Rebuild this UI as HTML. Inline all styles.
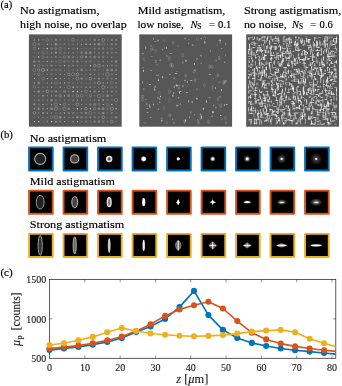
<!DOCTYPE html>
<html lang="en"><head><meta charset="utf-8"><title>Figure</title>
<style>html,body{margin:0;padding:0;background:#fff}svg{display:block}text{font-family:"Liberation Serif",serif;fill:#000}.b{stroke:#000;stroke-width:.16px}.t{fill:#1a1a1a;stroke:#1a1a1a;stroke-width:.12px}</style></head>
<body>
<svg width="342" height="386" viewBox="0 0 342 386">
<defs>
<radialGradient id="g6"><stop offset="0" stop-color="#fff" stop-opacity="1"/><stop offset="0.3" stop-color="#fff" stop-opacity="1"/><stop offset="0.6" stop-color="#fff" stop-opacity="0.5"/><stop offset="1" stop-color="#fff" stop-opacity="0"/></radialGradient>
<radialGradient id="g7"><stop offset="0" stop-color="#fff" stop-opacity="1"/><stop offset="0.25" stop-color="#fff" stop-opacity="0.95"/><stop offset="0.45" stop-color="#fff" stop-opacity="0.4"/><stop offset="0.7" stop-color="#fff" stop-opacity="0.15"/><stop offset="1" stop-color="#fff" stop-opacity="0"/></radialGradient>
<radialGradient id="g8"><stop offset="0" stop-color="#fff" stop-opacity="1"/><stop offset="0.14" stop-color="#fff" stop-opacity="0.9"/><stop offset="0.32" stop-color="#fff" stop-opacity="0.3"/><stop offset="0.6" stop-color="#fff" stop-opacity="0.15"/><stop offset="1" stop-color="#fff" stop-opacity="0"/></radialGradient>
<radialGradient id="g9"><stop offset="0" stop-color="#fff" stop-opacity="1"/><stop offset="0.1" stop-color="#fff" stop-opacity="0.9"/><stop offset="0.25" stop-color="#fff" stop-opacity="0.25"/><stop offset="0.6" stop-color="#fff" stop-opacity="0.12"/><stop offset="1" stop-color="#fff" stop-opacity="0"/></radialGradient>
<radialGradient id="gh"><stop offset="0" stop-color="#fff" stop-opacity="0.55"/><stop offset="0.5" stop-color="#fff" stop-opacity="0.3"/><stop offset="1" stop-color="#fff" stop-opacity="0"/></radialGradient>
<radialGradient id="gc"><stop offset="0" stop-color="#fff" stop-opacity="1"/><stop offset="0.6" stop-color="#fff" stop-opacity="1"/><stop offset="1" stop-color="#fff" stop-opacity="0"/></radialGradient>
<clipPath id="cp"><rect x="49.6" y="279.5" width="286.2" height="78.8"/></clipPath>
</defs>
<rect width="342" height="386" fill="#fff"/>
<text class="b" x="0.5" y="8.2" font-size="10.4" textLength="11.8" lengthAdjust="spacingAndGlyphs">(a)</text>
<text class="b" x="20" y="14.3" font-size="10.4" textLength="79.6" lengthAdjust="spacingAndGlyphs">No astigmatism,</text>
<text class="b" x="20" y="27.5" font-size="10.4" textLength="106.7" lengthAdjust="spacingAndGlyphs">high noise, no overlap</text>
<text class="b" x="137.7" y="14.3" font-size="10.4" textLength="87.7" lengthAdjust="spacingAndGlyphs">Mild astigmatism,</text>
<text class="b" x="137.4" y="27.5" font-size="10.4" textLength="46.5" lengthAdjust="spacingAndGlyphs">low noise,</text>
<text class="b" x="190.4" y="27.5" font-size="10.4" font-style="italic">N</text>
<text class="b" x="197.2" y="29.2" font-size="7.4">S</text>
<text class="b" x="209.0" y="27.5" font-size="10.4">=</text>
<text class="b" x="218.1" y="27.5" font-size="10.4" textLength="13.3" lengthAdjust="spacingAndGlyphs">0.1</text>
<text class="b" x="243.9" y="14.3" font-size="10.4" textLength="97.5" lengthAdjust="spacingAndGlyphs">Strong astigmatism,</text>
<text class="b" x="243.9" y="27.5" font-size="10.4" textLength="42.8" lengthAdjust="spacingAndGlyphs">no noise,</text>
<text class="b" x="291.9" y="27.5" font-size="10.4" font-style="italic">N</text>
<text class="b" x="298.9" y="29.2" font-size="7.4">S</text>
<text class="b" x="310.2" y="27.5" font-size="10.4">=</text>
<text class="b" x="319.6" y="27.5" font-size="10.4" textLength="13.3" lengthAdjust="spacingAndGlyphs">0.6</text>
<g><rect x="28.9" y="34.4" width="92.8" height="92.3" fill="#575757"/>
<circle cx="34.4" cy="39.9" r="0.98" fill="#fff" fill-opacity="0.23"/>
<circle cx="34.4" cy="44.2" r="1.47" fill="none" stroke="#fff" stroke-opacity="0.29" stroke-width="0.6"/>
<circle cx="34.4" cy="48.5" r="1.45" fill="none" stroke="#fff" stroke-opacity="0.21" stroke-width="0.6"/>
<circle cx="34.4" cy="52.8" r="0.93" fill="#fff" fill-opacity="0.12"/>
<circle cx="34.4" cy="57.1" r="1.31" fill="#fff" fill-opacity="0.12"/>
<circle cx="34.4" cy="61.4" r="1.21" fill="#fff" fill-opacity="0.29"/>
<circle cx="34.4" cy="65.7" r="1.10" fill="#fff" fill-opacity="0.30"/>
<circle cx="34.4" cy="70.0" r="1.63" fill="none" stroke="#fff" stroke-opacity="0.27" stroke-width="0.6"/>
<circle cx="34.4" cy="74.3" r="0.96" fill="#fff" fill-opacity="0.16"/>
<circle cx="34.4" cy="78.6" r="0.50" fill="#fff" fill-opacity="0.57"/>
<circle cx="34.4" cy="82.9" r="0.56" fill="#fff" fill-opacity="0.55"/>
<circle cx="34.4" cy="87.2" r="1.23" fill="none" stroke="#fff" stroke-opacity="0.25" stroke-width="0.6"/>
<circle cx="34.4" cy="91.5" r="0.58" fill="#fff" fill-opacity="0.42"/>
<circle cx="34.4" cy="95.8" r="1.13" fill="#fff" fill-opacity="0.16"/>
<circle cx="34.4" cy="100.1" r="0.66" fill="#fff" fill-opacity="0.38"/>
<circle cx="34.4" cy="104.4" r="1.16" fill="#fff" fill-opacity="0.28"/>
<circle cx="34.4" cy="108.7" r="0.54" fill="#fff" fill-opacity="0.79"/>
<circle cx="34.4" cy="113.0" r="1.41" fill="none" stroke="#fff" stroke-opacity="0.39" stroke-width="0.6"/>
<circle cx="34.4" cy="117.3" r="1.14" fill="#fff" fill-opacity="0.11"/>
<circle cx="34.4" cy="121.6" r="0.68" fill="#fff" fill-opacity="0.57"/>
<circle cx="38.7" cy="39.9" r="0.54" fill="#fff" fill-opacity="0.63"/>
<circle cx="38.7" cy="44.2" r="1.19" fill="#fff" fill-opacity="0.19"/>
<circle cx="38.7" cy="48.5" r="0.73" fill="#fff" fill-opacity="0.51"/>
<circle cx="38.7" cy="52.8" r="0.47" fill="#fff" fill-opacity="0.64"/>
<circle cx="38.7" cy="57.1" r="0.75" fill="#fff" fill-opacity="0.70"/>
<circle cx="38.7" cy="61.4" r="1.09" fill="#fff" fill-opacity="0.23"/>
<circle cx="38.7" cy="65.7" r="1.43" fill="none" stroke="#fff" stroke-opacity="0.24" stroke-width="0.6"/>
<circle cx="38.7" cy="70.0" r="1.23" fill="none" stroke="#fff" stroke-opacity="0.39" stroke-width="0.6"/>
<circle cx="38.7" cy="74.3" r="1.32" fill="none" stroke="#fff" stroke-opacity="0.30" stroke-width="0.6"/>
<circle cx="38.7" cy="78.6" r="0.47" fill="#fff" fill-opacity="0.50"/>
<circle cx="38.7" cy="82.9" r="1.34" fill="#fff" fill-opacity="0.26"/>
<circle cx="38.7" cy="87.2" r="0.53" fill="#fff" fill-opacity="0.48"/>
<circle cx="38.7" cy="91.5" r="1.34" fill="#fff" fill-opacity="0.29"/>
<circle cx="38.7" cy="95.8" r="0.99" fill="#fff" fill-opacity="0.15"/>
<circle cx="38.7" cy="100.1" r="1.14" fill="#fff" fill-opacity="0.22"/>
<circle cx="38.7" cy="104.4" r="0.90" fill="#fff" fill-opacity="0.18"/>
<circle cx="38.7" cy="108.7" r="1.18" fill="#fff" fill-opacity="0.29"/>
<circle cx="38.7" cy="113.0" r="0.60" fill="#fff" fill-opacity="0.59"/>
<circle cx="38.7" cy="117.3" r="0.47" fill="#fff" fill-opacity="0.74"/>
<circle cx="38.7" cy="121.6" r="0.71" fill="#fff" fill-opacity="0.69"/>
<circle cx="43.0" cy="39.9" r="1.10" fill="#fff" fill-opacity="0.12"/>
<circle cx="43.0" cy="44.2" r="0.47" fill="#fff" fill-opacity="0.29"/>
<circle cx="43.0" cy="48.5" r="0.98" fill="#fff" fill-opacity="0.17"/>
<circle cx="43.0" cy="52.8" r="1.20" fill="none" stroke="#fff" stroke-opacity="0.24" stroke-width="0.6"/>
<circle cx="43.0" cy="57.1" r="1.38" fill="none" stroke="#fff" stroke-opacity="0.21" stroke-width="0.6"/>
<circle cx="43.0" cy="61.4" r="0.63" fill="#fff" fill-opacity="0.33"/>
<circle cx="43.0" cy="65.7" r="1.07" fill="#fff" fill-opacity="0.17"/>
<circle cx="43.0" cy="70.0" r="1.62" fill="none" stroke="#fff" stroke-opacity="0.45" stroke-width="0.6"/>
<circle cx="43.0" cy="74.3" r="1.14" fill="#fff" fill-opacity="0.12"/>
<circle cx="43.0" cy="78.6" r="1.37" fill="none" stroke="#fff" stroke-opacity="0.27" stroke-width="0.6"/>
<circle cx="43.0" cy="82.9" r="0.50" fill="#fff" fill-opacity="0.26"/>
<circle cx="43.0" cy="87.2" r="0.61" fill="#fff" fill-opacity="0.33"/>
<circle cx="43.0" cy="91.5" r="0.91" fill="#fff" fill-opacity="0.21"/>
<circle cx="43.0" cy="95.8" r="0.71" fill="#fff" fill-opacity="0.63"/>
<circle cx="43.0" cy="100.1" r="1.08" fill="#fff" fill-opacity="0.13"/>
<circle cx="43.0" cy="104.4" r="0.61" fill="#fff" fill-opacity="0.68"/>
<circle cx="43.0" cy="108.7" r="1.01" fill="#fff" fill-opacity="0.26"/>
<circle cx="43.0" cy="113.0" r="0.71" fill="#fff" fill-opacity="0.69"/>
<circle cx="43.0" cy="117.3" r="0.67" fill="#fff" fill-opacity="0.37"/>
<circle cx="43.0" cy="121.6" r="1.08" fill="#fff" fill-opacity="0.11"/>
<circle cx="47.3" cy="39.9" r="1.34" fill="none" stroke="#fff" stroke-opacity="0.26" stroke-width="0.6"/>
<circle cx="47.3" cy="44.2" r="0.74" fill="#fff" fill-opacity="0.50"/>
<circle cx="47.3" cy="48.5" r="0.75" fill="#fff" fill-opacity="0.78"/>
<circle cx="47.3" cy="52.8" r="1.01" fill="#fff" fill-opacity="0.15"/>
<circle cx="47.3" cy="57.1" r="1.00" fill="#fff" fill-opacity="0.22"/>
<circle cx="47.3" cy="61.4" r="0.70" fill="#fff" fill-opacity="0.51"/>
<circle cx="47.3" cy="65.7" r="0.69" fill="#fff" fill-opacity="0.30"/>
<circle cx="47.3" cy="70.0" r="0.72" fill="#fff" fill-opacity="0.68"/>
<circle cx="47.3" cy="74.3" r="0.59" fill="#fff" fill-opacity="0.35"/>
<circle cx="47.3" cy="78.6" r="0.55" fill="#fff" fill-opacity="0.69"/>
<circle cx="47.3" cy="82.9" r="0.57" fill="#fff" fill-opacity="0.47"/>
<circle cx="47.3" cy="87.2" r="0.67" fill="#fff" fill-opacity="0.34"/>
<circle cx="47.3" cy="91.5" r="1.28" fill="none" stroke="#fff" stroke-opacity="0.43" stroke-width="0.6"/>
<circle cx="47.3" cy="95.8" r="0.49" fill="#fff" fill-opacity="0.70"/>
<circle cx="47.3" cy="100.1" r="0.65" fill="#fff" fill-opacity="0.44"/>
<circle cx="47.3" cy="104.4" r="0.97" fill="#fff" fill-opacity="0.10"/>
<circle cx="47.3" cy="108.7" r="0.64" fill="#fff" fill-opacity="0.54"/>
<circle cx="47.3" cy="113.0" r="0.58" fill="#fff" fill-opacity="0.73"/>
<circle cx="47.3" cy="117.3" r="0.51" fill="#fff" fill-opacity="0.39"/>
<circle cx="47.3" cy="121.6" r="1.02" fill="#fff" fill-opacity="0.22"/>
<circle cx="51.6" cy="39.9" r="1.11" fill="#fff" fill-opacity="0.13"/>
<circle cx="51.6" cy="44.2" r="0.56" fill="#fff" fill-opacity="0.50"/>
<circle cx="51.6" cy="48.5" r="1.35" fill="#fff" fill-opacity="0.18"/>
<circle cx="51.6" cy="52.8" r="0.60" fill="#fff" fill-opacity="0.54"/>
<circle cx="51.6" cy="57.1" r="0.91" fill="#fff" fill-opacity="0.19"/>
<circle cx="51.6" cy="61.4" r="0.90" fill="#fff" fill-opacity="0.26"/>
<circle cx="51.6" cy="65.7" r="1.14" fill="#fff" fill-opacity="0.25"/>
<circle cx="51.6" cy="70.0" r="1.06" fill="#fff" fill-opacity="0.20"/>
<circle cx="51.6" cy="74.3" r="1.29" fill="#fff" fill-opacity="0.12"/>
<circle cx="51.6" cy="78.6" r="1.02" fill="#fff" fill-opacity="0.16"/>
<circle cx="51.6" cy="82.9" r="0.60" fill="#fff" fill-opacity="0.56"/>
<circle cx="51.6" cy="87.2" r="0.72" fill="#fff" fill-opacity="0.49"/>
<circle cx="51.6" cy="91.5" r="1.15" fill="#fff" fill-opacity="0.20"/>
<circle cx="51.6" cy="95.8" r="0.59" fill="#fff" fill-opacity="0.54"/>
<circle cx="51.6" cy="100.1" r="1.37" fill="#fff" fill-opacity="0.24"/>
<circle cx="51.6" cy="104.4" r="0.73" fill="#fff" fill-opacity="0.39"/>
<circle cx="51.6" cy="108.7" r="1.37" fill="#fff" fill-opacity="0.27"/>
<circle cx="51.6" cy="113.0" r="0.96" fill="#fff" fill-opacity="0.19"/>
<circle cx="51.6" cy="117.3" r="1.32" fill="none" stroke="#fff" stroke-opacity="0.22" stroke-width="0.6"/>
<circle cx="51.6" cy="121.6" r="0.69" fill="#fff" fill-opacity="0.74"/>
<circle cx="55.9" cy="39.9" r="1.26" fill="#fff" fill-opacity="0.23"/>
<circle cx="55.9" cy="44.2" r="1.34" fill="#fff" fill-opacity="0.29"/>
<circle cx="55.9" cy="48.5" r="1.38" fill="#fff" fill-opacity="0.18"/>
<circle cx="55.9" cy="52.8" r="1.39" fill="#fff" fill-opacity="0.27"/>
<circle cx="55.9" cy="57.1" r="1.12" fill="#fff" fill-opacity="0.20"/>
<circle cx="55.9" cy="61.4" r="1.00" fill="#fff" fill-opacity="0.16"/>
<circle cx="55.9" cy="65.7" r="0.46" fill="#fff" fill-opacity="0.55"/>
<circle cx="55.9" cy="70.0" r="0.91" fill="#fff" fill-opacity="0.17"/>
<circle cx="55.9" cy="74.3" r="0.60" fill="#fff" fill-opacity="0.29"/>
<circle cx="55.9" cy="78.6" r="0.69" fill="#fff" fill-opacity="0.78"/>
<circle cx="55.9" cy="82.9" r="1.33" fill="none" stroke="#fff" stroke-opacity="0.21" stroke-width="0.6"/>
<circle cx="55.9" cy="87.2" r="0.53" fill="#fff" fill-opacity="0.32"/>
<circle cx="55.9" cy="91.5" r="1.36" fill="#fff" fill-opacity="0.26"/>
<circle cx="55.9" cy="95.8" r="0.97" fill="#fff" fill-opacity="0.28"/>
<circle cx="55.9" cy="100.1" r="1.25" fill="#fff" fill-opacity="0.12"/>
<circle cx="55.9" cy="104.4" r="1.54" fill="none" stroke="#fff" stroke-opacity="0.31" stroke-width="0.6"/>
<circle cx="55.9" cy="108.7" r="1.67" fill="none" stroke="#fff" stroke-opacity="0.36" stroke-width="0.6"/>
<circle cx="55.9" cy="113.0" r="0.48" fill="#fff" fill-opacity="0.72"/>
<circle cx="55.9" cy="117.3" r="1.63" fill="none" stroke="#fff" stroke-opacity="0.31" stroke-width="0.6"/>
<circle cx="55.9" cy="121.6" r="1.18" fill="#fff" fill-opacity="0.29"/>
<circle cx="60.2" cy="39.9" r="0.96" fill="#fff" fill-opacity="0.21"/>
<circle cx="60.2" cy="44.2" r="0.95" fill="#fff" fill-opacity="0.13"/>
<circle cx="60.2" cy="48.5" r="1.30" fill="none" stroke="#fff" stroke-opacity="0.28" stroke-width="0.6"/>
<circle cx="60.2" cy="52.8" r="1.28" fill="#fff" fill-opacity="0.16"/>
<circle cx="60.2" cy="57.1" r="0.99" fill="#fff" fill-opacity="0.17"/>
<circle cx="60.2" cy="61.4" r="1.33" fill="none" stroke="#fff" stroke-opacity="0.20" stroke-width="0.6"/>
<circle cx="60.2" cy="65.7" r="0.62" fill="#fff" fill-opacity="0.35"/>
<circle cx="60.2" cy="70.0" r="1.37" fill="#fff" fill-opacity="0.12"/>
<circle cx="60.2" cy="74.3" r="0.58" fill="#fff" fill-opacity="0.52"/>
<circle cx="60.2" cy="78.6" r="0.57" fill="#fff" fill-opacity="0.53"/>
<circle cx="60.2" cy="82.9" r="0.74" fill="#fff" fill-opacity="0.44"/>
<circle cx="60.2" cy="87.2" r="0.66" fill="#fff" fill-opacity="0.60"/>
<circle cx="60.2" cy="91.5" r="1.07" fill="#fff" fill-opacity="0.11"/>
<circle cx="60.2" cy="95.8" r="1.24" fill="none" stroke="#fff" stroke-opacity="0.39" stroke-width="0.6"/>
<circle cx="60.2" cy="100.1" r="0.98" fill="#fff" fill-opacity="0.12"/>
<circle cx="60.2" cy="104.4" r="0.71" fill="#fff" fill-opacity="0.62"/>
<circle cx="60.2" cy="108.7" r="1.02" fill="#fff" fill-opacity="0.16"/>
<circle cx="60.2" cy="113.0" r="0.98" fill="#fff" fill-opacity="0.19"/>
<circle cx="60.2" cy="117.3" r="1.38" fill="#fff" fill-opacity="0.29"/>
<circle cx="60.2" cy="121.6" r="1.02" fill="#fff" fill-opacity="0.29"/>
<circle cx="64.5" cy="39.9" r="1.08" fill="#fff" fill-opacity="0.10"/>
<circle cx="64.5" cy="44.2" r="1.14" fill="#fff" fill-opacity="0.20"/>
<circle cx="64.5" cy="48.5" r="1.15" fill="#fff" fill-opacity="0.10"/>
<circle cx="64.5" cy="52.8" r="0.94" fill="#fff" fill-opacity="0.18"/>
<circle cx="64.5" cy="57.1" r="1.21" fill="none" stroke="#fff" stroke-opacity="0.28" stroke-width="0.6"/>
<circle cx="64.5" cy="61.4" r="1.19" fill="#fff" fill-opacity="0.21"/>
<circle cx="64.5" cy="65.7" r="0.65" fill="#fff" fill-opacity="0.64"/>
<circle cx="64.5" cy="70.0" r="0.57" fill="#fff" fill-opacity="0.43"/>
<circle cx="64.5" cy="74.3" r="0.49" fill="#fff" fill-opacity="0.65"/>
<circle cx="64.5" cy="78.6" r="0.46" fill="#fff" fill-opacity="0.71"/>
<circle cx="64.5" cy="82.9" r="0.64" fill="#fff" fill-opacity="0.65"/>
<circle cx="64.5" cy="87.2" r="0.49" fill="#fff" fill-opacity="0.54"/>
<circle cx="64.5" cy="91.5" r="1.32" fill="#fff" fill-opacity="0.26"/>
<circle cx="64.5" cy="95.8" r="0.63" fill="#fff" fill-opacity="0.74"/>
<circle cx="64.5" cy="100.1" r="0.66" fill="#fff" fill-opacity="0.38"/>
<circle cx="64.5" cy="104.4" r="1.27" fill="none" stroke="#fff" stroke-opacity="0.29" stroke-width="0.6"/>
<circle cx="64.5" cy="108.7" r="1.62" fill="none" stroke="#fff" stroke-opacity="0.34" stroke-width="0.6"/>
<circle cx="64.5" cy="113.0" r="0.64" fill="#fff" fill-opacity="0.62"/>
<circle cx="64.5" cy="117.3" r="0.90" fill="#fff" fill-opacity="0.26"/>
<circle cx="64.5" cy="121.6" r="0.60" fill="#fff" fill-opacity="0.54"/>
<circle cx="68.8" cy="39.9" r="0.47" fill="#fff" fill-opacity="0.66"/>
<circle cx="68.8" cy="44.2" r="0.94" fill="#fff" fill-opacity="0.15"/>
<circle cx="68.8" cy="48.5" r="0.51" fill="#fff" fill-opacity="0.66"/>
<circle cx="68.8" cy="52.8" r="0.60" fill="#fff" fill-opacity="0.46"/>
<circle cx="68.8" cy="57.1" r="1.24" fill="#fff" fill-opacity="0.25"/>
<circle cx="68.8" cy="61.4" r="1.22" fill="#fff" fill-opacity="0.12"/>
<circle cx="68.8" cy="65.7" r="1.03" fill="#fff" fill-opacity="0.25"/>
<circle cx="68.8" cy="70.0" r="1.18" fill="#fff" fill-opacity="0.10"/>
<circle cx="68.8" cy="74.3" r="1.33" fill="none" stroke="#fff" stroke-opacity="0.37" stroke-width="0.6"/>
<circle cx="68.8" cy="78.6" r="0.65" fill="#fff" fill-opacity="0.41"/>
<circle cx="68.8" cy="82.9" r="1.13" fill="#fff" fill-opacity="0.19"/>
<circle cx="68.8" cy="87.2" r="1.65" fill="none" stroke="#fff" stroke-opacity="0.25" stroke-width="0.6"/>
<circle cx="68.8" cy="91.5" r="0.73" fill="#fff" fill-opacity="0.26"/>
<circle cx="68.8" cy="95.8" r="1.31" fill="#fff" fill-opacity="0.29"/>
<circle cx="68.8" cy="100.1" r="1.03" fill="#fff" fill-opacity="0.14"/>
<circle cx="68.8" cy="104.4" r="0.51" fill="#fff" fill-opacity="0.57"/>
<circle cx="68.8" cy="108.7" r="1.16" fill="#fff" fill-opacity="0.29"/>
<circle cx="68.8" cy="113.0" r="1.31" fill="#fff" fill-opacity="0.20"/>
<circle cx="68.8" cy="117.3" r="0.66" fill="#fff" fill-opacity="0.38"/>
<circle cx="68.8" cy="121.6" r="0.60" fill="#fff" fill-opacity="0.26"/>
<circle cx="73.1" cy="39.9" r="1.45" fill="none" stroke="#fff" stroke-opacity="0.31" stroke-width="0.6"/>
<circle cx="73.1" cy="44.2" r="0.97" fill="#fff" fill-opacity="0.17"/>
<circle cx="73.1" cy="48.5" r="1.32" fill="#fff" fill-opacity="0.10"/>
<circle cx="73.1" cy="52.8" r="0.70" fill="#fff" fill-opacity="0.32"/>
<circle cx="73.1" cy="57.1" r="0.66" fill="#fff" fill-opacity="0.75"/>
<circle cx="73.1" cy="61.4" r="1.09" fill="#fff" fill-opacity="0.18"/>
<circle cx="73.1" cy="65.7" r="0.63" fill="#fff" fill-opacity="0.45"/>
<circle cx="73.1" cy="70.0" r="1.04" fill="#fff" fill-opacity="0.11"/>
<circle cx="73.1" cy="74.3" r="1.62" fill="none" stroke="#fff" stroke-opacity="0.27" stroke-width="0.6"/>
<circle cx="73.1" cy="78.6" r="0.52" fill="#fff" fill-opacity="0.40"/>
<circle cx="73.1" cy="82.9" r="0.99" fill="#fff" fill-opacity="0.17"/>
<circle cx="73.1" cy="87.2" r="0.72" fill="#fff" fill-opacity="0.70"/>
<circle cx="73.1" cy="91.5" r="0.72" fill="#fff" fill-opacity="0.77"/>
<circle cx="73.1" cy="95.8" r="1.26" fill="#fff" fill-opacity="0.11"/>
<circle cx="73.1" cy="100.1" r="0.59" fill="#fff" fill-opacity="0.66"/>
<circle cx="73.1" cy="104.4" r="0.54" fill="#fff" fill-opacity="0.28"/>
<circle cx="73.1" cy="108.7" r="0.49" fill="#fff" fill-opacity="0.51"/>
<circle cx="73.1" cy="113.0" r="1.05" fill="#fff" fill-opacity="0.25"/>
<circle cx="73.1" cy="117.3" r="0.53" fill="#fff" fill-opacity="0.61"/>
<circle cx="73.1" cy="121.6" r="1.18" fill="#fff" fill-opacity="0.18"/>
<circle cx="77.4" cy="39.9" r="0.98" fill="#fff" fill-opacity="0.14"/>
<circle cx="77.4" cy="44.2" r="0.60" fill="#fff" fill-opacity="0.37"/>
<circle cx="77.4" cy="48.5" r="0.75" fill="#fff" fill-opacity="0.50"/>
<circle cx="77.4" cy="52.8" r="1.00" fill="#fff" fill-opacity="0.12"/>
<circle cx="77.4" cy="57.1" r="0.95" fill="#fff" fill-opacity="0.15"/>
<circle cx="77.4" cy="61.4" r="1.18" fill="#fff" fill-opacity="0.28"/>
<circle cx="77.4" cy="65.7" r="0.57" fill="#fff" fill-opacity="0.48"/>
<circle cx="77.4" cy="70.0" r="1.09" fill="#fff" fill-opacity="0.17"/>
<circle cx="77.4" cy="74.3" r="1.34" fill="none" stroke="#fff" stroke-opacity="0.44" stroke-width="0.6"/>
<circle cx="77.4" cy="78.6" r="1.45" fill="none" stroke="#fff" stroke-opacity="0.36" stroke-width="0.6"/>
<circle cx="77.4" cy="82.9" r="0.51" fill="#fff" fill-opacity="0.40"/>
<circle cx="77.4" cy="87.2" r="1.10" fill="#fff" fill-opacity="0.19"/>
<circle cx="77.4" cy="91.5" r="0.70" fill="#fff" fill-opacity="0.73"/>
<circle cx="77.4" cy="95.8" r="1.22" fill="none" stroke="#fff" stroke-opacity="0.38" stroke-width="0.6"/>
<circle cx="77.4" cy="100.1" r="0.59" fill="#fff" fill-opacity="0.57"/>
<circle cx="77.4" cy="104.4" r="1.40" fill="none" stroke="#fff" stroke-opacity="0.43" stroke-width="0.6"/>
<circle cx="77.4" cy="108.7" r="0.71" fill="#fff" fill-opacity="0.78"/>
<circle cx="77.4" cy="113.0" r="0.95" fill="#fff" fill-opacity="0.13"/>
<circle cx="77.4" cy="117.3" r="1.24" fill="#fff" fill-opacity="0.29"/>
<circle cx="77.4" cy="121.6" r="0.64" fill="#fff" fill-opacity="0.67"/>
<circle cx="81.7" cy="39.9" r="1.18" fill="#fff" fill-opacity="0.11"/>
<circle cx="81.7" cy="44.2" r="0.52" fill="#fff" fill-opacity="0.76"/>
<circle cx="81.7" cy="48.5" r="0.54" fill="#fff" fill-opacity="0.32"/>
<circle cx="81.7" cy="52.8" r="1.22" fill="#fff" fill-opacity="0.24"/>
<circle cx="81.7" cy="57.1" r="1.24" fill="none" stroke="#fff" stroke-opacity="0.33" stroke-width="0.6"/>
<circle cx="81.7" cy="61.4" r="1.09" fill="#fff" fill-opacity="0.14"/>
<circle cx="81.7" cy="65.7" r="0.91" fill="#fff" fill-opacity="0.16"/>
<circle cx="81.7" cy="70.0" r="1.38" fill="#fff" fill-opacity="0.23"/>
<circle cx="81.7" cy="74.3" r="0.59" fill="#fff" fill-opacity="0.38"/>
<circle cx="81.7" cy="78.6" r="1.38" fill="#fff" fill-opacity="0.24"/>
<circle cx="81.7" cy="82.9" r="0.91" fill="#fff" fill-opacity="0.20"/>
<circle cx="81.7" cy="87.2" r="0.58" fill="#fff" fill-opacity="0.39"/>
<circle cx="81.7" cy="91.5" r="0.73" fill="#fff" fill-opacity="0.37"/>
<circle cx="81.7" cy="95.8" r="1.37" fill="none" stroke="#fff" stroke-opacity="0.31" stroke-width="0.6"/>
<circle cx="81.7" cy="100.1" r="0.51" fill="#fff" fill-opacity="0.69"/>
<circle cx="81.7" cy="104.4" r="0.60" fill="#fff" fill-opacity="0.36"/>
<circle cx="81.7" cy="108.7" r="0.54" fill="#fff" fill-opacity="0.70"/>
<circle cx="81.7" cy="113.0" r="1.01" fill="#fff" fill-opacity="0.25"/>
<circle cx="81.7" cy="117.3" r="1.38" fill="#fff" fill-opacity="0.20"/>
<circle cx="81.7" cy="121.6" r="1.01" fill="#fff" fill-opacity="0.18"/>
<circle cx="86.0" cy="39.9" r="0.73" fill="#fff" fill-opacity="0.33"/>
<circle cx="86.0" cy="44.2" r="1.01" fill="#fff" fill-opacity="0.29"/>
<circle cx="86.0" cy="48.5" r="0.93" fill="#fff" fill-opacity="0.11"/>
<circle cx="86.0" cy="52.8" r="1.35" fill="#fff" fill-opacity="0.28"/>
<circle cx="86.0" cy="57.1" r="0.75" fill="#fff" fill-opacity="0.76"/>
<circle cx="86.0" cy="61.4" r="0.99" fill="#fff" fill-opacity="0.29"/>
<circle cx="86.0" cy="65.7" r="0.46" fill="#fff" fill-opacity="0.62"/>
<circle cx="86.0" cy="70.0" r="1.09" fill="#fff" fill-opacity="0.17"/>
<circle cx="86.0" cy="74.3" r="0.90" fill="#fff" fill-opacity="0.16"/>
<circle cx="86.0" cy="78.6" r="1.38" fill="#fff" fill-opacity="0.12"/>
<circle cx="86.0" cy="82.9" r="0.51" fill="#fff" fill-opacity="0.45"/>
<circle cx="86.0" cy="87.2" r="0.70" fill="#fff" fill-opacity="0.49"/>
<circle cx="86.0" cy="91.5" r="1.44" fill="none" stroke="#fff" stroke-opacity="0.29" stroke-width="0.6"/>
<circle cx="86.0" cy="95.8" r="0.51" fill="#fff" fill-opacity="0.45"/>
<circle cx="86.0" cy="100.1" r="0.46" fill="#fff" fill-opacity="0.48"/>
<circle cx="86.0" cy="104.4" r="0.68" fill="#fff" fill-opacity="0.27"/>
<circle cx="86.0" cy="108.7" r="1.23" fill="none" stroke="#fff" stroke-opacity="0.43" stroke-width="0.6"/>
<circle cx="86.0" cy="113.0" r="1.27" fill="#fff" fill-opacity="0.28"/>
<circle cx="86.0" cy="117.3" r="1.04" fill="#fff" fill-opacity="0.29"/>
<circle cx="86.0" cy="121.6" r="1.03" fill="#fff" fill-opacity="0.24"/>
<circle cx="90.3" cy="39.9" r="1.04" fill="#fff" fill-opacity="0.10"/>
<circle cx="90.3" cy="44.2" r="0.72" fill="#fff" fill-opacity="0.60"/>
<circle cx="90.3" cy="48.5" r="0.46" fill="#fff" fill-opacity="0.38"/>
<circle cx="90.3" cy="52.8" r="1.38" fill="#fff" fill-opacity="0.29"/>
<circle cx="90.3" cy="57.1" r="1.03" fill="#fff" fill-opacity="0.19"/>
<circle cx="90.3" cy="61.4" r="1.36" fill="#fff" fill-opacity="0.14"/>
<circle cx="90.3" cy="65.7" r="0.67" fill="#fff" fill-opacity="0.70"/>
<circle cx="90.3" cy="70.0" r="0.63" fill="#fff" fill-opacity="0.43"/>
<circle cx="90.3" cy="74.3" r="1.08" fill="#fff" fill-opacity="0.26"/>
<circle cx="90.3" cy="78.6" r="1.30" fill="none" stroke="#fff" stroke-opacity="0.39" stroke-width="0.6"/>
<circle cx="90.3" cy="82.9" r="0.93" fill="#fff" fill-opacity="0.11"/>
<circle cx="90.3" cy="87.2" r="1.06" fill="#fff" fill-opacity="0.30"/>
<circle cx="90.3" cy="91.5" r="0.75" fill="#fff" fill-opacity="0.40"/>
<circle cx="90.3" cy="95.8" r="1.25" fill="none" stroke="#fff" stroke-opacity="0.32" stroke-width="0.6"/>
<circle cx="90.3" cy="100.1" r="0.58" fill="#fff" fill-opacity="0.38"/>
<circle cx="90.3" cy="104.4" r="1.21" fill="#fff" fill-opacity="0.23"/>
<circle cx="90.3" cy="108.7" r="0.70" fill="#fff" fill-opacity="0.62"/>
<circle cx="90.3" cy="113.0" r="1.62" fill="none" stroke="#fff" stroke-opacity="0.27" stroke-width="0.6"/>
<circle cx="90.3" cy="117.3" r="1.09" fill="#fff" fill-opacity="0.25"/>
<circle cx="90.3" cy="121.6" r="1.02" fill="#fff" fill-opacity="0.15"/>
<circle cx="94.6" cy="39.9" r="1.34" fill="#fff" fill-opacity="0.22"/>
<circle cx="94.6" cy="44.2" r="1.10" fill="#fff" fill-opacity="0.30"/>
<circle cx="94.6" cy="48.5" r="1.02" fill="#fff" fill-opacity="0.26"/>
<circle cx="94.6" cy="52.8" r="0.75" fill="#fff" fill-opacity="0.31"/>
<circle cx="94.6" cy="57.1" r="1.31" fill="#fff" fill-opacity="0.27"/>
<circle cx="94.6" cy="61.4" r="0.46" fill="#fff" fill-opacity="0.41"/>
<circle cx="94.6" cy="65.7" r="1.29" fill="none" stroke="#fff" stroke-opacity="0.44" stroke-width="0.6"/>
<circle cx="94.6" cy="70.0" r="1.37" fill="#fff" fill-opacity="0.17"/>
<circle cx="94.6" cy="74.3" r="0.58" fill="#fff" fill-opacity="0.39"/>
<circle cx="94.6" cy="78.6" r="0.73" fill="#fff" fill-opacity="0.31"/>
<circle cx="94.6" cy="82.9" r="1.21" fill="#fff" fill-opacity="0.14"/>
<circle cx="94.6" cy="87.2" r="0.97" fill="#fff" fill-opacity="0.14"/>
<circle cx="94.6" cy="91.5" r="1.20" fill="#fff" fill-opacity="0.23"/>
<circle cx="94.6" cy="95.8" r="0.91" fill="#fff" fill-opacity="0.17"/>
<circle cx="94.6" cy="100.1" r="0.51" fill="#fff" fill-opacity="0.42"/>
<circle cx="94.6" cy="104.4" r="1.30" fill="#fff" fill-opacity="0.21"/>
<circle cx="94.6" cy="108.7" r="1.25" fill="none" stroke="#fff" stroke-opacity="0.30" stroke-width="0.6"/>
<circle cx="94.6" cy="113.0" r="1.22" fill="#fff" fill-opacity="0.12"/>
<circle cx="94.6" cy="117.3" r="1.25" fill="#fff" fill-opacity="0.18"/>
<circle cx="94.6" cy="121.6" r="1.05" fill="#fff" fill-opacity="0.29"/>
<circle cx="98.9" cy="39.9" r="1.18" fill="#fff" fill-opacity="0.17"/>
<circle cx="98.9" cy="44.2" r="1.33" fill="#fff" fill-opacity="0.30"/>
<circle cx="98.9" cy="48.5" r="1.00" fill="#fff" fill-opacity="0.25"/>
<circle cx="98.9" cy="52.8" r="0.90" fill="#fff" fill-opacity="0.28"/>
<circle cx="98.9" cy="57.1" r="1.31" fill="#fff" fill-opacity="0.18"/>
<circle cx="98.9" cy="61.4" r="0.59" fill="#fff" fill-opacity="0.34"/>
<circle cx="98.9" cy="65.7" r="1.48" fill="none" stroke="#fff" stroke-opacity="0.36" stroke-width="0.6"/>
<circle cx="98.9" cy="70.0" r="0.48" fill="#fff" fill-opacity="0.59"/>
<circle cx="98.9" cy="74.3" r="1.15" fill="#fff" fill-opacity="0.13"/>
<circle cx="98.9" cy="78.6" r="1.16" fill="#fff" fill-opacity="0.29"/>
<circle cx="98.9" cy="82.9" r="1.45" fill="none" stroke="#fff" stroke-opacity="0.40" stroke-width="0.6"/>
<circle cx="98.9" cy="87.2" r="0.51" fill="#fff" fill-opacity="0.32"/>
<circle cx="98.9" cy="91.5" r="0.74" fill="#fff" fill-opacity="0.52"/>
<circle cx="98.9" cy="95.8" r="1.66" fill="none" stroke="#fff" stroke-opacity="0.30" stroke-width="0.6"/>
<circle cx="98.9" cy="100.1" r="0.64" fill="#fff" fill-opacity="0.70"/>
<circle cx="98.9" cy="104.4" r="1.29" fill="#fff" fill-opacity="0.14"/>
<circle cx="98.9" cy="108.7" r="1.32" fill="#fff" fill-opacity="0.27"/>
<circle cx="98.9" cy="113.0" r="1.01" fill="#fff" fill-opacity="0.18"/>
<circle cx="98.9" cy="117.3" r="1.09" fill="#fff" fill-opacity="0.12"/>
<circle cx="98.9" cy="121.6" r="1.26" fill="#fff" fill-opacity="0.28"/>
<circle cx="103.2" cy="39.9" r="1.48" fill="none" stroke="#fff" stroke-opacity="0.39" stroke-width="0.6"/>
<circle cx="103.2" cy="44.2" r="1.62" fill="none" stroke="#fff" stroke-opacity="0.23" stroke-width="0.6"/>
<circle cx="103.2" cy="48.5" r="1.18" fill="#fff" fill-opacity="0.23"/>
<circle cx="103.2" cy="52.8" r="1.11" fill="#fff" fill-opacity="0.22"/>
<circle cx="103.2" cy="57.1" r="1.23" fill="#fff" fill-opacity="0.19"/>
<circle cx="103.2" cy="61.4" r="0.91" fill="#fff" fill-opacity="0.22"/>
<circle cx="103.2" cy="65.7" r="1.02" fill="#fff" fill-opacity="0.25"/>
<circle cx="103.2" cy="70.0" r="0.59" fill="#fff" fill-opacity="0.35"/>
<circle cx="103.2" cy="74.3" r="0.95" fill="#fff" fill-opacity="0.13"/>
<circle cx="103.2" cy="78.6" r="0.95" fill="#fff" fill-opacity="0.19"/>
<circle cx="103.2" cy="82.9" r="0.92" fill="#fff" fill-opacity="0.23"/>
<circle cx="103.2" cy="87.2" r="1.57" fill="none" stroke="#fff" stroke-opacity="0.39" stroke-width="0.6"/>
<circle cx="103.2" cy="91.5" r="0.93" fill="#fff" fill-opacity="0.20"/>
<circle cx="103.2" cy="95.8" r="1.38" fill="#fff" fill-opacity="0.13"/>
<circle cx="103.2" cy="100.1" r="0.75" fill="#fff" fill-opacity="0.65"/>
<circle cx="103.2" cy="104.4" r="0.51" fill="#fff" fill-opacity="0.79"/>
<circle cx="103.2" cy="108.7" r="1.38" fill="#fff" fill-opacity="0.28"/>
<circle cx="103.2" cy="113.0" r="1.29" fill="#fff" fill-opacity="0.29"/>
<circle cx="103.2" cy="117.3" r="1.38" fill="none" stroke="#fff" stroke-opacity="0.39" stroke-width="0.6"/>
<circle cx="103.2" cy="121.6" r="1.35" fill="#fff" fill-opacity="0.15"/>
<circle cx="107.5" cy="39.9" r="0.49" fill="#fff" fill-opacity="0.53"/>
<circle cx="107.5" cy="44.2" r="0.51" fill="#fff" fill-opacity="0.39"/>
<circle cx="107.5" cy="48.5" r="1.06" fill="#fff" fill-opacity="0.11"/>
<circle cx="107.5" cy="52.8" r="0.98" fill="#fff" fill-opacity="0.29"/>
<circle cx="107.5" cy="57.1" r="0.72" fill="#fff" fill-opacity="0.34"/>
<circle cx="107.5" cy="61.4" r="0.48" fill="#fff" fill-opacity="0.54"/>
<circle cx="107.5" cy="65.7" r="0.56" fill="#fff" fill-opacity="0.73"/>
<circle cx="107.5" cy="70.0" r="1.19" fill="#fff" fill-opacity="0.28"/>
<circle cx="107.5" cy="74.3" r="1.70" fill="none" stroke="#fff" stroke-opacity="0.36" stroke-width="0.6"/>
<circle cx="107.5" cy="78.6" r="1.30" fill="#fff" fill-opacity="0.15"/>
<circle cx="107.5" cy="82.9" r="0.62" fill="#fff" fill-opacity="0.45"/>
<circle cx="107.5" cy="87.2" r="0.58" fill="#fff" fill-opacity="0.35"/>
<circle cx="107.5" cy="91.5" r="0.46" fill="#fff" fill-opacity="0.70"/>
<circle cx="107.5" cy="95.8" r="1.22" fill="#fff" fill-opacity="0.30"/>
<circle cx="107.5" cy="100.1" r="1.23" fill="#fff" fill-opacity="0.16"/>
<circle cx="107.5" cy="104.4" r="1.22" fill="none" stroke="#fff" stroke-opacity="0.24" stroke-width="0.6"/>
<circle cx="107.5" cy="108.7" r="1.12" fill="#fff" fill-opacity="0.20"/>
<circle cx="107.5" cy="113.0" r="0.49" fill="#fff" fill-opacity="0.37"/>
<circle cx="107.5" cy="117.3" r="0.46" fill="#fff" fill-opacity="0.25"/>
<circle cx="107.5" cy="121.6" r="0.95" fill="#fff" fill-opacity="0.17"/>
<circle cx="111.8" cy="39.9" r="1.19" fill="#fff" fill-opacity="0.22"/>
<circle cx="111.8" cy="44.2" r="1.21" fill="#fff" fill-opacity="0.19"/>
<circle cx="111.8" cy="48.5" r="1.37" fill="#fff" fill-opacity="0.15"/>
<circle cx="111.8" cy="52.8" r="0.95" fill="#fff" fill-opacity="0.23"/>
<circle cx="111.8" cy="57.1" r="0.68" fill="#fff" fill-opacity="0.47"/>
<circle cx="111.8" cy="61.4" r="0.91" fill="#fff" fill-opacity="0.23"/>
<circle cx="111.8" cy="65.7" r="1.08" fill="#fff" fill-opacity="0.23"/>
<circle cx="111.8" cy="70.0" r="1.37" fill="#fff" fill-opacity="0.25"/>
<circle cx="111.8" cy="74.3" r="1.35" fill="#fff" fill-opacity="0.11"/>
<circle cx="111.8" cy="78.6" r="1.10" fill="#fff" fill-opacity="0.15"/>
<circle cx="111.8" cy="82.9" r="1.59" fill="none" stroke="#fff" stroke-opacity="0.20" stroke-width="0.6"/>
<circle cx="111.8" cy="87.2" r="1.37" fill="#fff" fill-opacity="0.13"/>
<circle cx="111.8" cy="91.5" r="1.20" fill="#fff" fill-opacity="0.20"/>
<circle cx="111.8" cy="95.8" r="0.69" fill="#fff" fill-opacity="0.35"/>
<circle cx="111.8" cy="100.1" r="1.05" fill="#fff" fill-opacity="0.11"/>
<circle cx="111.8" cy="104.4" r="0.68" fill="#fff" fill-opacity="0.64"/>
<circle cx="111.8" cy="108.7" r="1.62" fill="none" stroke="#fff" stroke-opacity="0.39" stroke-width="0.6"/>
<circle cx="111.8" cy="113.0" r="1.27" fill="#fff" fill-opacity="0.19"/>
<circle cx="111.8" cy="117.3" r="0.95" fill="#fff" fill-opacity="0.15"/>
<circle cx="111.8" cy="121.6" r="1.37" fill="none" stroke="#fff" stroke-opacity="0.39" stroke-width="0.6"/>
<circle cx="116.1" cy="39.9" r="0.70" fill="#fff" fill-opacity="0.64"/>
<circle cx="116.1" cy="44.2" r="1.18" fill="#fff" fill-opacity="0.19"/>
<circle cx="116.1" cy="48.5" r="0.61" fill="#fff" fill-opacity="0.40"/>
<circle cx="116.1" cy="52.8" r="0.74" fill="#fff" fill-opacity="0.37"/>
<circle cx="116.1" cy="57.1" r="0.45" fill="#fff" fill-opacity="0.39"/>
<circle cx="116.1" cy="61.4" r="1.27" fill="#fff" fill-opacity="0.29"/>
<circle cx="116.1" cy="65.7" r="0.55" fill="#fff" fill-opacity="0.73"/>
<circle cx="116.1" cy="70.0" r="1.02" fill="#fff" fill-opacity="0.28"/>
<circle cx="116.1" cy="74.3" r="0.66" fill="#fff" fill-opacity="0.62"/>
<circle cx="116.1" cy="78.6" r="0.59" fill="#fff" fill-opacity="0.71"/>
<circle cx="116.1" cy="82.9" r="0.71" fill="#fff" fill-opacity="0.49"/>
<circle cx="116.1" cy="87.2" r="0.62" fill="#fff" fill-opacity="0.42"/>
<circle cx="116.1" cy="91.5" r="1.21" fill="#fff" fill-opacity="0.12"/>
<circle cx="116.1" cy="95.8" r="0.49" fill="#fff" fill-opacity="0.26"/>
<circle cx="116.1" cy="100.1" r="1.66" fill="none" stroke="#fff" stroke-opacity="0.29" stroke-width="0.6"/>
<circle cx="116.1" cy="104.4" r="0.91" fill="#fff" fill-opacity="0.11"/>
<circle cx="116.1" cy="108.7" r="0.64" fill="#fff" fill-opacity="0.63"/>
<circle cx="116.1" cy="113.0" r="0.47" fill="#fff" fill-opacity="0.57"/>
<circle cx="116.1" cy="117.3" r="1.31" fill="#fff" fill-opacity="0.26"/>
<circle cx="116.1" cy="121.6" r="0.47" fill="#fff" fill-opacity="0.73"/>
</g>
<g><rect x="139.3" y="34.4" width="92.8" height="92.3" fill="#575757"/>
<ellipse cx="221.7" cy="118.9" rx="0.76" ry="1.48" fill="none" stroke="#fff" stroke-opacity="0.21" stroke-width="0.5"/>
<ellipse cx="215.9" cy="107.5" rx="0.52" ry="1.08" fill="#fff" fill-opacity="0.51"/>
<ellipse cx="151.0" cy="45.8" rx="0.39" ry="0.89" fill="#fff" fill-opacity="0.58"/>
<ellipse cx="144.1" cy="59.6" rx="0.91" ry="1.66" fill="none" stroke="#fff" stroke-opacity="0.28" stroke-width="0.5"/>
<ellipse cx="226.0" cy="80.9" rx="1.23" ry="0.30" fill="#fff" fill-opacity="0.56"/>
<ellipse cx="180.2" cy="104.1" rx="0.49" ry="1.02" fill="#fff" fill-opacity="0.47"/>
<ellipse cx="217.1" cy="45.2" rx="0.38" ry="0.70" fill="#fff" fill-opacity="0.46"/>
<ellipse cx="208.5" cy="121.8" rx="0.85" ry="1.74" fill="none" stroke="#fff" stroke-opacity="0.40" stroke-width="0.5"/>
<ellipse cx="158.3" cy="80.1" rx="0.52" ry="0.86" fill="#fff" fill-opacity="0.87"/>
<ellipse cx="166.9" cy="55.9" rx="0.45" ry="0.77" fill="#fff" fill-opacity="0.70"/>
<ellipse cx="149.3" cy="105.4" rx="0.51" ry="1.08" fill="#fff" fill-opacity="0.55"/>
<ellipse cx="177.1" cy="71.5" rx="0.86" ry="0.43" fill="#fff" fill-opacity="0.36"/>
<ellipse cx="160.2" cy="60.1" rx="1.15" ry="0.36" fill="#fff" fill-opacity="0.79"/>
<ellipse cx="162.6" cy="77.2" rx="0.50" ry="1.15" fill="#fff" fill-opacity="0.71"/>
<ellipse cx="172.5" cy="65.6" rx="0.95" ry="1.86" fill="none" stroke="#fff" stroke-opacity="0.39" stroke-width="0.5"/>
<ellipse cx="157.0" cy="75.3" rx="0.47" ry="0.78" fill="#fff" fill-opacity="0.60"/>
<ellipse cx="219.1" cy="57.9" rx="0.79" ry="1.89" fill="none" stroke="#fff" stroke-opacity="0.41" stroke-width="0.5"/>
<ellipse cx="155.7" cy="50.9" rx="0.80" ry="1.77" fill="none" stroke="#fff" stroke-opacity="0.24" stroke-width="0.5"/>
<ellipse cx="170.8" cy="53.7" rx="1.31" ry="0.32" fill="#fff" fill-opacity="0.83"/>
<ellipse cx="151.1" cy="70.6" rx="1.36" ry="0.41" fill="#fff" fill-opacity="0.57"/>
<ellipse cx="159.3" cy="92.5" rx="0.76" ry="1.67" fill="none" stroke="#fff" stroke-opacity="0.21" stroke-width="0.5"/>
<ellipse cx="176.9" cy="105.7" rx="0.45" ry="1.08" fill="#fff" fill-opacity="0.60"/>
<ellipse cx="154.6" cy="89.5" rx="0.50" ry="1.24" fill="#fff" fill-opacity="0.59"/>
<ellipse cx="192.1" cy="102.0" rx="0.40" ry="1.13" fill="#fff" fill-opacity="0.83"/>
<ellipse cx="209.5" cy="97.8" rx="1.28" ry="0.40" fill="#fff" fill-opacity="0.58"/>
<ellipse cx="169.5" cy="91.6" rx="0.83" ry="1.95" fill="none" stroke="#fff" stroke-opacity="0.38" stroke-width="0.5"/>
<ellipse cx="197.0" cy="59.0" rx="0.44" ry="1.07" fill="#fff" fill-opacity="0.58"/>
<ellipse cx="200.9" cy="117.7" rx="0.90" ry="1.94" fill="none" stroke="#fff" stroke-opacity="0.30" stroke-width="0.5"/>
<ellipse cx="184.8" cy="121.5" rx="0.86" ry="1.51" fill="none" stroke="#fff" stroke-opacity="0.40" stroke-width="0.5"/>
<ellipse cx="223.9" cy="82.2" rx="0.87" ry="1.78" fill="none" stroke="#fff" stroke-opacity="0.38" stroke-width="0.5"/>
<ellipse cx="186.8" cy="92.6" rx="1.17" ry="0.36" fill="#fff" fill-opacity="0.82"/>
<ellipse cx="160.5" cy="96.5" rx="0.50" ry="0.77" fill="#fff" fill-opacity="0.89"/>
<ellipse cx="173.2" cy="42.3" rx="0.82" ry="1.41" fill="none" stroke="#fff" stroke-opacity="0.30" stroke-width="0.5"/>
<ellipse cx="178.8" cy="97.7" rx="0.40" ry="0.83" fill="#fff" fill-opacity="0.76"/>
<ellipse cx="223.9" cy="82.9" rx="0.94" ry="1.67" fill="none" stroke="#fff" stroke-opacity="0.25" stroke-width="0.5"/>
<ellipse cx="153.5" cy="104.4" rx="0.48" ry="0.98" fill="#fff" fill-opacity="0.66"/>
<ellipse cx="161.9" cy="120.6" rx="0.48" ry="1.19" fill="#fff" fill-opacity="0.80"/>
<ellipse cx="182.9" cy="62.8" rx="0.38" ry="1.20" fill="#fff" fill-opacity="0.55"/>
<ellipse cx="216.1" cy="60.5" rx="0.40" ry="0.96" fill="#fff" fill-opacity="0.45"/>
<ellipse cx="142.5" cy="99.7" rx="0.77" ry="1.61" fill="none" stroke="#fff" stroke-opacity="0.32" stroke-width="0.5"/>
<ellipse cx="179.5" cy="92.4" rx="0.42" ry="1.26" fill="#fff" fill-opacity="0.82"/>
<ellipse cx="147.3" cy="108.8" rx="1.35" ry="0.32" fill="#fff" fill-opacity="0.77"/>
<ellipse cx="197.3" cy="38.7" rx="0.99" ry="1.86" fill="none" stroke="#fff" stroke-opacity="0.26" stroke-width="0.5"/>
<ellipse cx="151.1" cy="49.7" rx="0.93" ry="1.64" fill="none" stroke="#fff" stroke-opacity="0.24" stroke-width="0.5"/>
<ellipse cx="220.8" cy="105.7" rx="0.97" ry="1.83" fill="none" stroke="#fff" stroke-opacity="0.40" stroke-width="0.5"/>
<ellipse cx="200.3" cy="114.5" rx="0.52" ry="0.82" fill="#fff" fill-opacity="0.73"/>
<ellipse cx="188.4" cy="101.4" rx="0.53" ry="1.03" fill="#fff" fill-opacity="0.50"/>
<ellipse cx="162.6" cy="49.4" rx="0.36" ry="0.98" fill="#fff" fill-opacity="0.43"/>
<ellipse cx="185.0" cy="80.4" rx="0.52" ry="0.70" fill="#fff" fill-opacity="0.81"/>
<ellipse cx="182.9" cy="85.9" rx="0.52" ry="0.92" fill="#fff" fill-opacity="0.58"/>
<ellipse cx="225.7" cy="43.9" rx="0.48" ry="0.72" fill="#fff" fill-opacity="0.69"/>
<ellipse cx="201.5" cy="117.8" rx="0.55" ry="1.01" fill="#fff" fill-opacity="0.62"/>
<ellipse cx="220.2" cy="40.3" rx="0.48" ry="0.90" fill="#fff" fill-opacity="0.82"/>
<ellipse cx="174.1" cy="78.4" rx="0.50" ry="0.83" fill="#fff" fill-opacity="0.59"/>
<ellipse cx="179.0" cy="85.2" rx="1.01" ry="0.42" fill="#fff" fill-opacity="0.55"/>
<ellipse cx="186.0" cy="60.8" rx="0.54" ry="1.09" fill="#fff" fill-opacity="0.79"/>
<ellipse cx="171.0" cy="64.8" rx="0.88" ry="1.84" fill="none" stroke="#fff" stroke-opacity="0.40" stroke-width="0.5"/>
<ellipse cx="145.8" cy="99.8" rx="1.18" ry="0.31" fill="#fff" fill-opacity="0.50"/>
<ellipse cx="142.8" cy="53.8" rx="1.23" ry="0.40" fill="#fff" fill-opacity="0.74"/>
<ellipse cx="221.3" cy="90.2" rx="0.48" ry="1.12" fill="#fff" fill-opacity="0.68"/>
<ellipse cx="201.4" cy="55.7" rx="0.44" ry="1.16" fill="#fff" fill-opacity="0.41"/>
<ellipse cx="158.0" cy="40.6" rx="0.53" ry="1.09" fill="#fff" fill-opacity="0.55"/>
<ellipse cx="213.7" cy="105.3" rx="0.40" ry="0.88" fill="#fff" fill-opacity="0.58"/>
<ellipse cx="169.9" cy="74.6" rx="0.54" ry="0.73" fill="#fff" fill-opacity="0.66"/>
<ellipse cx="145.7" cy="47.7" rx="0.47" ry="1.25" fill="#fff" fill-opacity="0.60"/>
<ellipse cx="143.5" cy="70.8" rx="0.54" ry="1.29" fill="#fff" fill-opacity="0.61"/>
<ellipse cx="178.1" cy="46.2" rx="0.39" ry="0.79" fill="#fff" fill-opacity="0.36"/>
<ellipse cx="142.7" cy="96.4" rx="0.99" ry="1.46" fill="none" stroke="#fff" stroke-opacity="0.42" stroke-width="0.5"/>
<ellipse cx="153.5" cy="38.9" rx="0.40" ry="1.14" fill="#fff" fill-opacity="0.45"/>
<ellipse cx="146.7" cy="104.2" rx="0.52" ry="1.14" fill="#fff" fill-opacity="0.40"/>
<ellipse cx="196.9" cy="98.6" rx="0.54" ry="0.85" fill="#fff" fill-opacity="0.88"/>
<ellipse cx="204.6" cy="38.4" rx="0.90" ry="1.97" fill="none" stroke="#fff" stroke-opacity="0.22" stroke-width="0.5"/>
<ellipse cx="169.3" cy="100.4" rx="0.96" ry="1.74" fill="none" stroke="#fff" stroke-opacity="0.21" stroke-width="0.5"/>
<ellipse cx="174.2" cy="87.0" rx="0.49" ry="0.79" fill="#fff" fill-opacity="0.79"/>
<ellipse cx="173.8" cy="93.1" rx="0.43" ry="0.93" fill="#fff" fill-opacity="0.78"/>
<ellipse cx="224.3" cy="105.1" rx="0.41" ry="0.74" fill="#fff" fill-opacity="0.89"/>
<ellipse cx="203.3" cy="108.8" rx="0.47" ry="1.29" fill="#fff" fill-opacity="0.81"/>
<ellipse cx="194.5" cy="64.0" rx="0.53" ry="0.93" fill="#fff" fill-opacity="0.73"/>
<ellipse cx="194.5" cy="114.7" rx="0.41" ry="0.70" fill="#fff" fill-opacity="0.49"/>
<ellipse cx="179.0" cy="88.0" rx="0.53" ry="0.73" fill="#fff" fill-opacity="0.81"/>
<ellipse cx="212.8" cy="112.2" rx="0.40" ry="1.21" fill="#fff" fill-opacity="0.79"/>
<ellipse cx="201.7" cy="116.3" rx="0.37" ry="1.03" fill="#fff" fill-opacity="0.79"/>
<ellipse cx="159.7" cy="102.1" rx="0.96" ry="0.39" fill="#fff" fill-opacity="0.69"/>
<ellipse cx="182.7" cy="55.2" rx="0.93" ry="1.95" fill="none" stroke="#fff" stroke-opacity="0.31" stroke-width="0.5"/>
<ellipse cx="149.9" cy="107.0" rx="0.40" ry="1.05" fill="#fff" fill-opacity="0.84"/>
<ellipse cx="219.1" cy="82.4" rx="0.47" ry="0.81" fill="#fff" fill-opacity="0.46"/>
<ellipse cx="158.0" cy="97.9" rx="0.46" ry="0.94" fill="#fff" fill-opacity="0.63"/>
<ellipse cx="155.2" cy="41.2" rx="1.06" ry="0.32" fill="#fff" fill-opacity="0.67"/>
<ellipse cx="210.6" cy="50.9" rx="0.42" ry="1.01" fill="#fff" fill-opacity="0.36"/>
<ellipse cx="145.2" cy="122.9" rx="1.14" ry="0.39" fill="#fff" fill-opacity="0.48"/>
<ellipse cx="209.9" cy="74.2" rx="1.34" ry="0.42" fill="#fff" fill-opacity="0.83"/>
<ellipse cx="164.3" cy="40.7" rx="0.75" ry="1.46" fill="none" stroke="#fff" stroke-opacity="0.21" stroke-width="0.5"/>
<ellipse cx="190.7" cy="112.5" rx="0.54" ry="1.25" fill="#fff" fill-opacity="0.39"/>
<ellipse cx="194.2" cy="71.7" rx="0.99" ry="1.58" fill="none" stroke="#fff" stroke-opacity="0.34" stroke-width="0.5"/>
<ellipse cx="197.9" cy="119.9" rx="0.43" ry="0.97" fill="#fff" fill-opacity="0.44"/>
<ellipse cx="226.1" cy="123.0" rx="0.71" ry="1.58" fill="none" stroke="#fff" stroke-opacity="0.29" stroke-width="0.5"/>
<ellipse cx="220.7" cy="115.5" rx="0.83" ry="0.42" fill="#fff" fill-opacity="0.70"/>
<ellipse cx="198.4" cy="122.4" rx="0.74" ry="1.93" fill="none" stroke="#fff" stroke-opacity="0.43" stroke-width="0.5"/>
<ellipse cx="201.1" cy="63.2" rx="0.50" ry="0.76" fill="#fff" fill-opacity="0.53"/>
<ellipse cx="164.6" cy="48.1" rx="0.38" ry="0.84" fill="#fff" fill-opacity="0.43"/>
<ellipse cx="201.1" cy="38.5" rx="0.39" ry="0.72" fill="#fff" fill-opacity="0.86"/>
<ellipse cx="161.4" cy="118.0" rx="1.42" ry="0.32" fill="#fff" fill-opacity="0.57"/>
<ellipse cx="150.7" cy="117.6" rx="1.24" ry="0.37" fill="#fff" fill-opacity="0.52"/>
<ellipse cx="213.7" cy="78.6" rx="0.38" ry="0.83" fill="#fff" fill-opacity="0.38"/>
<ellipse cx="204.3" cy="85.2" rx="0.96" ry="1.59" fill="none" stroke="#fff" stroke-opacity="0.30" stroke-width="0.5"/>
<ellipse cx="155.8" cy="60.8" rx="1.03" ry="0.33" fill="#fff" fill-opacity="0.60"/>
<ellipse cx="169.9" cy="115.3" rx="0.99" ry="1.44" fill="none" stroke="#fff" stroke-opacity="0.42" stroke-width="0.5"/>
<ellipse cx="200.3" cy="55.6" rx="0.41" ry="0.85" fill="#fff" fill-opacity="0.46"/>
<ellipse cx="173.9" cy="122.9" rx="1.45" ry="0.31" fill="#fff" fill-opacity="0.49"/>
<ellipse cx="220.1" cy="42.4" rx="0.41" ry="1.29" fill="#fff" fill-opacity="0.36"/>
<ellipse cx="212.3" cy="66.8" rx="0.70" ry="1.98" fill="none" stroke="#fff" stroke-opacity="0.33" stroke-width="0.5"/>
<ellipse cx="158.4" cy="75.0" rx="0.95" ry="0.39" fill="#fff" fill-opacity="0.42"/>
<ellipse cx="157.9" cy="103.9" rx="0.39" ry="0.75" fill="#fff" fill-opacity="0.40"/>
<ellipse cx="195.1" cy="80.2" rx="0.76" ry="1.83" fill="none" stroke="#fff" stroke-opacity="0.38" stroke-width="0.5"/>
<ellipse cx="212.7" cy="87.7" rx="0.72" ry="1.91" fill="none" stroke="#fff" stroke-opacity="0.30" stroke-width="0.5"/>
<ellipse cx="204.9" cy="42.2" rx="0.42" ry="1.21" fill="#fff" fill-opacity="0.83"/>
<ellipse cx="185.1" cy="38.7" rx="1.13" ry="0.43" fill="#fff" fill-opacity="0.48"/>
<ellipse cx="158.4" cy="109.2" rx="0.38" ry="0.92" fill="#fff" fill-opacity="0.68"/>
<ellipse cx="142.7" cy="82.3" rx="0.45" ry="0.77" fill="#fff" fill-opacity="0.74"/>
<ellipse cx="213.2" cy="112.1" rx="0.49" ry="0.93" fill="#fff" fill-opacity="0.76"/>
<ellipse cx="147.6" cy="112.7" rx="1.15" ry="0.38" fill="#fff" fill-opacity="0.62"/>
<ellipse cx="188.9" cy="39.2" rx="0.96" ry="0.33" fill="#fff" fill-opacity="0.40"/>
<ellipse cx="164.0" cy="107.9" rx="0.73" ry="1.89" fill="none" stroke="#fff" stroke-opacity="0.25" stroke-width="0.5"/>
<ellipse cx="143.8" cy="89.1" rx="0.45" ry="1.12" fill="#fff" fill-opacity="0.41"/>
<ellipse cx="217.8" cy="99.3" rx="0.74" ry="1.75" fill="none" stroke="#fff" stroke-opacity="0.33" stroke-width="0.5"/>
<ellipse cx="166.6" cy="47.9" rx="0.38" ry="1.06" fill="#fff" fill-opacity="0.82"/>
<ellipse cx="155.1" cy="86.8" rx="0.38" ry="1.20" fill="#fff" fill-opacity="0.87"/>
<ellipse cx="176.0" cy="73.7" rx="1.17" ry="0.36" fill="#fff" fill-opacity="0.82"/>
<ellipse cx="209.7" cy="66.6" rx="0.80" ry="1.70" fill="none" stroke="#fff" stroke-opacity="0.45" stroke-width="0.5"/>
<ellipse cx="212.1" cy="116.2" rx="0.52" ry="0.73" fill="#fff" fill-opacity="0.63"/>
<ellipse cx="225.4" cy="118.0" rx="0.83" ry="1.84" fill="none" stroke="#fff" stroke-opacity="0.29" stroke-width="0.5"/>
<ellipse cx="188.4" cy="43.4" rx="0.45" ry="0.71" fill="#fff" fill-opacity="0.43"/>
<ellipse cx="226.5" cy="104.4" rx="1.24" ry="0.42" fill="#fff" fill-opacity="0.79"/>
<ellipse cx="219.1" cy="40.4" rx="0.40" ry="1.11" fill="#fff" fill-opacity="0.50"/>
<ellipse cx="189.4" cy="117.2" rx="0.40" ry="1.01" fill="#fff" fill-opacity="0.59"/>
<ellipse cx="224.8" cy="62.2" rx="0.48" ry="0.77" fill="#fff" fill-opacity="0.68"/>
<ellipse cx="225.3" cy="81.7" rx="0.84" ry="1.77" fill="none" stroke="#fff" stroke-opacity="0.24" stroke-width="0.5"/>
<ellipse cx="153.1" cy="48.7" rx="0.82" ry="1.60" fill="none" stroke="#fff" stroke-opacity="0.26" stroke-width="0.5"/>
<ellipse cx="149.9" cy="84.5" rx="1.23" ry="0.39" fill="#fff" fill-opacity="0.68"/>
<ellipse cx="159.8" cy="98.7" rx="0.46" ry="1.07" fill="#fff" fill-opacity="0.61"/>
<ellipse cx="169.3" cy="58.3" rx="0.85" ry="1.67" fill="none" stroke="#fff" stroke-opacity="0.35" stroke-width="0.5"/>
<ellipse cx="143.3" cy="67.8" rx="0.97" ry="0.38" fill="#fff" fill-opacity="0.60"/>
<ellipse cx="167.0" cy="122.6" rx="0.93" ry="1.51" fill="none" stroke="#fff" stroke-opacity="0.22" stroke-width="0.5"/>
<ellipse cx="217.9" cy="75.4" rx="0.82" ry="1.71" fill="none" stroke="#fff" stroke-opacity="0.38" stroke-width="0.5"/>
<ellipse cx="151.8" cy="56.8" rx="1.32" ry="0.32" fill="#fff" fill-opacity="0.52"/>
<ellipse cx="172.9" cy="95.7" rx="0.52" ry="1.19" fill="#fff" fill-opacity="0.63"/>
<ellipse cx="206.4" cy="101.5" rx="0.45" ry="1.17" fill="#fff" fill-opacity="0.74"/>
<ellipse cx="221.7" cy="48.4" rx="0.80" ry="0.41" fill="#fff" fill-opacity="0.64"/>
<ellipse cx="185.5" cy="120.5" rx="0.43" ry="1.17" fill="#fff" fill-opacity="0.83"/>
<ellipse cx="195.0" cy="70.2" rx="0.44" ry="1.13" fill="#fff" fill-opacity="0.51"/>
<ellipse cx="176.2" cy="85.3" rx="0.41" ry="1.17" fill="#fff" fill-opacity="0.82"/>
<ellipse cx="185.7" cy="75.7" rx="0.79" ry="1.50" fill="none" stroke="#fff" stroke-opacity="0.34" stroke-width="0.5"/>
<ellipse cx="192.8" cy="45.0" rx="1.03" ry="0.43" fill="#fff" fill-opacity="0.77"/>
<ellipse cx="225.5" cy="55.0" rx="0.53" ry="0.71" fill="#fff" fill-opacity="0.38"/>
<ellipse cx="191.3" cy="80.3" rx="1.34" ry="0.38" fill="#fff" fill-opacity="0.85"/>
<ellipse cx="187.2" cy="82.0" rx="0.43" ry="0.91" fill="#fff" fill-opacity="0.68"/>
<ellipse cx="172.8" cy="119.2" rx="0.46" ry="0.76" fill="#fff" fill-opacity="0.56"/>
<ellipse cx="177.1" cy="85.8" rx="0.53" ry="1.28" fill="#fff" fill-opacity="0.62"/>
<ellipse cx="180.5" cy="91.3" rx="1.04" ry="0.38" fill="#fff" fill-opacity="0.76"/>
<ellipse cx="157.1" cy="64.9" rx="1.38" ry="0.38" fill="#fff" fill-opacity="0.41"/>
<ellipse cx="219.9" cy="96.9" rx="1.49" ry="0.43" fill="#fff" fill-opacity="0.56"/>
<ellipse cx="155.9" cy="62.4" rx="0.45" ry="0.81" fill="#fff" fill-opacity="0.45"/>
<ellipse cx="197.0" cy="89.4" rx="0.55" ry="1.08" fill="#fff" fill-opacity="0.37"/>
<ellipse cx="178.0" cy="105.4" rx="0.49" ry="0.70" fill="#fff" fill-opacity="0.52"/>
<ellipse cx="215.4" cy="88.0" rx="0.39" ry="1.00" fill="#fff" fill-opacity="0.65"/>
</g>
<g><rect x="246.2" y="34.4" width="92.8" height="92.3" fill="#575757"/>
<rect x="248.4" y="37.4" width="0.72" height="2.77" fill="#fff" fill-opacity="1.00"/>
<rect x="248.4" y="37.6" width="1.62" height="0.59" fill="#fff" fill-opacity="0.60"/>
<rect x="249.5" y="44.1" width="0.57" height="1.54" fill="#fff" fill-opacity="0.91"/>
<rect x="250.6" y="43.6" width="1.77" height="0.62" fill="#fff" fill-opacity="0.71"/>
<rect x="248.4" y="49.0" width="0.68" height="2.70" fill="#fff" fill-opacity="0.71"/>
<rect x="248.4" y="51.0" width="0.68" height="3.42" fill="#fff" fill-opacity="0.98"/>
<rect x="248.4" y="49.0" width="2.09" height="0.77" fill="#fff" fill-opacity="0.93"/>
<rect x="251.5" y="51.3" width="0.70" height="4.44" fill="#fff" fill-opacity="0.98"/>
<rect x="248.4" y="56.2" width="2.08" height="0.77" fill="#fff" fill-opacity="0.65"/>
<rect x="249.2" y="60.8" width="0.66" height="2.08" fill="#fff" fill-opacity="0.63"/>
<rect x="252.5" y="59.5" width="0.71" height="2.70" fill="#fff" fill-opacity="0.60"/>
<rect x="248.6" y="60.6" width="0.66" height="2.26" fill="#fff" fill-opacity="0.92"/>
<rect x="248.4" y="64.4" width="0.75" height="2.56" fill="#fff" fill-opacity="0.57"/>
<rect x="248.4" y="70.0" width="0.80" height="1.90" fill="#fff" fill-opacity="0.67"/>
<rect x="248.4" y="73.9" width="2.18" height="0.73" fill="#fff" fill-opacity="0.62"/>
<rect x="248.4" y="76.5" width="0.70" height="2.20" fill="#fff" fill-opacity="0.98"/>
<rect x="248.4" y="74.0" width="3.38" height="0.70" fill="#fff" fill-opacity="0.67"/>
<rect x="248.4" y="76.7" width="0.81" height="1.88" fill="#fff" fill-opacity="0.65"/>
<rect x="249.4" y="80.3" width="0.67" height="3.54" fill="#fff" fill-opacity="0.90"/>
<rect x="249.8" y="80.8" width="0.60" height="4.14" fill="#fff" fill-opacity="0.59"/>
<rect x="248.4" y="86.2" width="0.66" height="3.05" fill="#fff" fill-opacity="0.80"/>
<rect x="248.4" y="84.3" width="0.59" height="3.72" fill="#fff" fill-opacity="0.65"/>
<rect x="248.4" y="90.5" width="3.34" height="0.77" fill="#fff" fill-opacity="0.90"/>
<rect x="248.4" y="91.2" width="0.75" height="2.59" fill="#fff" fill-opacity="0.86"/>
<rect x="248.4" y="97.2" width="3.26" height="0.64" fill="#fff" fill-opacity="0.66"/>
<rect x="250.1" y="94.8" width="0.77" height="3.71" fill="#fff" fill-opacity="0.96"/>
<rect x="248.4" y="96.8" width="0.64" height="2.68" fill="#fff" fill-opacity="0.64"/>
<rect x="248.4" y="100.8" width="0.80" height="3.27" fill="#fff" fill-opacity="0.63"/>
<rect x="250.8" y="103.8" width="0.65" height="1.50" fill="#fff" fill-opacity="0.86"/>
<rect x="251.5" y="108.8" width="0.81" height="3.38" fill="#fff" fill-opacity="0.57"/>
<rect x="248.4" y="107.2" width="0.61" height="4.33" fill="#fff" fill-opacity="0.91"/>
<rect x="249.8" y="110.3" width="3.04" height="0.76" fill="#fff" fill-opacity="0.73"/>
<rect x="248.4" y="112.8" width="3.45" height="0.72" fill="#fff" fill-opacity="0.74"/>
<rect x="251.0" y="118.8" width="0.57" height="3.66" fill="#fff" fill-opacity="0.75"/>
<rect x="248.4" y="120.6" width="3.08" height="0.56" fill="#fff" fill-opacity="0.61"/>
<rect x="250.6" y="121.0" width="0.84" height="3.48" fill="#fff" fill-opacity="0.80"/>
<rect x="252.0" y="36.6" width="0.67" height="2.12" fill="#fff" fill-opacity="0.71"/>
<rect x="249.8" y="37.5" width="1.92" height="0.61" fill="#fff" fill-opacity="0.85"/>
<rect x="251.2" y="41.9" width="2.06" height="0.77" fill="#fff" fill-opacity="0.71"/>
<rect x="249.3" y="43.6" width="0.71" height="3.86" fill="#fff" fill-opacity="0.92"/>
<rect x="249.4" y="46.7" width="0.78" height="4.08" fill="#fff" fill-opacity="0.76"/>
<rect x="249.1" y="47.4" width="0.57" height="2.37" fill="#fff" fill-opacity="0.64"/>
<rect x="249.7" y="52.4" width="0.65" height="2.95" fill="#fff" fill-opacity="0.60"/>
<rect x="250.7" y="50.7" width="0.85" height="3.83" fill="#fff" fill-opacity="0.55"/>
<rect x="248.4" y="58.5" width="1.64" height="0.67" fill="#fff" fill-opacity="0.80"/>
<rect x="251.2" y="55.9" width="0.83" height="3.50" fill="#fff" fill-opacity="0.55"/>
<rect x="252.6" y="64.2" width="0.62" height="1.93" fill="#fff" fill-opacity="0.66"/>
<rect x="248.4" y="66.2" width="1.81" height="0.71" fill="#fff" fill-opacity="0.68"/>
<rect x="254.1" y="68.1" width="0.80" height="3.80" fill="#fff" fill-opacity="0.90"/>
<rect x="249.8" y="67.1" width="2.21" height="0.69" fill="#fff" fill-opacity="0.69"/>
<rect x="250.8" y="72.5" width="0.72" height="3.45" fill="#fff" fill-opacity="0.57"/>
<rect x="253.0" y="75.5" width="2.49" height="0.67" fill="#fff" fill-opacity="0.98"/>
<rect x="249.4" y="74.5" width="0.76" height="2.01" fill="#fff" fill-opacity="0.59"/>
<rect x="251.4" y="81.5" width="0.68" height="2.09" fill="#fff" fill-opacity="0.57"/>
<rect x="252.1" y="78.0" width="3.13" height="0.66" fill="#fff" fill-opacity="0.93"/>
<rect x="250.3" y="83.9" width="0.65" height="2.86" fill="#fff" fill-opacity="0.74"/>
<rect x="252.2" y="88.6" width="2.05" height="0.66" fill="#fff" fill-opacity="0.62"/>
<rect x="252.2" y="86.6" width="0.65" height="2.93" fill="#fff" fill-opacity="0.59"/>
<rect x="253.6" y="94.0" width="3.52" height="0.70" fill="#fff" fill-opacity="0.99"/>
<rect x="253.2" y="90.6" width="2.05" height="0.69" fill="#fff" fill-opacity="0.82"/>
<rect x="254.9" y="94.2" width="0.65" height="4.24" fill="#fff" fill-opacity="0.68"/>
<rect x="248.4" y="96.4" width="1.59" height="0.72" fill="#fff" fill-opacity="0.75"/>
<rect x="250.8" y="100.5" width="0.72" height="2.73" fill="#fff" fill-opacity="0.79"/>
<rect x="248.6" y="101.2" width="1.65" height="0.77" fill="#fff" fill-opacity="0.80"/>
<rect x="250.0" y="101.8" width="0.70" height="3.22" fill="#fff" fill-opacity="0.66"/>
<rect x="249.8" y="108.3" width="0.73" height="1.75" fill="#fff" fill-opacity="0.78"/>
<rect x="251.1" y="106.3" width="0.72" height="3.72" fill="#fff" fill-opacity="0.94"/>
<rect x="253.0" y="110.5" width="1.62" height="0.76" fill="#fff" fill-opacity="0.87"/>
<rect x="249.8" y="113.4" width="3.10" height="0.58" fill="#fff" fill-opacity="0.80"/>
<rect x="253.7" y="113.7" width="0.55" height="3.34" fill="#fff" fill-opacity="0.72"/>
<rect x="248.4" y="119.1" width="3.35" height="0.71" fill="#fff" fill-opacity="0.74"/>
<rect x="253.8" y="123.3" width="1.77" height="0.74" fill="#fff" fill-opacity="0.94"/>
<rect x="252.6" y="39.3" width="1.67" height="0.64" fill="#fff" fill-opacity="0.92"/>
<rect x="254.8" y="43.0" width="2.73" height="0.57" fill="#fff" fill-opacity="0.57"/>
<rect x="254.5" y="43.6" width="0.75" height="2.29" fill="#fff" fill-opacity="0.97"/>
<rect x="251.6" y="44.5" width="1.65" height="0.56" fill="#fff" fill-opacity="0.81"/>
<rect x="251.5" y="47.8" width="0.64" height="3.63" fill="#fff" fill-opacity="0.80"/>
<rect x="252.3" y="47.2" width="2.92" height="0.75" fill="#fff" fill-opacity="0.79"/>
<rect x="257.3" y="47.0" width="0.70" height="4.21" fill="#fff" fill-opacity="0.62"/>
<rect x="256.2" y="50.4" width="0.75" height="2.72" fill="#fff" fill-opacity="0.92"/>
<rect x="252.7" y="54.7" width="3.32" height="0.70" fill="#fff" fill-opacity="0.73"/>
<rect x="251.3" y="57.8" width="0.73" height="1.64" fill="#fff" fill-opacity="0.95"/>
<rect x="251.9" y="60.0" width="0.67" height="2.60" fill="#fff" fill-opacity="0.81"/>
<rect x="250.8" y="62.9" width="0.69" height="4.56" fill="#fff" fill-opacity="0.56"/>
<rect x="250.4" y="64.4" width="2.00" height="0.68" fill="#fff" fill-opacity="0.67"/>
<rect x="252.5" y="69.2" width="0.85" height="1.61" fill="#fff" fill-opacity="0.98"/>
<rect x="253.6" y="73.5" width="2.79" height="0.71" fill="#fff" fill-opacity="0.90"/>
<rect x="251.9" y="72.6" width="3.47" height="0.72" fill="#fff" fill-opacity="0.94"/>
<rect x="251.8" y="78.4" width="2.80" height="0.64" fill="#fff" fill-opacity="0.78"/>
<rect x="254.6" y="76.4" width="0.65" height="4.56" fill="#fff" fill-opacity="0.70"/>
<rect x="254.1" y="79.9" width="0.65" height="1.92" fill="#fff" fill-opacity="0.66"/>
<rect x="250.8" y="85.5" width="0.72" height="2.44" fill="#fff" fill-opacity="0.75"/>
<rect x="251.9" y="82.1" width="0.77" height="3.21" fill="#fff" fill-opacity="0.69"/>
<rect x="256.8" y="87.7" width="1.58" height="0.59" fill="#fff" fill-opacity="0.81"/>
<rect x="254.8" y="92.8" width="0.68" height="4.19" fill="#fff" fill-opacity="0.90"/>
<rect x="250.6" y="93.6" width="1.97" height="0.56" fill="#fff" fill-opacity="0.67"/>
<rect x="251.1" y="94.5" width="2.28" height="0.60" fill="#fff" fill-opacity="0.65"/>
<rect x="254.9" y="99.1" width="0.77" height="4.49" fill="#fff" fill-opacity="0.64"/>
<rect x="254.2" y="98.1" width="2.15" height="0.58" fill="#fff" fill-opacity="0.94"/>
<rect x="250.7" y="103.7" width="3.43" height="0.60" fill="#fff" fill-opacity="0.84"/>
<rect x="253.0" y="106.6" width="0.75" height="2.55" fill="#fff" fill-opacity="0.73"/>
<rect x="251.2" y="106.5" width="0.65" height="3.03" fill="#fff" fill-opacity="0.83"/>
<rect x="254.8" y="107.8" width="0.83" height="3.25" fill="#fff" fill-opacity="0.56"/>
<rect x="257.6" y="109.6" width="0.65" height="1.79" fill="#fff" fill-opacity="0.88"/>
<rect x="250.6" y="113.2" width="3.19" height="0.66" fill="#fff" fill-opacity="0.59"/>
<rect x="254.4" y="117.7" width="0.73" height="2.53" fill="#fff" fill-opacity="0.85"/>
<rect x="254.6" y="118.9" width="3.11" height="0.63" fill="#fff" fill-opacity="0.89"/>
<rect x="256.1" y="120.1" width="0.71" height="4.42" fill="#fff" fill-opacity="0.68"/>
<rect x="254.1" y="36.6" width="0.78" height="2.62" fill="#fff" fill-opacity="0.84"/>
<rect x="259.6" y="38.1" width="1.46" height="0.58" fill="#fff" fill-opacity="0.59"/>
<rect x="253.6" y="41.4" width="0.83" height="2.63" fill="#fff" fill-opacity="0.63"/>
<rect x="253.7" y="42.7" width="1.76" height="0.56" fill="#fff" fill-opacity="0.96"/>
<rect x="257.5" y="45.5" width="2.80" height="0.64" fill="#fff" fill-opacity="0.77"/>
<rect x="258.8" y="47.9" width="0.58" height="3.77" fill="#fff" fill-opacity="0.96"/>
<rect x="253.7" y="51.8" width="0.57" height="3.25" fill="#fff" fill-opacity="0.94"/>
<rect x="255.4" y="57.5" width="1.89" height="0.61" fill="#fff" fill-opacity="0.83"/>
<rect x="255.0" y="55.2" width="0.78" height="3.49" fill="#fff" fill-opacity="0.64"/>
<rect x="255.3" y="61.1" width="0.60" height="4.18" fill="#fff" fill-opacity="0.81"/>
<rect x="258.5" y="60.3" width="2.02" height="0.63" fill="#fff" fill-opacity="0.92"/>
<rect x="256.5" y="65.9" width="0.73" height="2.90" fill="#fff" fill-opacity="0.86"/>
<rect x="257.2" y="67.8" width="0.66" height="3.92" fill="#fff" fill-opacity="0.95"/>
<rect x="258.5" y="67.1" width="2.05" height="0.56" fill="#fff" fill-opacity="1.00"/>
<rect x="254.0" y="73.4" width="0.60" height="3.78" fill="#fff" fill-opacity="0.96"/>
<rect x="253.2" y="71.8" width="2.15" height="0.78" fill="#fff" fill-opacity="0.59"/>
<rect x="257.5" y="79.1" width="1.92" height="0.75" fill="#fff" fill-opacity="0.56"/>
<rect x="258.0" y="75.3" width="0.68" height="1.83" fill="#fff" fill-opacity="0.65"/>
<rect x="253.4" y="83.6" width="0.59" height="3.01" fill="#fff" fill-opacity="0.95"/>
<rect x="254.2" y="81.8" width="0.59" height="3.79" fill="#fff" fill-opacity="0.86"/>
<rect x="256.6" y="82.7" width="0.83" height="2.58" fill="#fff" fill-opacity="0.77"/>
<rect x="254.0" y="92.0" width="2.00" height="0.59" fill="#fff" fill-opacity="0.88"/>
<rect x="255.0" y="87.0" width="0.67" height="3.23" fill="#fff" fill-opacity="0.78"/>
<rect x="254.8" y="90.3" width="2.60" height="0.69" fill="#fff" fill-opacity="0.84"/>
<rect x="257.2" y="99.4" width="2.28" height="0.63" fill="#fff" fill-opacity="0.87"/>
<rect x="256.1" y="101.1" width="0.67" height="1.94" fill="#fff" fill-opacity="0.72"/>
<rect x="260.1" y="96.2" width="0.63" height="3.39" fill="#fff" fill-opacity="0.97"/>
<rect x="255.7" y="100.0" width="0.80" height="3.93" fill="#fff" fill-opacity="0.60"/>
<rect x="258.4" y="102.8" width="2.82" height="0.69" fill="#fff" fill-opacity="0.70"/>
<rect x="255.3" y="110.3" width="0.81" height="3.08" fill="#fff" fill-opacity="0.89"/>
<rect x="257.2" y="113.1" width="0.77" height="2.67" fill="#fff" fill-opacity="0.83"/>
<rect x="258.1" y="111.5" width="0.75" height="2.50" fill="#fff" fill-opacity="0.83"/>
<rect x="257.6" y="114.1" width="0.63" height="4.32" fill="#fff" fill-opacity="0.83"/>
<rect x="256.5" y="118.9" width="0.62" height="1.94" fill="#fff" fill-opacity="0.76"/>
<rect x="259.5" y="119.9" width="0.79" height="2.24" fill="#fff" fill-opacity="0.79"/>
<rect x="254.3" y="120.2" width="0.80" height="4.27" fill="#fff" fill-opacity="0.84"/>
<rect x="261.6" y="36.6" width="0.80" height="1.88" fill="#fff" fill-opacity="0.92"/>
<rect x="256.7" y="37.0" width="0.79" height="3.12" fill="#fff" fill-opacity="0.71"/>
<rect x="258.7" y="38.4" width="0.76" height="2.89" fill="#fff" fill-opacity="1.00"/>
<rect x="257.9" y="46.9" width="2.90" height="0.64" fill="#fff" fill-opacity="0.62"/>
<rect x="259.3" y="45.0" width="0.66" height="1.56" fill="#fff" fill-opacity="0.70"/>
<rect x="257.0" y="49.3" width="0.77" height="2.35" fill="#fff" fill-opacity="0.63"/>
<rect x="256.8" y="50.3" width="2.80" height="0.76" fill="#fff" fill-opacity="0.59"/>
<rect x="256.3" y="54.1" width="2.22" height="0.56" fill="#fff" fill-opacity="0.83"/>
<rect x="257.9" y="56.1" width="2.30" height="0.71" fill="#fff" fill-opacity="0.68"/>
<rect x="261.2" y="57.7" width="0.83" height="2.09" fill="#fff" fill-opacity="0.81"/>
<rect x="262.4" y="62.8" width="0.65" height="1.72" fill="#fff" fill-opacity="0.85"/>
<rect x="260.8" y="61.9" width="0.82" height="3.85" fill="#fff" fill-opacity="0.77"/>
<rect x="255.8" y="66.4" width="0.80" height="2.79" fill="#fff" fill-opacity="0.76"/>
<rect x="258.9" y="70.2" width="0.70" height="4.06" fill="#fff" fill-opacity="0.77"/>
<rect x="260.2" y="72.0" width="0.75" height="3.22" fill="#fff" fill-opacity="0.57"/>
<rect x="261.0" y="74.3" width="0.57" height="4.03" fill="#fff" fill-opacity="0.65"/>
<rect x="256.0" y="73.7" width="1.52" height="0.72" fill="#fff" fill-opacity="0.80"/>
<rect x="260.6" y="77.6" width="0.68" height="3.31" fill="#fff" fill-opacity="0.86"/>
<rect x="261.8" y="83.6" width="2.14" height="0.68" fill="#fff" fill-opacity="0.62"/>
<rect x="255.7" y="86.4" width="0.64" height="2.29" fill="#fff" fill-opacity="0.67"/>
<rect x="261.6" y="85.8" width="0.57" height="2.44" fill="#fff" fill-opacity="0.74"/>
<rect x="261.0" y="90.9" width="1.84" height="0.56" fill="#fff" fill-opacity="0.67"/>
<rect x="259.3" y="89.4" width="0.73" height="2.63" fill="#fff" fill-opacity="0.77"/>
<rect x="260.8" y="91.6" width="1.51" height="0.63" fill="#fff" fill-opacity="0.80"/>
<rect x="259.4" y="93.8" width="0.63" height="3.97" fill="#fff" fill-opacity="0.70"/>
<rect x="256.8" y="99.9" width="2.40" height="0.78" fill="#fff" fill-opacity="0.82"/>
<rect x="258.7" y="103.1" width="0.74" height="1.65" fill="#fff" fill-opacity="0.75"/>
<rect x="261.5" y="99.2" width="0.83" height="3.24" fill="#fff" fill-opacity="0.63"/>
<rect x="260.5" y="105.9" width="2.05" height="0.60" fill="#fff" fill-opacity="0.85"/>
<rect x="261.0" y="105.9" width="1.62" height="0.57" fill="#fff" fill-opacity="0.64"/>
<rect x="261.1" y="112.0" width="0.63" height="4.31" fill="#fff" fill-opacity="0.85"/>
<rect x="260.4" y="109.1" width="0.56" height="4.09" fill="#fff" fill-opacity="0.86"/>
<rect x="257.7" y="113.1" width="0.72" height="1.98" fill="#fff" fill-opacity="0.69"/>
<rect x="260.7" y="116.8" width="3.16" height="0.80" fill="#fff" fill-opacity="0.62"/>
<rect x="258.4" y="116.0" width="0.62" height="3.19" fill="#fff" fill-opacity="0.84"/>
<rect x="255.2" y="122.7" width="2.89" height="0.58" fill="#fff" fill-opacity="0.74"/>
<rect x="262.4" y="36.6" width="3.47" height="0.68" fill="#fff" fill-opacity="1.00"/>
<rect x="258.7" y="38.9" width="3.45" height="0.57" fill="#fff" fill-opacity="0.77"/>
<rect x="261.5" y="44.2" width="0.58" height="1.93" fill="#fff" fill-opacity="0.79"/>
<rect x="258.6" y="47.6" width="3.43" height="0.56" fill="#fff" fill-opacity="0.65"/>
<rect x="262.2" y="50.0" width="0.75" height="1.66" fill="#fff" fill-opacity="0.97"/>
<rect x="260.5" y="47.7" width="0.60" height="3.94" fill="#fff" fill-opacity="0.88"/>
<rect x="260.2" y="47.6" width="0.72" height="3.94" fill="#fff" fill-opacity="0.59"/>
<rect x="262.3" y="52.9" width="0.58" height="3.51" fill="#fff" fill-opacity="0.78"/>
<rect x="259.0" y="56.9" width="0.75" height="2.01" fill="#fff" fill-opacity="0.72"/>
<rect x="259.2" y="61.3" width="0.81" height="2.99" fill="#fff" fill-opacity="0.93"/>
<rect x="258.2" y="59.1" width="2.49" height="0.68" fill="#fff" fill-opacity="0.60"/>
<rect x="258.9" y="63.1" width="0.70" height="2.64" fill="#fff" fill-opacity="0.79"/>
<rect x="259.5" y="64.4" width="0.62" height="4.20" fill="#fff" fill-opacity="0.61"/>
<rect x="261.6" y="70.3" width="0.70" height="3.95" fill="#fff" fill-opacity="0.97"/>
<rect x="262.1" y="72.1" width="0.60" height="2.32" fill="#fff" fill-opacity="0.89"/>
<rect x="258.3" y="72.8" width="0.82" height="1.76" fill="#fff" fill-opacity="0.68"/>
<rect x="262.1" y="74.2" width="0.76" height="1.69" fill="#fff" fill-opacity="0.90"/>
<rect x="258.8" y="79.6" width="2.76" height="0.72" fill="#fff" fill-opacity="0.57"/>
<rect x="262.4" y="80.4" width="3.43" height="0.55" fill="#fff" fill-opacity="0.76"/>
<rect x="264.6" y="81.7" width="0.62" height="3.77" fill="#fff" fill-opacity="0.59"/>
<rect x="262.8" y="83.2" width="0.61" height="2.18" fill="#fff" fill-opacity="0.61"/>
<rect x="259.5" y="92.0" width="2.46" height="0.67" fill="#fff" fill-opacity="0.91"/>
<rect x="262.9" y="94.0" width="1.84" height="0.71" fill="#fff" fill-opacity="0.84"/>
<rect x="264.0" y="94.9" width="0.65" height="2.00" fill="#fff" fill-opacity="0.87"/>
<rect x="263.5" y="97.2" width="3.22" height="0.78" fill="#fff" fill-opacity="0.61"/>
<rect x="263.3" y="100.2" width="2.70" height="0.66" fill="#fff" fill-opacity="0.91"/>
<rect x="262.4" y="102.9" width="3.51" height="0.68" fill="#fff" fill-opacity="0.68"/>
<rect x="264.0" y="100.7" width="1.95" height="0.76" fill="#fff" fill-opacity="0.90"/>
<rect x="259.7" y="102.0" width="0.70" height="4.32" fill="#fff" fill-opacity="0.66"/>
<rect x="262.8" y="108.3" width="0.79" height="3.62" fill="#fff" fill-opacity="0.90"/>
<rect x="264.6" y="111.3" width="0.75" height="4.09" fill="#fff" fill-opacity="0.59"/>
<rect x="260.1" y="113.8" width="1.41" height="0.67" fill="#fff" fill-opacity="0.91"/>
<rect x="257.2" y="113.0" width="2.73" height="0.66" fill="#fff" fill-opacity="0.74"/>
<rect x="260.4" y="115.2" width="0.74" height="2.41" fill="#fff" fill-opacity="0.93"/>
<rect x="257.6" y="118.9" width="2.85" height="0.75" fill="#fff" fill-opacity="0.75"/>
<rect x="259.0" y="122.2" width="0.61" height="2.34" fill="#fff" fill-opacity="0.92"/>
<rect x="267.1" y="36.6" width="0.73" height="4.27" fill="#fff" fill-opacity="0.95"/>
<rect x="261.8" y="40.0" width="3.57" height="0.60" fill="#fff" fill-opacity="0.78"/>
<rect x="266.3" y="38.2" width="0.60" height="4.43" fill="#fff" fill-opacity="0.55"/>
<rect x="263.8" y="45.7" width="0.58" height="3.21" fill="#fff" fill-opacity="0.71"/>
<rect x="266.4" y="45.9" width="0.82" height="3.57" fill="#fff" fill-opacity="0.97"/>
<rect x="261.1" y="49.1" width="0.66" height="3.55" fill="#fff" fill-opacity="0.98"/>
<rect x="264.9" y="50.1" width="0.82" height="3.04" fill="#fff" fill-opacity="0.85"/>
<rect x="263.0" y="56.6" width="0.76" height="3.23" fill="#fff" fill-opacity="0.93"/>
<rect x="262.5" y="58.8" width="3.05" height="0.56" fill="#fff" fill-opacity="0.88"/>
<rect x="262.3" y="57.0" width="1.72" height="0.70" fill="#fff" fill-opacity="0.95"/>
<rect x="264.5" y="58.0" width="0.74" height="2.37" fill="#fff" fill-opacity="0.89"/>
<rect x="265.7" y="61.5" width="0.84" height="3.51" fill="#fff" fill-opacity="0.74"/>
<rect x="266.1" y="66.5" width="0.76" height="3.64" fill="#fff" fill-opacity="0.98"/>
<rect x="262.4" y="66.0" width="0.79" height="2.58" fill="#fff" fill-opacity="0.92"/>
<rect x="260.4" y="71.8" width="3.02" height="0.59" fill="#fff" fill-opacity="0.62"/>
<rect x="262.6" y="69.2" width="0.84" height="4.48" fill="#fff" fill-opacity="0.72"/>
<rect x="261.2" y="75.3" width="2.11" height="0.66" fill="#fff" fill-opacity="0.64"/>
<rect x="261.2" y="76.5" width="0.84" height="2.33" fill="#fff" fill-opacity="0.72"/>
<rect x="262.0" y="82.6" width="0.74" height="3.91" fill="#fff" fill-opacity="0.93"/>
<rect x="261.8" y="81.5" width="2.63" height="0.72" fill="#fff" fill-opacity="0.76"/>
<rect x="265.7" y="83.9" width="0.71" height="2.39" fill="#fff" fill-opacity="0.96"/>
<rect x="263.6" y="87.1" width="3.22" height="0.69" fill="#fff" fill-opacity="0.57"/>
<rect x="263.1" y="92.9" width="0.57" height="3.20" fill="#fff" fill-opacity="0.66"/>
<rect x="265.8" y="94.0" width="0.58" height="2.45" fill="#fff" fill-opacity="0.91"/>
<rect x="265.0" y="98.3" width="0.78" height="2.72" fill="#fff" fill-opacity="0.86"/>
<rect x="267.0" y="99.2" width="0.79" height="2.58" fill="#fff" fill-opacity="0.73"/>
<rect x="261.8" y="101.7" width="0.75" height="4.29" fill="#fff" fill-opacity="0.78"/>
<rect x="261.5" y="100.6" width="0.70" height="4.14" fill="#fff" fill-opacity="0.74"/>
<rect x="265.2" y="104.7" width="0.63" height="4.12" fill="#fff" fill-opacity="0.81"/>
<rect x="266.0" y="109.4" width="0.78" height="3.05" fill="#fff" fill-opacity="0.85"/>
<rect x="265.7" y="113.4" width="2.83" height="0.77" fill="#fff" fill-opacity="0.92"/>
<rect x="260.8" y="114.6" width="2.01" height="0.57" fill="#fff" fill-opacity="0.83"/>
<rect x="264.8" y="117.3" width="0.62" height="1.79" fill="#fff" fill-opacity="0.65"/>
<rect x="264.1" y="121.4" width="2.94" height="0.57" fill="#fff" fill-opacity="0.71"/>
<rect x="266.4" y="118.5" width="0.59" height="2.35" fill="#fff" fill-opacity="0.83"/>
<rect x="261.0" y="120.4" width="0.56" height="4.06" fill="#fff" fill-opacity="0.91"/>
<rect x="263.8" y="36.6" width="0.65" height="3.26" fill="#fff" fill-opacity="0.70"/>
<rect x="264.5" y="40.7" width="0.79" height="3.16" fill="#fff" fill-opacity="0.93"/>
<rect x="263.2" y="43.8" width="0.68" height="1.70" fill="#fff" fill-opacity="0.78"/>
<rect x="267.4" y="45.0" width="0.70" height="3.33" fill="#fff" fill-opacity="0.73"/>
<rect x="263.2" y="49.8" width="3.51" height="0.63" fill="#fff" fill-opacity="0.91"/>
<rect x="269.8" y="45.3" width="0.69" height="3.62" fill="#fff" fill-opacity="0.61"/>
<rect x="267.9" y="51.0" width="0.67" height="2.38" fill="#fff" fill-opacity="0.64"/>
<rect x="264.4" y="54.7" width="0.61" height="3.68" fill="#fff" fill-opacity="0.75"/>
<rect x="264.3" y="53.8" width="0.84" height="3.82" fill="#fff" fill-opacity="0.87"/>
<rect x="269.1" y="62.4" width="1.54" height="0.60" fill="#fff" fill-opacity="0.87"/>
<rect x="262.5" y="64.4" width="1.98" height="0.64" fill="#fff" fill-opacity="0.83"/>
<rect x="263.8" y="65.3" width="1.50" height="0.59" fill="#fff" fill-opacity="0.69"/>
<rect x="265.0" y="69.6" width="1.62" height="0.58" fill="#fff" fill-opacity="0.75"/>
<rect x="264.0" y="69.5" width="0.82" height="3.96" fill="#fff" fill-opacity="1.00"/>
<rect x="266.3" y="72.7" width="0.72" height="3.07" fill="#fff" fill-opacity="0.60"/>
<rect x="264.4" y="70.5" width="0.76" height="4.43" fill="#fff" fill-opacity="0.96"/>
<rect x="268.5" y="76.1" width="3.19" height="0.76" fill="#fff" fill-opacity="0.72"/>
<rect x="264.0" y="75.2" width="0.66" height="1.53" fill="#fff" fill-opacity="0.81"/>
<rect x="268.7" y="82.1" width="0.82" height="3.16" fill="#fff" fill-opacity="0.57"/>
<rect x="263.5" y="81.3" width="0.70" height="3.48" fill="#fff" fill-opacity="0.95"/>
<rect x="264.0" y="84.6" width="1.63" height="0.70" fill="#fff" fill-opacity="0.72"/>
<rect x="263.9" y="85.2" width="0.74" height="3.69" fill="#fff" fill-opacity="0.81"/>
<rect x="265.2" y="88.3" width="2.44" height="0.65" fill="#fff" fill-opacity="0.57"/>
<rect x="267.6" y="94.0" width="0.76" height="2.96" fill="#fff" fill-opacity="0.84"/>
<rect x="264.0" y="96.9" width="0.62" height="4.56" fill="#fff" fill-opacity="0.58"/>
<rect x="263.6" y="97.8" width="2.79" height="0.74" fill="#fff" fill-opacity="0.92"/>
<rect x="262.9" y="98.2" width="1.48" height="0.56" fill="#fff" fill-opacity="0.91"/>
<rect x="264.6" y="105.0" width="0.83" height="3.48" fill="#fff" fill-opacity="0.85"/>
<rect x="269.3" y="103.7" width="0.78" height="1.82" fill="#fff" fill-opacity="0.56"/>
<rect x="269.8" y="108.5" width="0.60" height="3.09" fill="#fff" fill-opacity="0.91"/>
<rect x="263.4" y="112.7" width="1.40" height="0.76" fill="#fff" fill-opacity="0.96"/>
<rect x="266.8" y="113.7" width="0.73" height="3.98" fill="#fff" fill-opacity="0.83"/>
<rect x="263.6" y="112.1" width="0.67" height="1.52" fill="#fff" fill-opacity="0.68"/>
<rect x="267.3" y="114.9" width="2.41" height="0.58" fill="#fff" fill-opacity="0.92"/>
<rect x="267.4" y="117.2" width="0.84" height="3.19" fill="#fff" fill-opacity="0.60"/>
<rect x="264.2" y="120.2" width="3.27" height="0.58" fill="#fff" fill-opacity="0.93"/>
<rect x="267.0" y="36.6" width="2.73" height="0.79" fill="#fff" fill-opacity="0.62"/>
<rect x="270.7" y="36.6" width="0.76" height="3.36" fill="#fff" fill-opacity="0.60"/>
<rect x="269.0" y="40.2" width="0.74" height="4.34" fill="#fff" fill-opacity="0.82"/>
<rect x="269.4" y="46.9" width="2.98" height="0.56" fill="#fff" fill-opacity="0.93"/>
<rect x="270.2" y="47.8" width="0.60" height="4.42" fill="#fff" fill-opacity="0.95"/>
<rect x="268.5" y="50.2" width="0.65" height="2.51" fill="#fff" fill-opacity="0.69"/>
<rect x="264.8" y="51.7" width="3.45" height="0.74" fill="#fff" fill-opacity="0.84"/>
<rect x="270.6" y="58.0" width="1.95" height="0.65" fill="#fff" fill-opacity="0.67"/>
<rect x="264.9" y="55.1" width="2.12" height="0.74" fill="#fff" fill-opacity="0.96"/>
<rect x="270.3" y="62.1" width="1.63" height="0.76" fill="#fff" fill-opacity="0.79"/>
<rect x="267.6" y="62.1" width="0.84" height="2.00" fill="#fff" fill-opacity="0.79"/>
<rect x="269.1" y="63.5" width="0.67" height="4.33" fill="#fff" fill-opacity="0.97"/>
<rect x="270.3" y="68.2" width="0.64" height="4.31" fill="#fff" fill-opacity="0.65"/>
<rect x="265.0" y="67.6" width="1.79" height="0.66" fill="#fff" fill-opacity="1.00"/>
<rect x="269.6" y="73.0" width="1.95" height="0.61" fill="#fff" fill-opacity="0.89"/>
<rect x="265.6" y="74.0" width="0.84" height="3.49" fill="#fff" fill-opacity="0.67"/>
<rect x="269.6" y="77.1" width="0.64" height="1.70" fill="#fff" fill-opacity="0.86"/>
<rect x="266.0" y="74.5" width="0.58" height="3.03" fill="#fff" fill-opacity="0.61"/>
<rect x="272.2" y="82.1" width="0.60" height="1.81" fill="#fff" fill-opacity="0.90"/>
<rect x="266.4" y="83.3" width="3.00" height="0.57" fill="#fff" fill-opacity="0.75"/>
<rect x="270.6" y="85.3" width="3.22" height="0.61" fill="#fff" fill-opacity="0.56"/>
<rect x="271.0" y="90.9" width="1.42" height="0.60" fill="#fff" fill-opacity="0.67"/>
<rect x="271.7" y="88.2" width="0.75" height="2.06" fill="#fff" fill-opacity="0.81"/>
<rect x="265.4" y="90.9" width="2.83" height="0.69" fill="#fff" fill-opacity="0.72"/>
<rect x="267.1" y="91.2" width="0.59" height="4.49" fill="#fff" fill-opacity="0.93"/>
<rect x="268.0" y="99.1" width="0.63" height="2.64" fill="#fff" fill-opacity="0.90"/>
<rect x="269.1" y="97.3" width="0.64" height="2.68" fill="#fff" fill-opacity="0.91"/>
<rect x="270.8" y="100.5" width="0.67" height="2.63" fill="#fff" fill-opacity="0.65"/>
<rect x="268.8" y="105.6" width="2.86" height="0.76" fill="#fff" fill-opacity="0.57"/>
<rect x="267.1" y="103.6" width="0.69" height="3.71" fill="#fff" fill-opacity="0.60"/>
<rect x="266.2" y="107.0" width="0.62" height="2.86" fill="#fff" fill-opacity="0.63"/>
<rect x="266.2" y="108.9" width="0.83" height="3.22" fill="#fff" fill-opacity="0.76"/>
<rect x="264.7" y="113.7" width="3.31" height="0.79" fill="#fff" fill-opacity="0.80"/>
<rect x="270.8" y="115.4" width="1.93" height="0.59" fill="#fff" fill-opacity="0.79"/>
<rect x="271.4" y="117.4" width="0.83" height="2.93" fill="#fff" fill-opacity="0.67"/>
<rect x="270.6" y="118.6" width="0.61" height="3.56" fill="#fff" fill-opacity="0.69"/>
<rect x="269.9" y="36.6" width="1.80" height="0.55" fill="#fff" fill-opacity="0.77"/>
<rect x="272.4" y="38.8" width="0.77" height="3.17" fill="#fff" fill-opacity="0.76"/>
<rect x="269.6" y="40.7" width="0.59" height="3.99" fill="#fff" fill-opacity="0.84"/>
<rect x="273.1" y="46.5" width="3.39" height="0.60" fill="#fff" fill-opacity="0.72"/>
<rect x="268.9" y="48.0" width="1.88" height="0.56" fill="#fff" fill-opacity="0.59"/>
<rect x="270.9" y="45.4" width="0.72" height="4.41" fill="#fff" fill-opacity="0.89"/>
<rect x="270.7" y="52.2" width="0.62" height="2.98" fill="#fff" fill-opacity="0.98"/>
<rect x="271.4" y="56.9" width="0.74" height="2.17" fill="#fff" fill-opacity="1.00"/>
<rect x="273.1" y="54.9" width="1.90" height="0.79" fill="#fff" fill-opacity="0.76"/>
<rect x="270.2" y="57.8" width="0.56" height="2.66" fill="#fff" fill-opacity="0.85"/>
<rect x="269.1" y="63.0" width="0.63" height="2.91" fill="#fff" fill-opacity="0.82"/>
<rect x="271.9" y="63.9" width="0.59" height="4.48" fill="#fff" fill-opacity="0.66"/>
<rect x="268.9" y="63.8" width="0.82" height="1.68" fill="#fff" fill-opacity="0.81"/>
<rect x="269.6" y="65.2" width="0.67" height="4.25" fill="#fff" fill-opacity="0.75"/>
<rect x="271.1" y="74.1" width="3.47" height="0.65" fill="#fff" fill-opacity="0.67"/>
<rect x="268.3" y="76.1" width="0.64" height="2.40" fill="#fff" fill-opacity="0.56"/>
<rect x="274.5" y="77.4" width="0.80" height="4.00" fill="#fff" fill-opacity="0.79"/>
<rect x="272.4" y="77.8" width="0.75" height="3.32" fill="#fff" fill-opacity="0.66"/>
<rect x="273.0" y="84.1" width="1.57" height="0.77" fill="#fff" fill-opacity="0.64"/>
<rect x="271.3" y="81.7" width="1.92" height="0.64" fill="#fff" fill-opacity="0.67"/>
<rect x="271.5" y="86.4" width="0.74" height="2.96" fill="#fff" fill-opacity="0.88"/>
<rect x="272.5" y="89.3" width="0.75" height="3.70" fill="#fff" fill-opacity="0.76"/>
<rect x="271.8" y="89.0" width="1.91" height="0.66" fill="#fff" fill-opacity="0.90"/>
<rect x="274.5" y="90.9" width="0.82" height="2.22" fill="#fff" fill-opacity="0.98"/>
<rect x="272.5" y="95.2" width="1.68" height="0.61" fill="#fff" fill-opacity="0.90"/>
<rect x="269.4" y="95.9" width="0.67" height="2.80" fill="#fff" fill-opacity="0.61"/>
<rect x="267.7" y="101.5" width="2.18" height="0.73" fill="#fff" fill-opacity="0.81"/>
<rect x="270.9" y="100.5" width="0.75" height="2.00" fill="#fff" fill-opacity="0.56"/>
<rect x="269.4" y="109.0" width="2.81" height="0.71" fill="#fff" fill-opacity="0.93"/>
<rect x="272.8" y="110.7" width="0.64" height="2.29" fill="#fff" fill-opacity="0.89"/>
<rect x="272.6" y="111.5" width="2.70" height="0.60" fill="#fff" fill-opacity="0.94"/>
<rect x="267.6" y="113.5" width="1.55" height="0.55" fill="#fff" fill-opacity="0.67"/>
<rect x="269.2" y="115.4" width="0.63" height="3.70" fill="#fff" fill-opacity="0.65"/>
<rect x="274.7" y="114.1" width="0.84" height="1.96" fill="#fff" fill-opacity="0.97"/>
<rect x="270.2" y="119.8" width="0.69" height="2.30" fill="#fff" fill-opacity="0.74"/>
<rect x="268.3" y="118.6" width="0.74" height="3.66" fill="#fff" fill-opacity="0.59"/>
<rect x="271.3" y="39.5" width="2.48" height="0.60" fill="#fff" fill-opacity="0.70"/>
<rect x="276.8" y="39.3" width="0.76" height="2.69" fill="#fff" fill-opacity="0.62"/>
<rect x="274.9" y="40.5" width="1.61" height="0.70" fill="#fff" fill-opacity="0.91"/>
<rect x="271.1" y="46.3" width="1.91" height="0.57" fill="#fff" fill-opacity="0.91"/>
<rect x="274.9" y="47.1" width="0.72" height="1.83" fill="#fff" fill-opacity="0.64"/>
<rect x="274.7" y="46.4" width="0.71" height="3.75" fill="#fff" fill-opacity="0.74"/>
<rect x="270.6" y="52.2" width="0.74" height="3.64" fill="#fff" fill-opacity="0.68"/>
<rect x="274.6" y="56.5" width="0.75" height="2.31" fill="#fff" fill-opacity="0.69"/>
<rect x="270.3" y="55.1" width="2.98" height="0.79" fill="#fff" fill-opacity="0.92"/>
<rect x="275.9" y="56.8" width="0.57" height="3.39" fill="#fff" fill-opacity="0.87"/>
<rect x="270.9" y="57.0" width="0.83" height="4.22" fill="#fff" fill-opacity="0.62"/>
<rect x="273.6" y="61.3" width="0.71" height="2.62" fill="#fff" fill-opacity="0.78"/>
<rect x="274.9" y="67.0" width="1.55" height="0.65" fill="#fff" fill-opacity="0.60"/>
<rect x="273.0" y="67.5" width="2.10" height="0.67" fill="#fff" fill-opacity="0.65"/>
<rect x="275.2" y="71.7" width="0.83" height="4.40" fill="#fff" fill-opacity="0.75"/>
<rect x="274.7" y="70.9" width="0.63" height="1.62" fill="#fff" fill-opacity="0.84"/>
<rect x="277.1" y="78.5" width="0.74" height="2.43" fill="#fff" fill-opacity="0.76"/>
<rect x="270.4" y="80.7" width="1.59" height="0.65" fill="#fff" fill-opacity="0.75"/>
<rect x="271.0" y="84.0" width="0.78" height="1.92" fill="#fff" fill-opacity="0.68"/>
<rect x="271.1" y="80.3" width="0.80" height="2.02" fill="#fff" fill-opacity="0.79"/>
<rect x="271.6" y="87.3" width="0.59" height="2.25" fill="#fff" fill-opacity="0.70"/>
<rect x="277.0" y="84.3" width="0.82" height="4.30" fill="#fff" fill-opacity="0.88"/>
<rect x="273.7" y="92.8" width="0.69" height="3.72" fill="#fff" fill-opacity="0.68"/>
<rect x="275.5" y="89.4" width="0.58" height="4.02" fill="#fff" fill-opacity="0.98"/>
<rect x="272.7" y="93.7" width="0.85" height="1.96" fill="#fff" fill-opacity="0.76"/>
<rect x="276.3" y="96.6" width="0.65" height="2.08" fill="#fff" fill-opacity="0.89"/>
<rect x="272.9" y="103.1" width="1.42" height="0.74" fill="#fff" fill-opacity="0.81"/>
<rect x="273.3" y="106.1" width="3.27" height="0.75" fill="#fff" fill-opacity="0.70"/>
<rect x="272.2" y="104.3" width="0.66" height="1.84" fill="#fff" fill-opacity="0.71"/>
<rect x="271.9" y="109.5" width="0.82" height="3.84" fill="#fff" fill-opacity="0.84"/>
<rect x="270.9" y="113.6" width="3.00" height="0.74" fill="#fff" fill-opacity="1.00"/>
<rect x="275.9" y="110.9" width="0.80" height="1.91" fill="#fff" fill-opacity="0.72"/>
<rect x="272.8" y="114.5" width="3.26" height="0.76" fill="#fff" fill-opacity="0.71"/>
<rect x="275.3" y="115.6" width="2.89" height="0.71" fill="#fff" fill-opacity="0.88"/>
<rect x="270.7" y="120.6" width="0.65" height="3.93" fill="#fff" fill-opacity="0.76"/>
<rect x="275.8" y="122.7" width="0.62" height="1.81" fill="#fff" fill-opacity="0.70"/>
<rect x="274.7" y="36.6" width="1.56" height="0.57" fill="#fff" fill-opacity="0.65"/>
<rect x="277.9" y="36.6" width="0.79" height="4.46" fill="#fff" fill-opacity="0.73"/>
<rect x="273.6" y="43.2" width="3.38" height="0.73" fill="#fff" fill-opacity="0.76"/>
<rect x="275.0" y="45.7" width="0.73" height="4.07" fill="#fff" fill-opacity="0.60"/>
<rect x="276.4" y="46.4" width="0.75" height="2.14" fill="#fff" fill-opacity="0.95"/>
<rect x="274.9" y="48.7" width="1.67" height="0.78" fill="#fff" fill-opacity="0.86"/>
<rect x="273.1" y="52.2" width="0.68" height="1.79" fill="#fff" fill-opacity="0.87"/>
<rect x="275.9" y="56.7" width="1.89" height="0.74" fill="#fff" fill-opacity="0.71"/>
<rect x="277.5" y="55.1" width="2.35" height="0.65" fill="#fff" fill-opacity="1.00"/>
<rect x="277.8" y="60.8" width="0.65" height="3.77" fill="#fff" fill-opacity="0.69"/>
<rect x="274.2" y="60.3" width="0.59" height="4.47" fill="#fff" fill-opacity="0.85"/>
<rect x="278.4" y="64.8" width="3.40" height="0.69" fill="#fff" fill-opacity="0.63"/>
<rect x="278.1" y="68.9" width="0.61" height="1.57" fill="#fff" fill-opacity="0.97"/>
<rect x="275.4" y="71.9" width="2.52" height="0.78" fill="#fff" fill-opacity="0.98"/>
<rect x="276.7" y="67.9" width="0.68" height="3.37" fill="#fff" fill-opacity="0.91"/>
<rect x="274.6" y="72.0" width="0.69" height="1.79" fill="#fff" fill-opacity="0.78"/>
<rect x="272.3" y="75.5" width="1.92" height="0.61" fill="#fff" fill-opacity="0.89"/>
<rect x="276.4" y="75.5" width="0.61" height="3.32" fill="#fff" fill-opacity="0.96"/>
<rect x="277.2" y="83.1" width="2.00" height="0.76" fill="#fff" fill-opacity="0.87"/>
<rect x="278.8" y="80.9" width="1.59" height="0.57" fill="#fff" fill-opacity="0.75"/>
<rect x="278.3" y="85.6" width="0.74" height="4.59" fill="#fff" fill-opacity="0.76"/>
<rect x="275.2" y="89.5" width="0.60" height="2.77" fill="#fff" fill-opacity="0.64"/>
<rect x="277.2" y="89.1" width="0.58" height="2.10" fill="#fff" fill-opacity="0.65"/>
<rect x="275.0" y="91.8" width="0.68" height="4.52" fill="#fff" fill-opacity="0.77"/>
<rect x="276.2" y="98.5" width="0.73" height="1.95" fill="#fff" fill-opacity="0.64"/>
<rect x="273.2" y="95.6" width="2.29" height="0.64" fill="#fff" fill-opacity="0.99"/>
<rect x="275.3" y="99.9" width="1.74" height="0.77" fill="#fff" fill-opacity="0.73"/>
<rect x="276.0" y="100.0" width="2.18" height="0.71" fill="#fff" fill-opacity="0.88"/>
<rect x="279.2" y="103.7" width="0.72" height="3.55" fill="#fff" fill-opacity="0.68"/>
<rect x="277.9" y="109.7" width="0.81" height="3.95" fill="#fff" fill-opacity="0.71"/>
<rect x="276.9" y="110.9" width="0.71" height="2.75" fill="#fff" fill-opacity="0.98"/>
<rect x="273.7" y="110.6" width="1.46" height="0.63" fill="#fff" fill-opacity="0.91"/>
<rect x="276.2" y="114.4" width="0.65" height="3.15" fill="#fff" fill-opacity="0.95"/>
<rect x="279.3" y="117.7" width="0.67" height="3.39" fill="#fff" fill-opacity="0.70"/>
<rect x="278.3" y="117.0" width="0.66" height="4.33" fill="#fff" fill-opacity="0.72"/>
<rect x="276.6" y="119.9" width="0.60" height="3.64" fill="#fff" fill-opacity="0.92"/>
<rect x="275.5" y="36.6" width="0.59" height="2.21" fill="#fff" fill-opacity="0.91"/>
<rect x="274.4" y="38.3" width="3.40" height="0.79" fill="#fff" fill-opacity="0.87"/>
<rect x="279.1" y="44.5" width="0.68" height="2.10" fill="#fff" fill-opacity="0.97"/>
<rect x="280.4" y="45.7" width="0.81" height="3.84" fill="#fff" fill-opacity="0.59"/>
<rect x="279.5" y="50.1" width="0.59" height="1.57" fill="#fff" fill-opacity="0.58"/>
<rect x="280.2" y="49.2" width="0.60" height="3.39" fill="#fff" fill-opacity="0.62"/>
<rect x="279.9" y="54.3" width="0.68" height="2.71" fill="#fff" fill-opacity="0.99"/>
<rect x="275.9" y="52.8" width="2.95" height="0.59" fill="#fff" fill-opacity="1.00"/>
<rect x="276.6" y="53.4" width="0.57" height="3.14" fill="#fff" fill-opacity="0.88"/>
<rect x="280.0" y="55.2" width="0.72" height="2.90" fill="#fff" fill-opacity="0.91"/>
<rect x="281.3" y="60.8" width="0.83" height="4.16" fill="#fff" fill-opacity="0.73"/>
<rect x="281.6" y="63.3" width="0.66" height="3.64" fill="#fff" fill-opacity="0.63"/>
<rect x="275.0" y="68.8" width="1.41" height="0.75" fill="#fff" fill-opacity="0.78"/>
<rect x="278.2" y="68.5" width="0.67" height="4.48" fill="#fff" fill-opacity="0.88"/>
<rect x="281.9" y="73.8" width="0.66" height="2.33" fill="#fff" fill-opacity="0.69"/>
<rect x="280.1" y="76.1" width="3.58" height="0.72" fill="#fff" fill-opacity="0.92"/>
<rect x="277.5" y="76.6" width="0.60" height="4.16" fill="#fff" fill-opacity="0.82"/>
<rect x="277.3" y="77.4" width="3.45" height="0.74" fill="#fff" fill-opacity="0.59"/>
<rect x="276.3" y="82.1" width="0.73" height="2.82" fill="#fff" fill-opacity="0.96"/>
<rect x="281.1" y="81.1" width="2.01" height="0.58" fill="#fff" fill-opacity="0.60"/>
<rect x="280.1" y="85.9" width="3.01" height="0.71" fill="#fff" fill-opacity="0.67"/>
<rect x="274.9" y="88.7" width="2.84" height="0.62" fill="#fff" fill-opacity="0.65"/>
<rect x="277.0" y="94.1" width="2.34" height="0.69" fill="#fff" fill-opacity="1.00"/>
<rect x="280.9" y="93.5" width="0.67" height="4.45" fill="#fff" fill-opacity="0.94"/>
<rect x="277.5" y="93.5" width="2.90" height="0.56" fill="#fff" fill-opacity="0.62"/>
<rect x="281.1" y="98.8" width="2.80" height="0.64" fill="#fff" fill-opacity="0.61"/>
<rect x="277.1" y="101.4" width="0.58" height="4.14" fill="#fff" fill-opacity="0.77"/>
<rect x="281.4" y="98.7" width="0.77" height="3.76" fill="#fff" fill-opacity="0.76"/>
<rect x="277.6" y="108.2" width="0.79" height="1.87" fill="#fff" fill-opacity="0.61"/>
<rect x="276.5" y="107.1" width="0.83" height="2.97" fill="#fff" fill-opacity="0.62"/>
<rect x="279.4" y="109.0" width="3.39" height="0.70" fill="#fff" fill-opacity="0.65"/>
<rect x="281.9" y="113.9" width="0.81" height="2.87" fill="#fff" fill-opacity="0.79"/>
<rect x="274.8" y="118.5" width="3.04" height="0.61" fill="#fff" fill-opacity="0.86"/>
<rect x="278.0" y="120.2" width="1.75" height="0.72" fill="#fff" fill-opacity="0.97"/>
<rect x="279.1" y="118.7" width="0.69" height="3.03" fill="#fff" fill-opacity="0.61"/>
<rect x="277.1" y="121.4" width="0.73" height="2.00" fill="#fff" fill-opacity="0.89"/>
<rect x="283.4" y="36.6" width="1.71" height="0.70" fill="#fff" fill-opacity="0.99"/>
<rect x="284.5" y="38.4" width="0.56" height="2.13" fill="#fff" fill-opacity="0.69"/>
<rect x="278.5" y="39.4" width="0.83" height="3.62" fill="#fff" fill-opacity="0.80"/>
<rect x="280.2" y="46.4" width="0.81" height="3.58" fill="#fff" fill-opacity="0.79"/>
<rect x="280.3" y="46.0" width="0.62" height="4.52" fill="#fff" fill-opacity="0.99"/>
<rect x="278.2" y="45.7" width="0.70" height="1.87" fill="#fff" fill-opacity="0.64"/>
<rect x="282.1" y="53.3" width="3.58" height="0.72" fill="#fff" fill-opacity="0.97"/>
<rect x="282.6" y="50.3" width="0.84" height="2.47" fill="#fff" fill-opacity="0.74"/>
<rect x="281.7" y="52.0" width="0.73" height="4.06" fill="#fff" fill-opacity="0.96"/>
<rect x="277.9" y="55.6" width="0.58" height="4.39" fill="#fff" fill-opacity="0.92"/>
<rect x="279.5" y="63.5" width="0.84" height="2.76" fill="#fff" fill-opacity="0.70"/>
<rect x="282.1" y="61.4" width="1.64" height="0.74" fill="#fff" fill-opacity="0.99"/>
<rect x="279.6" y="62.4" width="0.84" height="4.58" fill="#fff" fill-opacity="0.85"/>
<rect x="284.6" y="68.8" width="0.77" height="3.21" fill="#fff" fill-opacity="0.62"/>
<rect x="280.3" y="73.8" width="0.60" height="1.96" fill="#fff" fill-opacity="0.61"/>
<rect x="281.8" y="74.9" width="0.72" height="3.24" fill="#fff" fill-opacity="0.78"/>
<rect x="280.6" y="76.1" width="0.68" height="2.23" fill="#fff" fill-opacity="0.58"/>
<rect x="282.5" y="77.2" width="1.60" height="0.67" fill="#fff" fill-opacity="0.66"/>
<rect x="279.3" y="80.3" width="2.87" height="0.76" fill="#fff" fill-opacity="0.65"/>
<rect x="280.3" y="83.9" width="1.80" height="0.57" fill="#fff" fill-opacity="0.82"/>
<rect x="278.3" y="84.3" width="0.68" height="2.46" fill="#fff" fill-opacity="0.84"/>
<rect x="281.3" y="90.8" width="0.64" height="2.51" fill="#fff" fill-opacity="0.62"/>
<rect x="284.1" y="92.0" width="0.56" height="1.88" fill="#fff" fill-opacity="0.62"/>
<rect x="283.7" y="93.5" width="0.57" height="3.07" fill="#fff" fill-opacity="0.83"/>
<rect x="279.2" y="93.4" width="2.52" height="0.59" fill="#fff" fill-opacity="0.87"/>
<rect x="281.0" y="98.1" width="3.39" height="0.55" fill="#fff" fill-opacity="0.59"/>
<rect x="279.3" y="98.3" width="0.76" height="4.58" fill="#fff" fill-opacity="0.59"/>
<rect x="279.3" y="101.8" width="2.28" height="0.72" fill="#fff" fill-opacity="0.65"/>
<rect x="280.6" y="101.7" width="0.85" height="4.35" fill="#fff" fill-opacity="0.79"/>
<rect x="278.4" y="107.1" width="0.75" height="3.04" fill="#fff" fill-opacity="0.64"/>
<rect x="282.5" y="109.4" width="2.44" height="0.59" fill="#fff" fill-opacity="0.92"/>
<rect x="280.1" y="110.6" width="2.67" height="0.79" fill="#fff" fill-opacity="0.86"/>
<rect x="277.4" y="117.1" width="2.11" height="0.56" fill="#fff" fill-opacity="0.60"/>
<rect x="281.8" y="118.1" width="0.66" height="3.71" fill="#fff" fill-opacity="0.86"/>
<rect x="279.7" y="120.7" width="0.58" height="3.75" fill="#fff" fill-opacity="0.55"/>
<rect x="283.7" y="122.6" width="0.77" height="1.86" fill="#fff" fill-opacity="0.94"/>
<rect x="282.9" y="36.9" width="0.66" height="4.21" fill="#fff" fill-opacity="0.57"/>
<rect x="285.8" y="38.7" width="3.30" height="0.70" fill="#fff" fill-opacity="0.90"/>
<rect x="286.3" y="43.3" width="1.83" height="0.68" fill="#fff" fill-opacity="0.80"/>
<rect x="283.5" y="42.9" width="0.73" height="2.19" fill="#fff" fill-opacity="0.78"/>
<rect x="282.1" y="46.6" width="0.75" height="2.07" fill="#fff" fill-opacity="0.74"/>
<rect x="282.7" y="48.2" width="3.12" height="0.68" fill="#fff" fill-opacity="0.87"/>
<rect x="282.0" y="54.0" width="0.64" height="2.75" fill="#fff" fill-opacity="0.72"/>
<rect x="285.1" y="55.6" width="0.61" height="2.90" fill="#fff" fill-opacity="0.88"/>
<rect x="282.6" y="55.0" width="0.77" height="2.14" fill="#fff" fill-opacity="0.89"/>
<rect x="281.8" y="59.9" width="0.74" height="3.65" fill="#fff" fill-opacity="0.85"/>
<rect x="282.0" y="57.7" width="0.84" height="3.13" fill="#fff" fill-opacity="0.56"/>
<rect x="284.1" y="67.6" width="2.14" height="0.58" fill="#fff" fill-opacity="0.65"/>
<rect x="285.7" y="67.2" width="0.63" height="3.01" fill="#fff" fill-opacity="0.72"/>
<rect x="284.3" y="71.9" width="2.37" height="0.66" fill="#fff" fill-opacity="0.94"/>
<rect x="282.4" y="73.1" width="0.63" height="4.36" fill="#fff" fill-opacity="0.62"/>
<rect x="285.3" y="73.0" width="2.34" height="0.60" fill="#fff" fill-opacity="0.95"/>
<rect x="285.5" y="74.7" width="0.68" height="2.73" fill="#fff" fill-opacity="0.96"/>
<rect x="284.3" y="76.9" width="0.66" height="1.53" fill="#fff" fill-opacity="0.73"/>
<rect x="282.8" y="82.5" width="0.74" height="2.08" fill="#fff" fill-opacity="0.86"/>
<rect x="280.4" y="83.3" width="0.61" height="4.15" fill="#fff" fill-opacity="0.68"/>
<rect x="286.5" y="84.0" width="0.65" height="1.61" fill="#fff" fill-opacity="0.81"/>
<rect x="282.5" y="89.0" width="0.59" height="2.16" fill="#fff" fill-opacity="0.78"/>
<rect x="282.4" y="88.7" width="0.58" height="4.56" fill="#fff" fill-opacity="0.96"/>
<rect x="281.9" y="95.6" width="0.66" height="1.62" fill="#fff" fill-opacity="0.81"/>
<rect x="285.7" y="96.3" width="0.69" height="4.56" fill="#fff" fill-opacity="0.90"/>
<rect x="280.5" y="96.0" width="0.78" height="4.11" fill="#fff" fill-opacity="0.83"/>
<rect x="283.4" y="100.2" width="1.97" height="0.74" fill="#fff" fill-opacity="0.60"/>
<rect x="283.3" y="106.4" width="0.61" height="1.51" fill="#fff" fill-opacity="0.76"/>
<rect x="280.9" y="102.2" width="0.70" height="2.40" fill="#fff" fill-opacity="0.74"/>
<rect x="284.1" y="108.4" width="2.52" height="0.67" fill="#fff" fill-opacity="0.63"/>
<rect x="282.8" y="112.3" width="0.66" height="2.54" fill="#fff" fill-opacity="0.94"/>
<rect x="284.4" y="112.6" width="0.84" height="2.65" fill="#fff" fill-opacity="0.59"/>
<rect x="281.0" y="115.0" width="0.65" height="4.12" fill="#fff" fill-opacity="0.70"/>
<rect x="281.8" y="117.5" width="2.28" height="0.59" fill="#fff" fill-opacity="0.71"/>
<rect x="284.8" y="120.0" width="0.62" height="3.95" fill="#fff" fill-opacity="0.73"/>
<rect x="283.4" y="122.3" width="0.56" height="2.18" fill="#fff" fill-opacity="0.88"/>
<rect x="288.4" y="38.8" width="2.44" height="0.60" fill="#fff" fill-opacity="0.77"/>
<rect x="282.8" y="41.0" width="2.82" height="0.58" fill="#fff" fill-opacity="0.67"/>
<rect x="286.9" y="39.5" width="0.72" height="1.92" fill="#fff" fill-opacity="0.69"/>
<rect x="286.0" y="44.3" width="0.75" height="3.19" fill="#fff" fill-opacity="0.69"/>
<rect x="286.9" y="47.5" width="0.68" height="4.07" fill="#fff" fill-opacity="0.65"/>
<rect x="286.5" y="49.7" width="0.84" height="4.05" fill="#fff" fill-opacity="0.75"/>
<rect x="287.1" y="47.5" width="0.83" height="4.51" fill="#fff" fill-opacity="0.56"/>
<rect x="286.4" y="53.0" width="3.22" height="0.68" fill="#fff" fill-opacity="0.63"/>
<rect x="282.8" y="58.4" width="0.76" height="3.15" fill="#fff" fill-opacity="0.92"/>
<rect x="288.2" y="57.4" width="1.46" height="0.63" fill="#fff" fill-opacity="0.70"/>
<rect x="283.2" y="58.1" width="0.60" height="2.41" fill="#fff" fill-opacity="0.60"/>
<rect x="283.2" y="67.2" width="3.58" height="0.66" fill="#fff" fill-opacity="0.94"/>
<rect x="287.0" y="65.3" width="3.01" height="0.61" fill="#fff" fill-opacity="0.91"/>
<rect x="283.2" y="71.5" width="0.81" height="1.94" fill="#fff" fill-opacity="0.83"/>
<rect x="286.9" y="71.4" width="1.83" height="0.79" fill="#fff" fill-opacity="0.76"/>
<rect x="283.5" y="75.8" width="2.93" height="0.65" fill="#fff" fill-opacity="0.66"/>
<rect x="283.3" y="74.6" width="2.52" height="0.68" fill="#fff" fill-opacity="0.72"/>
<rect x="282.1" y="80.8" width="2.19" height="0.60" fill="#fff" fill-opacity="0.94"/>
<rect x="285.1" y="82.4" width="0.71" height="1.98" fill="#fff" fill-opacity="0.73"/>
<rect x="289.0" y="82.2" width="0.61" height="3.74" fill="#fff" fill-opacity="0.90"/>
<rect x="285.1" y="87.3" width="0.74" height="3.00" fill="#fff" fill-opacity="0.67"/>
<rect x="285.3" y="87.6" width="0.55" height="3.98" fill="#fff" fill-opacity="0.75"/>
<rect x="284.4" y="92.9" width="0.74" height="1.89" fill="#fff" fill-opacity="0.82"/>
<rect x="286.9" y="92.2" width="2.89" height="0.75" fill="#fff" fill-opacity="0.90"/>
<rect x="285.2" y="97.3" width="1.62" height="0.65" fill="#fff" fill-opacity="0.64"/>
<rect x="286.2" y="95.5" width="0.67" height="1.96" fill="#fff" fill-opacity="0.94"/>
<rect x="283.9" y="100.4" width="0.71" height="2.86" fill="#fff" fill-opacity="0.76"/>
<rect x="286.2" y="105.2" width="0.61" height="1.62" fill="#fff" fill-opacity="0.97"/>
<rect x="287.9" y="105.4" width="0.78" height="2.45" fill="#fff" fill-opacity="0.65"/>
<rect x="287.7" y="105.3" width="0.66" height="2.99" fill="#fff" fill-opacity="0.84"/>
<rect x="282.2" y="111.7" width="2.61" height="0.73" fill="#fff" fill-opacity="0.62"/>
<rect x="282.7" y="115.5" width="1.95" height="0.57" fill="#fff" fill-opacity="0.57"/>
<rect x="284.4" y="111.7" width="0.64" height="2.93" fill="#fff" fill-opacity="0.66"/>
<rect x="284.6" y="120.1" width="1.89" height="0.55" fill="#fff" fill-opacity="0.60"/>
<rect x="283.5" y="117.9" width="3.59" height="0.60" fill="#fff" fill-opacity="0.90"/>
<rect x="282.9" y="122.0" width="0.67" height="2.47" fill="#fff" fill-opacity="0.97"/>
<rect x="285.6" y="38.9" width="0.68" height="3.88" fill="#fff" fill-opacity="0.75"/>
<rect x="290.8" y="38.7" width="0.82" height="2.76" fill="#fff" fill-opacity="0.73"/>
<rect x="289.7" y="41.5" width="0.62" height="3.23" fill="#fff" fill-opacity="0.81"/>
<rect x="291.0" y="41.5" width="0.84" height="1.54" fill="#fff" fill-opacity="0.95"/>
<rect x="288.9" y="48.2" width="1.69" height="0.63" fill="#fff" fill-opacity="0.76"/>
<rect x="290.0" y="49.8" width="0.75" height="3.54" fill="#fff" fill-opacity="0.84"/>
<rect x="285.3" y="51.1" width="0.65" height="1.90" fill="#fff" fill-opacity="0.82"/>
<rect x="288.8" y="53.1" width="2.60" height="0.75" fill="#fff" fill-opacity="0.69"/>
<rect x="286.0" y="57.1" width="0.56" height="3.74" fill="#fff" fill-opacity="0.97"/>
<rect x="287.7" y="56.7" width="0.67" height="1.88" fill="#fff" fill-opacity="0.78"/>
<rect x="287.9" y="60.6" width="2.36" height="0.61" fill="#fff" fill-opacity="0.72"/>
<rect x="291.8" y="61.5" width="0.67" height="3.84" fill="#fff" fill-opacity="0.92"/>
<rect x="287.0" y="63.4" width="0.81" height="2.13" fill="#fff" fill-opacity="0.75"/>
<rect x="288.2" y="69.9" width="0.71" height="2.82" fill="#fff" fill-opacity="0.62"/>
<rect x="291.6" y="73.9" width="0.67" height="1.60" fill="#fff" fill-opacity="0.80"/>
<rect x="288.2" y="76.4" width="0.76" height="1.70" fill="#fff" fill-opacity="0.81"/>
<rect x="291.6" y="72.9" width="0.56" height="2.66" fill="#fff" fill-opacity="0.87"/>
<rect x="286.0" y="78.3" width="0.62" height="1.75" fill="#fff" fill-opacity="0.62"/>
<rect x="285.7" y="78.3" width="0.80" height="2.79" fill="#fff" fill-opacity="0.61"/>
<rect x="285.7" y="82.2" width="3.03" height="0.57" fill="#fff" fill-opacity="0.57"/>
<rect x="291.7" y="85.2" width="0.58" height="1.70" fill="#fff" fill-opacity="0.94"/>
<rect x="289.0" y="89.4" width="2.49" height="0.60" fill="#fff" fill-opacity="0.68"/>
<rect x="288.2" y="88.3" width="0.63" height="3.49" fill="#fff" fill-opacity="0.68"/>
<rect x="285.8" y="94.5" width="0.58" height="3.08" fill="#fff" fill-opacity="0.65"/>
<rect x="288.5" y="96.7" width="0.82" height="2.35" fill="#fff" fill-opacity="0.74"/>
<rect x="291.2" y="101.2" width="1.97" height="0.75" fill="#fff" fill-opacity="0.97"/>
<rect x="288.1" y="98.9" width="3.18" height="0.69" fill="#fff" fill-opacity="0.84"/>
<rect x="285.7" y="105.2" width="0.73" height="2.10" fill="#fff" fill-opacity="0.67"/>
<rect x="288.4" y="106.2" width="0.58" height="2.97" fill="#fff" fill-opacity="0.85"/>
<rect x="289.5" y="108.6" width="0.84" height="2.71" fill="#fff" fill-opacity="0.64"/>
<rect x="287.0" y="109.9" width="2.83" height="0.65" fill="#fff" fill-opacity="0.88"/>
<rect x="289.0" y="111.7" width="0.84" height="3.91" fill="#fff" fill-opacity="0.98"/>
<rect x="290.8" y="115.4" width="3.03" height="0.73" fill="#fff" fill-opacity="0.66"/>
<rect x="290.4" y="120.3" width="3.13" height="0.67" fill="#fff" fill-opacity="0.67"/>
<rect x="286.0" y="119.6" width="3.26" height="0.72" fill="#fff" fill-opacity="0.93"/>
<rect x="286.3" y="120.0" width="0.65" height="1.82" fill="#fff" fill-opacity="0.65"/>
<rect x="288.7" y="37.2" width="0.65" height="4.13" fill="#fff" fill-opacity="0.93"/>
<rect x="289.7" y="37.3" width="0.68" height="2.68" fill="#fff" fill-opacity="0.56"/>
<rect x="287.6" y="44.1" width="0.84" height="2.21" fill="#fff" fill-opacity="0.55"/>
<rect x="289.3" y="40.4" width="0.72" height="3.06" fill="#fff" fill-opacity="0.87"/>
<rect x="287.8" y="45.7" width="3.58" height="0.77" fill="#fff" fill-opacity="0.72"/>
<rect x="288.4" y="50.6" width="0.79" height="3.66" fill="#fff" fill-opacity="0.87"/>
<rect x="291.4" y="53.2" width="0.63" height="2.74" fill="#fff" fill-opacity="0.79"/>
<rect x="288.9" y="54.7" width="0.74" height="3.36" fill="#fff" fill-opacity="0.90"/>
<rect x="293.9" y="58.2" width="0.83" height="2.65" fill="#fff" fill-opacity="0.70"/>
<rect x="287.2" y="58.3" width="2.82" height="0.72" fill="#fff" fill-opacity="0.97"/>
<rect x="294.0" y="62.9" width="0.78" height="2.48" fill="#fff" fill-opacity="0.76"/>
<rect x="287.2" y="65.1" width="2.90" height="0.77" fill="#fff" fill-opacity="0.66"/>
<rect x="288.4" y="62.3" width="0.83" height="4.59" fill="#fff" fill-opacity="0.70"/>
<rect x="290.6" y="70.5" width="0.84" height="2.04" fill="#fff" fill-opacity="0.63"/>
<rect x="288.1" y="69.5" width="0.67" height="4.46" fill="#fff" fill-opacity="0.77"/>
<rect x="289.8" y="76.5" width="1.92" height="0.63" fill="#fff" fill-opacity="0.81"/>
<rect x="291.0" y="74.5" width="0.65" height="3.38" fill="#fff" fill-opacity="0.78"/>
<rect x="294.5" y="76.5" width="0.58" height="1.67" fill="#fff" fill-opacity="0.56"/>
<rect x="289.2" y="83.7" width="3.24" height="0.70" fill="#fff" fill-opacity="0.98"/>
<rect x="291.6" y="80.0" width="0.74" height="1.70" fill="#fff" fill-opacity="0.67"/>
<rect x="291.4" y="83.9" width="0.58" height="3.77" fill="#fff" fill-opacity="0.73"/>
<rect x="293.0" y="87.5" width="0.81" height="4.56" fill="#fff" fill-opacity="0.82"/>
<rect x="292.1" y="88.0" width="2.01" height="0.78" fill="#fff" fill-opacity="0.85"/>
<rect x="293.3" y="95.5" width="0.66" height="2.42" fill="#fff" fill-opacity="0.81"/>
<rect x="292.8" y="95.6" width="0.83" height="3.26" fill="#fff" fill-opacity="0.79"/>
<rect x="293.0" y="99.0" width="2.41" height="0.69" fill="#fff" fill-opacity="0.56"/>
<rect x="292.6" y="102.9" width="0.74" height="3.15" fill="#fff" fill-opacity="0.77"/>
<rect x="292.4" y="106.0" width="0.81" height="1.68" fill="#fff" fill-opacity="0.69"/>
<rect x="293.1" y="101.6" width="0.62" height="2.68" fill="#fff" fill-opacity="0.91"/>
<rect x="289.2" y="108.4" width="0.65" height="3.32" fill="#fff" fill-opacity="0.82"/>
<rect x="293.2" y="112.7" width="2.54" height="0.65" fill="#fff" fill-opacity="0.66"/>
<rect x="289.9" y="113.4" width="0.78" height="4.40" fill="#fff" fill-opacity="0.80"/>
<rect x="287.8" y="112.3" width="0.60" height="4.11" fill="#fff" fill-opacity="0.97"/>
<rect x="289.6" y="118.4" width="2.12" height="0.59" fill="#fff" fill-opacity="0.58"/>
<rect x="288.0" y="119.1" width="1.67" height="0.75" fill="#fff" fill-opacity="0.81"/>
<rect x="290.5" y="120.4" width="1.88" height="0.78" fill="#fff" fill-opacity="0.92"/>
<rect x="295.6" y="36.6" width="0.80" height="1.80" fill="#fff" fill-opacity="0.94"/>
<rect x="295.2" y="40.9" width="0.85" height="2.52" fill="#fff" fill-opacity="0.92"/>
<rect x="295.7" y="43.5" width="0.76" height="4.13" fill="#fff" fill-opacity="0.86"/>
<rect x="294.0" y="41.5" width="0.59" height="4.16" fill="#fff" fill-opacity="0.79"/>
<rect x="295.7" y="45.5" width="1.67" height="0.74" fill="#fff" fill-opacity="0.85"/>
<rect x="295.3" y="47.2" width="0.78" height="2.95" fill="#fff" fill-opacity="0.68"/>
<rect x="295.6" y="49.1" width="0.81" height="2.00" fill="#fff" fill-opacity="0.71"/>
<rect x="290.6" y="55.5" width="0.58" height="2.27" fill="#fff" fill-opacity="0.85"/>
<rect x="294.7" y="58.6" width="0.56" height="2.56" fill="#fff" fill-opacity="0.75"/>
<rect x="290.8" y="61.4" width="2.57" height="0.72" fill="#fff" fill-opacity="0.90"/>
<rect x="290.9" y="60.4" width="0.77" height="2.16" fill="#fff" fill-opacity="0.68"/>
<rect x="291.4" y="62.9" width="2.46" height="0.64" fill="#fff" fill-opacity="0.84"/>
<rect x="296.3" y="69.0" width="0.81" height="2.29" fill="#fff" fill-opacity="0.81"/>
<rect x="291.9" y="65.4" width="0.60" height="2.84" fill="#fff" fill-opacity="0.90"/>
<rect x="296.8" y="70.5" width="0.82" height="2.67" fill="#fff" fill-opacity="0.93"/>
<rect x="289.8" y="75.1" width="2.85" height="0.63" fill="#fff" fill-opacity="0.97"/>
<rect x="293.5" y="73.3" width="0.82" height="4.31" fill="#fff" fill-opacity="0.76"/>
<rect x="295.0" y="78.8" width="3.43" height="0.71" fill="#fff" fill-opacity="0.61"/>
<rect x="294.8" y="80.8" width="3.27" height="0.75" fill="#fff" fill-opacity="0.56"/>
<rect x="292.6" y="85.1" width="0.69" height="2.77" fill="#fff" fill-opacity="0.89"/>
<rect x="290.0" y="88.4" width="3.55" height="0.61" fill="#fff" fill-opacity="0.59"/>
<rect x="292.6" y="86.8" width="0.83" height="3.46" fill="#fff" fill-opacity="0.95"/>
<rect x="292.5" y="87.4" width="0.72" height="2.89" fill="#fff" fill-opacity="0.78"/>
<rect x="296.8" y="91.2" width="0.60" height="4.41" fill="#fff" fill-opacity="0.74"/>
<rect x="294.1" y="95.2" width="0.64" height="3.03" fill="#fff" fill-opacity="0.66"/>
<rect x="293.2" y="101.1" width="0.57" height="1.99" fill="#fff" fill-opacity="0.64"/>
<rect x="291.2" y="102.9" width="3.12" height="0.66" fill="#fff" fill-opacity="0.66"/>
<rect x="293.7" y="102.2" width="0.75" height="3.64" fill="#fff" fill-opacity="0.58"/>
<rect x="292.2" y="108.7" width="1.55" height="0.69" fill="#fff" fill-opacity="0.69"/>
<rect x="294.6" y="104.9" width="0.56" height="3.78" fill="#fff" fill-opacity="0.77"/>
<rect x="294.4" y="108.5" width="0.61" height="2.06" fill="#fff" fill-opacity="0.65"/>
<rect x="294.4" y="112.8" width="3.18" height="0.70" fill="#fff" fill-opacity="0.71"/>
<rect x="294.5" y="113.4" width="0.84" height="3.58" fill="#fff" fill-opacity="0.64"/>
<rect x="293.7" y="117.3" width="0.62" height="4.11" fill="#fff" fill-opacity="0.70"/>
<rect x="289.0" y="120.1" width="2.98" height="0.63" fill="#fff" fill-opacity="0.90"/>
<rect x="291.7" y="120.6" width="0.65" height="3.86" fill="#fff" fill-opacity="0.88"/>
<rect x="295.0" y="39.7" width="3.57" height="0.55" fill="#fff" fill-opacity="0.72"/>
<rect x="298.5" y="36.6" width="0.78" height="2.48" fill="#fff" fill-opacity="0.72"/>
<rect x="293.9" y="43.8" width="0.70" height="1.61" fill="#fff" fill-opacity="0.89"/>
<rect x="297.8" y="41.4" width="0.63" height="3.56" fill="#fff" fill-opacity="0.55"/>
<rect x="297.7" y="47.5" width="0.75" height="2.14" fill="#fff" fill-opacity="0.88"/>
<rect x="295.5" y="50.4" width="2.08" height="0.64" fill="#fff" fill-opacity="0.64"/>
<rect x="292.6" y="51.1" width="1.78" height="0.73" fill="#fff" fill-opacity="0.81"/>
<rect x="293.3" y="55.1" width="0.63" height="3.10" fill="#fff" fill-opacity="0.59"/>
<rect x="293.2" y="59.6" width="3.05" height="0.72" fill="#fff" fill-opacity="0.68"/>
<rect x="296.0" y="57.8" width="1.43" height="0.63" fill="#fff" fill-opacity="0.98"/>
<rect x="294.8" y="58.1" width="0.56" height="4.09" fill="#fff" fill-opacity="0.95"/>
<rect x="294.0" y="61.1" width="1.87" height="0.58" fill="#fff" fill-opacity="0.67"/>
<rect x="295.0" y="63.1" width="0.72" height="2.88" fill="#fff" fill-opacity="0.66"/>
<rect x="293.9" y="69.4" width="2.16" height="0.78" fill="#fff" fill-opacity="0.88"/>
<rect x="298.0" y="70.3" width="0.59" height="4.25" fill="#fff" fill-opacity="0.70"/>
<rect x="296.3" y="71.3" width="1.47" height="0.73" fill="#fff" fill-opacity="0.95"/>
<rect x="293.2" y="76.8" width="2.50" height="0.72" fill="#fff" fill-opacity="0.71"/>
<rect x="293.9" y="78.3" width="0.61" height="3.70" fill="#fff" fill-opacity="0.99"/>
<rect x="292.8" y="79.2" width="0.71" height="2.04" fill="#fff" fill-opacity="0.62"/>
<rect x="298.0" y="80.4" width="0.59" height="2.17" fill="#fff" fill-opacity="0.94"/>
<rect x="297.0" y="86.1" width="2.28" height="0.79" fill="#fff" fill-opacity="0.70"/>
<rect x="293.9" y="91.9" width="2.60" height="0.79" fill="#fff" fill-opacity="0.64"/>
<rect x="292.3" y="93.6" width="2.72" height="0.57" fill="#fff" fill-opacity="0.89"/>
<rect x="298.4" y="90.9" width="2.10" height="0.72" fill="#fff" fill-opacity="0.88"/>
<rect x="295.3" y="96.1" width="0.67" height="3.99" fill="#fff" fill-opacity="0.97"/>
<rect x="295.8" y="99.5" width="0.56" height="3.02" fill="#fff" fill-opacity="0.80"/>
<rect x="291.6" y="103.4" width="3.54" height="0.79" fill="#fff" fill-opacity="0.74"/>
<rect x="298.1" y="100.6" width="2.73" height="0.55" fill="#fff" fill-opacity="0.88"/>
<rect x="298.9" y="105.0" width="0.63" height="1.59" fill="#fff" fill-opacity="0.92"/>
<rect x="298.8" y="105.2" width="0.85" height="3.79" fill="#fff" fill-opacity="0.61"/>
<rect x="292.9" y="108.4" width="2.68" height="0.58" fill="#fff" fill-opacity="0.85"/>
<rect x="295.4" y="114.3" width="0.57" height="4.59" fill="#fff" fill-opacity="0.74"/>
<rect x="292.8" y="118.7" width="1.49" height="0.72" fill="#fff" fill-opacity="0.88"/>
<rect x="295.8" y="117.4" width="0.79" height="1.91" fill="#fff" fill-opacity="0.78"/>
<rect x="298.5" y="118.5" width="0.69" height="3.51" fill="#fff" fill-opacity="0.66"/>
<rect x="296.3" y="122.3" width="0.85" height="2.17" fill="#fff" fill-opacity="0.78"/>
<rect x="295.1" y="36.6" width="0.68" height="1.61" fill="#fff" fill-opacity="0.61"/>
<rect x="300.1" y="39.8" width="3.01" height="0.74" fill="#fff" fill-opacity="0.86"/>
<rect x="297.0" y="42.3" width="0.73" height="3.90" fill="#fff" fill-opacity="0.80"/>
<rect x="294.7" y="43.8" width="3.55" height="0.58" fill="#fff" fill-opacity="0.91"/>
<rect x="295.3" y="44.5" width="2.83" height="0.74" fill="#fff" fill-opacity="0.89"/>
<rect x="297.4" y="50.1" width="2.84" height="0.70" fill="#fff" fill-opacity="0.84"/>
<rect x="298.4" y="52.8" width="0.68" height="2.81" fill="#fff" fill-opacity="0.61"/>
<rect x="297.9" y="54.0" width="0.68" height="2.65" fill="#fff" fill-opacity="0.73"/>
<rect x="301.6" y="53.1" width="0.67" height="2.89" fill="#fff" fill-opacity="0.87"/>
<rect x="299.0" y="56.7" width="0.81" height="4.41" fill="#fff" fill-opacity="0.56"/>
<rect x="296.9" y="60.0" width="0.82" height="4.09" fill="#fff" fill-opacity="0.58"/>
<rect x="295.7" y="62.7" width="2.43" height="0.65" fill="#fff" fill-opacity="0.91"/>
<rect x="296.1" y="68.8" width="1.65" height="0.70" fill="#fff" fill-opacity="0.94"/>
<rect x="301.8" y="69.1" width="0.57" height="3.77" fill="#fff" fill-opacity="0.62"/>
<rect x="294.1" y="73.7" width="3.36" height="0.78" fill="#fff" fill-opacity="0.76"/>
<rect x="299.2" y="69.5" width="0.62" height="4.38" fill="#fff" fill-opacity="0.74"/>
<rect x="300.0" y="73.0" width="0.72" height="2.51" fill="#fff" fill-opacity="0.70"/>
<rect x="298.0" y="79.3" width="0.65" height="4.43" fill="#fff" fill-opacity="0.87"/>
<rect x="301.5" y="78.9" width="0.67" height="3.43" fill="#fff" fill-opacity="0.60"/>
<rect x="299.3" y="82.1" width="0.72" height="2.03" fill="#fff" fill-opacity="0.61"/>
<rect x="296.4" y="87.1" width="1.96" height="0.70" fill="#fff" fill-opacity="0.78"/>
<rect x="296.9" y="88.9" width="0.68" height="4.32" fill="#fff" fill-opacity="0.67"/>
<rect x="296.1" y="88.1" width="0.65" height="2.72" fill="#fff" fill-opacity="0.65"/>
<rect x="300.1" y="91.2" width="0.78" height="4.30" fill="#fff" fill-opacity="0.73"/>
<rect x="297.9" y="97.5" width="0.71" height="3.61" fill="#fff" fill-opacity="0.99"/>
<rect x="297.6" y="95.5" width="0.66" height="3.67" fill="#fff" fill-opacity="0.95"/>
<rect x="298.1" y="99.7" width="0.65" height="3.61" fill="#fff" fill-opacity="0.63"/>
<rect x="298.3" y="100.0" width="1.55" height="0.61" fill="#fff" fill-opacity="0.74"/>
<rect x="296.4" y="107.2" width="0.62" height="2.40" fill="#fff" fill-opacity="0.70"/>
<rect x="295.8" y="107.2" width="2.94" height="0.77" fill="#fff" fill-opacity="0.90"/>
<rect x="299.5" y="106.9" width="0.63" height="3.14" fill="#fff" fill-opacity="0.62"/>
<rect x="300.5" y="112.2" width="0.84" height="3.84" fill="#fff" fill-opacity="0.66"/>
<rect x="296.0" y="112.6" width="3.26" height="0.58" fill="#fff" fill-opacity="0.67"/>
<rect x="299.0" y="117.1" width="1.62" height="0.60" fill="#fff" fill-opacity="0.68"/>
<rect x="300.5" y="122.2" width="0.63" height="2.34" fill="#fff" fill-opacity="0.86"/>
<rect x="295.6" y="122.4" width="0.65" height="2.08" fill="#fff" fill-opacity="0.83"/>
<rect x="300.4" y="39.0" width="0.74" height="3.54" fill="#fff" fill-opacity="0.62"/>
<rect x="300.4" y="37.8" width="1.78" height="0.61" fill="#fff" fill-opacity="0.60"/>
<rect x="300.9" y="41.1" width="0.82" height="2.95" fill="#fff" fill-opacity="0.88"/>
<rect x="297.7" y="45.7" width="0.59" height="3.37" fill="#fff" fill-opacity="0.69"/>
<rect x="302.8" y="44.1" width="0.76" height="1.84" fill="#fff" fill-opacity="0.93"/>
<rect x="302.1" y="50.8" width="0.75" height="2.49" fill="#fff" fill-opacity="0.62"/>
<rect x="298.3" y="48.6" width="0.67" height="3.21" fill="#fff" fill-opacity="0.61"/>
<rect x="300.5" y="53.9" width="2.13" height="0.78" fill="#fff" fill-opacity="0.59"/>
<rect x="302.1" y="59.9" width="3.13" height="0.69" fill="#fff" fill-opacity="0.79"/>
<rect x="298.2" y="56.7" width="0.65" height="2.76" fill="#fff" fill-opacity="0.94"/>
<rect x="299.9" y="59.1" width="3.15" height="0.77" fill="#fff" fill-opacity="0.91"/>
<rect x="298.8" y="61.9" width="2.22" height="0.64" fill="#fff" fill-opacity="0.86"/>
<rect x="298.5" y="68.1" width="0.65" height="2.50" fill="#fff" fill-opacity="0.92"/>
<rect x="299.8" y="70.9" width="2.93" height="0.65" fill="#fff" fill-opacity="0.71"/>
<rect x="303.4" y="71.7" width="0.63" height="4.24" fill="#fff" fill-opacity="0.71"/>
<rect x="302.8" y="72.3" width="0.84" height="1.62" fill="#fff" fill-opacity="0.64"/>
<rect x="303.0" y="75.5" width="0.67" height="3.23" fill="#fff" fill-opacity="0.79"/>
<rect x="298.0" y="80.5" width="0.75" height="3.49" fill="#fff" fill-opacity="0.61"/>
<rect x="302.6" y="82.8" width="1.42" height="0.61" fill="#fff" fill-opacity="0.57"/>
<rect x="302.8" y="80.3" width="0.60" height="3.14" fill="#fff" fill-opacity="0.90"/>
<rect x="303.6" y="86.1" width="0.63" height="4.48" fill="#fff" fill-opacity="0.77"/>
<rect x="302.8" y="88.3" width="0.70" height="3.97" fill="#fff" fill-opacity="0.88"/>
<rect x="298.9" y="93.8" width="2.64" height="0.75" fill="#fff" fill-opacity="0.75"/>
<rect x="301.0" y="95.6" width="0.76" height="3.02" fill="#fff" fill-opacity="0.95"/>
<rect x="303.2" y="92.7" width="0.80" height="2.66" fill="#fff" fill-opacity="0.87"/>
<rect x="304.3" y="98.2" width="0.57" height="3.27" fill="#fff" fill-opacity="0.61"/>
<rect x="299.6" y="97.6" width="0.82" height="4.10" fill="#fff" fill-opacity="0.59"/>
<rect x="301.3" y="101.1" width="0.65" height="4.52" fill="#fff" fill-opacity="0.82"/>
<rect x="303.5" y="107.4" width="1.67" height="0.64" fill="#fff" fill-opacity="0.58"/>
<rect x="296.9" y="107.8" width="3.51" height="0.61" fill="#fff" fill-opacity="0.93"/>
<rect x="298.9" y="106.6" width="0.71" height="2.43" fill="#fff" fill-opacity="0.58"/>
<rect x="302.0" y="112.1" width="0.77" height="3.64" fill="#fff" fill-opacity="0.68"/>
<rect x="302.4" y="114.3" width="0.56" height="2.94" fill="#fff" fill-opacity="0.68"/>
<rect x="300.4" y="115.9" width="3.28" height="0.75" fill="#fff" fill-opacity="0.95"/>
<rect x="300.7" y="117.7" width="0.85" height="1.84" fill="#fff" fill-opacity="0.88"/>
<rect x="297.5" y="120.2" width="0.58" height="4.12" fill="#fff" fill-opacity="0.82"/>
<rect x="302.2" y="38.4" width="0.60" height="4.49" fill="#fff" fill-opacity="0.69"/>
<rect x="303.9" y="40.2" width="0.77" height="4.55" fill="#fff" fill-opacity="0.79"/>
<rect x="306.3" y="37.8" width="0.71" height="4.47" fill="#fff" fill-opacity="1.00"/>
<rect x="300.6" y="41.6" width="2.63" height="0.64" fill="#fff" fill-opacity="0.67"/>
<rect x="303.2" y="50.2" width="1.96" height="0.76" fill="#fff" fill-opacity="0.94"/>
<rect x="299.2" y="49.1" width="2.21" height="0.70" fill="#fff" fill-opacity="0.66"/>
<rect x="301.4" y="53.0" width="0.83" height="1.72" fill="#fff" fill-opacity="0.59"/>
<rect x="304.6" y="51.9" width="0.85" height="3.98" fill="#fff" fill-opacity="0.59"/>
<rect x="302.1" y="59.1" width="2.57" height="0.62" fill="#fff" fill-opacity="0.97"/>
<rect x="302.2" y="62.8" width="3.25" height="0.65" fill="#fff" fill-opacity="0.85"/>
<rect x="303.8" y="63.0" width="0.56" height="3.16" fill="#fff" fill-opacity="0.94"/>
<rect x="303.3" y="61.9" width="1.81" height="0.65" fill="#fff" fill-opacity="0.75"/>
<rect x="303.9" y="65.7" width="0.76" height="1.91" fill="#fff" fill-opacity="0.59"/>
<rect x="301.1" y="71.4" width="1.78" height="0.55" fill="#fff" fill-opacity="0.95"/>
<rect x="305.1" y="71.6" width="0.68" height="2.24" fill="#fff" fill-opacity="0.56"/>
<rect x="303.9" y="76.8" width="0.76" height="1.83" fill="#fff" fill-opacity="0.58"/>
<rect x="300.7" y="76.1" width="2.09" height="0.67" fill="#fff" fill-opacity="0.70"/>
<rect x="299.8" y="78.4" width="3.15" height="0.60" fill="#fff" fill-opacity="0.70"/>
<rect x="300.6" y="80.7" width="0.58" height="3.81" fill="#fff" fill-opacity="0.96"/>
<rect x="304.4" y="81.8" width="0.78" height="2.97" fill="#fff" fill-opacity="0.83"/>
<rect x="303.2" y="86.5" width="0.61" height="2.94" fill="#fff" fill-opacity="0.74"/>
<rect x="302.9" y="91.5" width="2.12" height="0.61" fill="#fff" fill-opacity="0.80"/>
<rect x="304.1" y="91.8" width="0.85" height="2.71" fill="#fff" fill-opacity="0.86"/>
<rect x="306.4" y="92.3" width="0.61" height="2.57" fill="#fff" fill-opacity="0.94"/>
<rect x="306.6" y="91.7" width="0.77" height="3.45" fill="#fff" fill-opacity="0.76"/>
<rect x="306.3" y="98.6" width="0.56" height="2.84" fill="#fff" fill-opacity="0.58"/>
<rect x="300.0" y="100.1" width="0.81" height="2.78" fill="#fff" fill-opacity="0.64"/>
<rect x="306.5" y="100.8" width="0.63" height="3.92" fill="#fff" fill-opacity="0.79"/>
<rect x="299.9" y="103.7" width="0.70" height="1.61" fill="#fff" fill-opacity="0.95"/>
<rect x="300.7" y="109.1" width="3.11" height="0.65" fill="#fff" fill-opacity="0.60"/>
<rect x="303.4" y="108.4" width="0.83" height="4.35" fill="#fff" fill-opacity="1.00"/>
<rect x="304.9" y="113.1" width="0.80" height="3.59" fill="#fff" fill-opacity="0.57"/>
<rect x="304.2" y="113.9" width="0.71" height="1.56" fill="#fff" fill-opacity="0.96"/>
<rect x="302.1" y="115.3" width="0.82" height="4.03" fill="#fff" fill-opacity="0.99"/>
<rect x="299.8" y="118.3" width="0.79" height="3.95" fill="#fff" fill-opacity="0.88"/>
<rect x="305.3" y="118.7" width="0.80" height="4.07" fill="#fff" fill-opacity="0.59"/>
<rect x="305.2" y="36.6" width="2.11" height="0.55" fill="#fff" fill-opacity="0.60"/>
<rect x="308.1" y="39.3" width="2.68" height="0.80" fill="#fff" fill-opacity="0.91"/>
<rect x="306.5" y="45.3" width="3.05" height="0.61" fill="#fff" fill-opacity="0.59"/>
<rect x="303.7" y="43.8" width="2.36" height="0.58" fill="#fff" fill-opacity="0.58"/>
<rect x="308.0" y="47.2" width="3.09" height="0.63" fill="#fff" fill-opacity="0.78"/>
<rect x="304.5" y="51.3" width="2.08" height="0.76" fill="#fff" fill-opacity="0.95"/>
<rect x="307.4" y="52.1" width="0.57" height="1.80" fill="#fff" fill-opacity="0.81"/>
<rect x="304.4" y="50.6" width="0.77" height="3.41" fill="#fff" fill-opacity="0.87"/>
<rect x="303.1" y="58.5" width="1.90" height="0.69" fill="#fff" fill-opacity="0.83"/>
<rect x="305.0" y="56.0" width="0.74" height="4.39" fill="#fff" fill-opacity="0.94"/>
<rect x="303.5" y="59.0" width="0.64" height="3.17" fill="#fff" fill-opacity="0.58"/>
<rect x="305.6" y="65.5" width="0.73" height="3.93" fill="#fff" fill-opacity="0.84"/>
<rect x="304.3" y="63.4" width="1.68" height="0.58" fill="#fff" fill-opacity="0.91"/>
<rect x="303.8" y="69.9" width="0.70" height="1.52" fill="#fff" fill-opacity="0.56"/>
<rect x="304.1" y="70.1" width="0.63" height="2.26" fill="#fff" fill-opacity="0.55"/>
<rect x="304.6" y="71.8" width="0.56" height="4.10" fill="#fff" fill-opacity="0.70"/>
<rect x="307.3" y="75.4" width="0.82" height="2.92" fill="#fff" fill-opacity="0.65"/>
<rect x="302.8" y="81.2" width="2.50" height="0.69" fill="#fff" fill-opacity="0.60"/>
<rect x="303.1" y="78.8" width="0.74" height="3.42" fill="#fff" fill-opacity="0.85"/>
<rect x="304.9" y="79.1" width="0.81" height="4.31" fill="#fff" fill-opacity="0.93"/>
<rect x="302.9" y="86.4" width="0.61" height="4.17" fill="#fff" fill-opacity="0.71"/>
<rect x="308.0" y="89.7" width="0.63" height="3.28" fill="#fff" fill-opacity="0.97"/>
<rect x="306.9" y="88.7" width="0.79" height="2.07" fill="#fff" fill-opacity="0.60"/>
<rect x="303.2" y="90.4" width="0.71" height="4.15" fill="#fff" fill-opacity="0.84"/>
<rect x="307.5" y="93.5" width="0.62" height="1.96" fill="#fff" fill-opacity="0.63"/>
<rect x="302.4" y="97.5" width="1.59" height="0.60" fill="#fff" fill-opacity="0.85"/>
<rect x="306.4" y="99.8" width="0.72" height="3.36" fill="#fff" fill-opacity="0.59"/>
<rect x="302.9" y="104.3" width="0.71" height="2.55" fill="#fff" fill-opacity="0.82"/>
<rect x="308.8" y="103.2" width="0.80" height="4.56" fill="#fff" fill-opacity="0.79"/>
<rect x="306.2" y="108.5" width="3.51" height="0.79" fill="#fff" fill-opacity="0.84"/>
<rect x="307.6" y="107.2" width="0.62" height="3.92" fill="#fff" fill-opacity="0.75"/>
<rect x="303.8" y="113.1" width="0.76" height="3.75" fill="#fff" fill-opacity="0.74"/>
<rect x="308.0" y="119.0" width="2.87" height="0.67" fill="#fff" fill-opacity="0.67"/>
<rect x="308.8" y="116.5" width="0.69" height="3.15" fill="#fff" fill-opacity="0.56"/>
<rect x="304.5" y="116.7" width="0.60" height="2.88" fill="#fff" fill-opacity="0.58"/>
<rect x="304.8" y="122.5" width="0.59" height="1.56" fill="#fff" fill-opacity="0.72"/>
<rect x="308.6" y="39.1" width="0.65" height="3.80" fill="#fff" fill-opacity="0.71"/>
<rect x="308.2" y="41.0" width="0.61" height="2.64" fill="#fff" fill-opacity="0.61"/>
<rect x="306.5" y="41.5" width="2.67" height="0.79" fill="#fff" fill-opacity="0.75"/>
<rect x="308.8" y="45.4" width="1.48" height="0.79" fill="#fff" fill-opacity="0.70"/>
<rect x="308.5" y="46.4" width="0.66" height="3.49" fill="#fff" fill-opacity="0.89"/>
<rect x="306.7" y="51.8" width="0.82" height="2.19" fill="#fff" fill-opacity="0.67"/>
<rect x="306.1" y="52.0" width="1.86" height="0.75" fill="#fff" fill-opacity="0.60"/>
<rect x="304.1" y="54.0" width="3.14" height="0.58" fill="#fff" fill-opacity="0.87"/>
<rect x="309.6" y="56.0" width="3.36" height="0.67" fill="#fff" fill-opacity="0.76"/>
<rect x="306.6" y="55.3" width="0.60" height="4.21" fill="#fff" fill-opacity="0.57"/>
<rect x="308.7" y="63.8" width="0.69" height="1.83" fill="#fff" fill-opacity="0.77"/>
<rect x="305.6" y="67.2" width="2.74" height="0.77" fill="#fff" fill-opacity="0.78"/>
<rect x="311.4" y="66.6" width="0.60" height="2.24" fill="#fff" fill-opacity="0.94"/>
<rect x="305.7" y="68.7" width="0.69" height="1.94" fill="#fff" fill-opacity="0.76"/>
<rect x="309.6" y="70.1" width="0.83" height="4.36" fill="#fff" fill-opacity="0.93"/>
<rect x="311.6" y="69.6" width="0.63" height="3.81" fill="#fff" fill-opacity="0.75"/>
<rect x="310.9" y="73.0" width="0.82" height="2.90" fill="#fff" fill-opacity="0.99"/>
<rect x="305.5" y="77.8" width="0.61" height="2.37" fill="#fff" fill-opacity="0.90"/>
<rect x="311.5" y="77.0" width="0.78" height="2.81" fill="#fff" fill-opacity="0.59"/>
<rect x="310.7" y="82.0" width="1.50" height="0.57" fill="#fff" fill-opacity="0.65"/>
<rect x="304.2" y="85.6" width="2.98" height="0.56" fill="#fff" fill-opacity="0.71"/>
<rect x="308.3" y="88.1" width="0.68" height="2.52" fill="#fff" fill-opacity="0.81"/>
<rect x="310.6" y="91.7" width="0.57" height="2.32" fill="#fff" fill-opacity="0.60"/>
<rect x="308.7" y="96.8" width="1.67" height="0.75" fill="#fff" fill-opacity="0.94"/>
<rect x="309.5" y="95.9" width="1.66" height="0.60" fill="#fff" fill-opacity="0.82"/>
<rect x="305.7" y="98.9" width="0.55" height="1.53" fill="#fff" fill-opacity="0.94"/>
<rect x="311.5" y="97.7" width="0.58" height="3.96" fill="#fff" fill-opacity="0.94"/>
<rect x="310.9" y="102.5" width="0.73" height="3.40" fill="#fff" fill-opacity="0.55"/>
<rect x="310.1" y="105.4" width="0.75" height="1.75" fill="#fff" fill-opacity="0.65"/>
<rect x="304.8" y="106.5" width="2.19" height="0.79" fill="#fff" fill-opacity="0.80"/>
<rect x="308.8" y="107.9" width="0.66" height="2.85" fill="#fff" fill-opacity="0.93"/>
<rect x="308.7" y="115.6" width="0.72" height="2.50" fill="#fff" fill-opacity="0.63"/>
<rect x="308.1" y="115.7" width="0.64" height="3.36" fill="#fff" fill-opacity="0.78"/>
<rect x="310.5" y="116.6" width="0.63" height="3.08" fill="#fff" fill-opacity="0.68"/>
<rect x="307.7" y="118.6" width="2.18" height="0.61" fill="#fff" fill-opacity="0.77"/>
<rect x="310.1" y="123.8" width="1.56" height="0.71" fill="#fff" fill-opacity="0.66"/>
<rect x="306.6" y="39.9" width="2.37" height="0.72" fill="#fff" fill-opacity="0.70"/>
<rect x="307.3" y="39.1" width="2.69" height="0.58" fill="#fff" fill-opacity="0.86"/>
<rect x="308.7" y="38.9" width="0.72" height="4.37" fill="#fff" fill-opacity="0.84"/>
<rect x="311.1" y="46.5" width="0.63" height="2.94" fill="#fff" fill-opacity="0.78"/>
<rect x="313.7" y="45.8" width="0.61" height="3.43" fill="#fff" fill-opacity="0.71"/>
<rect x="310.3" y="49.6" width="1.59" height="0.56" fill="#fff" fill-opacity="0.89"/>
<rect x="312.1" y="51.7" width="0.56" height="2.90" fill="#fff" fill-opacity="0.78"/>
<rect x="312.9" y="54.0" width="0.82" height="3.19" fill="#fff" fill-opacity="0.61"/>
<rect x="307.3" y="58.4" width="2.82" height="0.75" fill="#fff" fill-opacity="0.94"/>
<rect x="307.3" y="59.2" width="1.72" height="0.77" fill="#fff" fill-opacity="0.70"/>
<rect x="312.0" y="57.2" width="0.84" height="3.41" fill="#fff" fill-opacity="0.80"/>
<rect x="313.3" y="61.0" width="0.65" height="1.96" fill="#fff" fill-opacity="0.63"/>
<rect x="310.4" y="62.1" width="0.82" height="3.88" fill="#fff" fill-opacity="0.84"/>
<rect x="307.7" y="71.2" width="0.70" height="1.75" fill="#fff" fill-opacity="0.97"/>
<rect x="310.7" y="69.4" width="3.38" height="0.67" fill="#fff" fill-opacity="0.79"/>
<rect x="308.8" y="75.2" width="2.01" height="0.66" fill="#fff" fill-opacity="0.76"/>
<rect x="312.1" y="74.2" width="0.75" height="1.71" fill="#fff" fill-opacity="0.77"/>
<rect x="309.1" y="81.7" width="0.64" height="1.77" fill="#fff" fill-opacity="0.90"/>
<rect x="309.4" y="83.9" width="2.95" height="0.71" fill="#fff" fill-opacity="0.57"/>
<rect x="310.5" y="84.4" width="0.76" height="1.90" fill="#fff" fill-opacity="0.63"/>
<rect x="309.3" y="87.5" width="0.76" height="3.03" fill="#fff" fill-opacity="0.78"/>
<rect x="309.9" y="87.2" width="0.56" height="4.59" fill="#fff" fill-opacity="0.71"/>
<rect x="313.5" y="90.6" width="0.63" height="3.99" fill="#fff" fill-opacity="0.93"/>
<rect x="310.4" y="94.4" width="3.24" height="0.69" fill="#fff" fill-opacity="0.67"/>
<rect x="312.5" y="97.9" width="0.66" height="1.74" fill="#fff" fill-opacity="0.73"/>
<rect x="313.2" y="99.3" width="0.81" height="1.72" fill="#fff" fill-opacity="0.80"/>
<rect x="309.7" y="101.5" width="0.63" height="2.19" fill="#fff" fill-opacity="0.77"/>
<rect x="310.4" y="102.3" width="3.53" height="0.62" fill="#fff" fill-opacity="0.96"/>
<rect x="310.8" y="101.2" width="0.70" height="4.47" fill="#fff" fill-opacity="0.58"/>
<rect x="312.5" y="105.6" width="0.57" height="4.12" fill="#fff" fill-opacity="0.97"/>
<rect x="312.3" y="107.8" width="2.26" height="0.66" fill="#fff" fill-opacity="0.84"/>
<rect x="310.7" y="113.4" width="2.12" height="0.55" fill="#fff" fill-opacity="0.95"/>
<rect x="312.6" y="114.8" width="0.57" height="4.29" fill="#fff" fill-opacity="0.58"/>
<rect x="308.7" y="117.9" width="2.80" height="0.57" fill="#fff" fill-opacity="0.64"/>
<rect x="311.0" y="120.4" width="0.84" height="4.06" fill="#fff" fill-opacity="0.89"/>
<rect x="311.4" y="123.7" width="3.21" height="0.75" fill="#fff" fill-opacity="0.80"/>
<rect x="314.0" y="36.9" width="0.65" height="4.16" fill="#fff" fill-opacity="0.70"/>
<rect x="314.6" y="38.5" width="1.54" height="0.63" fill="#fff" fill-opacity="0.58"/>
<rect x="310.2" y="44.2" width="0.81" height="3.15" fill="#fff" fill-opacity="0.72"/>
<rect x="314.1" y="43.2" width="0.63" height="3.13" fill="#fff" fill-opacity="0.98"/>
<rect x="312.9" y="43.7" width="0.79" height="2.84" fill="#fff" fill-opacity="0.78"/>
<rect x="310.2" y="51.2" width="0.56" height="3.51" fill="#fff" fill-opacity="0.95"/>
<rect x="310.7" y="49.4" width="0.68" height="2.80" fill="#fff" fill-opacity="0.89"/>
<rect x="312.5" y="54.1" width="0.61" height="1.91" fill="#fff" fill-opacity="0.98"/>
<rect x="312.4" y="56.0" width="2.89" height="0.64" fill="#fff" fill-opacity="0.57"/>
<rect x="316.1" y="57.2" width="0.71" height="2.37" fill="#fff" fill-opacity="0.69"/>
<rect x="313.4" y="61.3" width="2.40" height="0.69" fill="#fff" fill-opacity="0.68"/>
<rect x="314.7" y="64.7" width="0.58" height="1.95" fill="#fff" fill-opacity="0.59"/>
<rect x="309.6" y="64.7" width="3.40" height="0.61" fill="#fff" fill-opacity="0.70"/>
<rect x="311.4" y="66.3" width="0.72" height="2.28" fill="#fff" fill-opacity="0.86"/>
<rect x="315.2" y="71.8" width="0.75" height="2.87" fill="#fff" fill-opacity="0.82"/>
<rect x="309.3" y="73.2" width="2.81" height="0.57" fill="#fff" fill-opacity="0.72"/>
<rect x="315.0" y="78.2" width="0.70" height="2.28" fill="#fff" fill-opacity="0.72"/>
<rect x="309.7" y="76.4" width="3.50" height="0.79" fill="#fff" fill-opacity="0.78"/>
<rect x="315.2" y="84.4" width="1.69" height="0.79" fill="#fff" fill-opacity="0.56"/>
<rect x="315.7" y="84.0" width="0.68" height="1.95" fill="#fff" fill-opacity="0.75"/>
<rect x="313.4" y="83.0" width="0.72" height="4.22" fill="#fff" fill-opacity="0.94"/>
<rect x="311.7" y="87.9" width="0.61" height="3.51" fill="#fff" fill-opacity="0.92"/>
<rect x="313.5" y="88.3" width="0.71" height="4.04" fill="#fff" fill-opacity="0.77"/>
<rect x="311.1" y="90.1" width="0.62" height="3.47" fill="#fff" fill-opacity="0.91"/>
<rect x="309.4" y="93.2" width="1.65" height="0.67" fill="#fff" fill-opacity="0.77"/>
<rect x="316.2" y="97.3" width="0.70" height="1.63" fill="#fff" fill-opacity="0.74"/>
<rect x="315.8" y="99.7" width="0.61" height="4.39" fill="#fff" fill-opacity="0.68"/>
<rect x="315.5" y="102.1" width="0.61" height="1.60" fill="#fff" fill-opacity="0.80"/>
<rect x="314.8" y="102.9" width="0.56" height="2.01" fill="#fff" fill-opacity="0.56"/>
<rect x="313.3" y="109.1" width="2.55" height="0.55" fill="#fff" fill-opacity="0.85"/>
<rect x="315.0" y="110.7" width="3.24" height="0.67" fill="#fff" fill-opacity="0.57"/>
<rect x="311.2" y="111.0" width="0.62" height="3.68" fill="#fff" fill-opacity="0.81"/>
<rect x="310.8" y="116.0" width="0.84" height="2.42" fill="#fff" fill-opacity="0.87"/>
<rect x="313.2" y="117.3" width="3.08" height="0.70" fill="#fff" fill-opacity="0.92"/>
<rect x="310.8" y="123.2" width="2.14" height="0.76" fill="#fff" fill-opacity="0.98"/>
<rect x="313.6" y="123.8" width="2.27" height="0.75" fill="#fff" fill-opacity="0.75"/>
<rect x="316.3" y="37.8" width="1.43" height="0.67" fill="#fff" fill-opacity="0.56"/>
<rect x="312.9" y="41.6" width="0.62" height="1.92" fill="#fff" fill-opacity="0.95"/>
<rect x="317.3" y="41.7" width="0.72" height="4.44" fill="#fff" fill-opacity="0.82"/>
<rect x="315.6" y="44.5" width="0.76" height="1.85" fill="#fff" fill-opacity="0.74"/>
<rect x="316.2" y="50.2" width="2.18" height="0.57" fill="#fff" fill-opacity="0.79"/>
<rect x="312.2" y="49.9" width="1.80" height="0.74" fill="#fff" fill-opacity="0.94"/>
<rect x="317.0" y="52.0" width="2.14" height="0.68" fill="#fff" fill-opacity="0.63"/>
<rect x="317.2" y="53.2" width="0.67" height="2.80" fill="#fff" fill-opacity="0.94"/>
<rect x="312.6" y="56.9" width="2.86" height="0.67" fill="#fff" fill-opacity="0.71"/>
<rect x="312.2" y="61.9" width="0.84" height="2.14" fill="#fff" fill-opacity="0.80"/>
<rect x="312.6" y="59.4" width="0.71" height="1.63" fill="#fff" fill-opacity="0.93"/>
<rect x="313.9" y="63.3" width="0.82" height="2.88" fill="#fff" fill-opacity="0.69"/>
<rect x="313.7" y="66.9" width="0.74" height="1.78" fill="#fff" fill-opacity="0.78"/>
<rect x="314.6" y="67.9" width="3.40" height="0.70" fill="#fff" fill-opacity="0.83"/>
<rect x="313.0" y="69.5" width="1.54" height="0.65" fill="#fff" fill-opacity="0.91"/>
<rect x="312.9" y="73.9" width="3.04" height="0.74" fill="#fff" fill-opacity="0.80"/>
<rect x="314.0" y="75.9" width="0.71" height="3.57" fill="#fff" fill-opacity="0.76"/>
<rect x="313.2" y="79.4" width="0.80" height="4.55" fill="#fff" fill-opacity="0.69"/>
<rect x="314.7" y="84.1" width="0.61" height="1.61" fill="#fff" fill-opacity="0.98"/>
<rect x="316.9" y="81.6" width="1.67" height="0.64" fill="#fff" fill-opacity="0.55"/>
<rect x="312.7" y="84.2" width="0.70" height="4.49" fill="#fff" fill-opacity="0.88"/>
<rect x="317.0" y="86.5" width="2.64" height="0.68" fill="#fff" fill-opacity="0.95"/>
<rect x="313.3" y="89.1" width="0.73" height="2.51" fill="#fff" fill-opacity="0.64"/>
<rect x="316.1" y="94.1" width="3.26" height="0.68" fill="#fff" fill-opacity="0.59"/>
<rect x="315.3" y="94.3" width="2.99" height="0.70" fill="#fff" fill-opacity="0.73"/>
<rect x="312.1" y="97.2" width="2.79" height="0.69" fill="#fff" fill-opacity="0.56"/>
<rect x="317.0" y="99.3" width="0.77" height="1.73" fill="#fff" fill-opacity="0.76"/>
<rect x="315.7" y="101.0" width="0.61" height="2.22" fill="#fff" fill-opacity="0.67"/>
<rect x="317.6" y="104.9" width="1.99" height="0.69" fill="#fff" fill-opacity="0.88"/>
<rect x="312.2" y="110.1" width="0.71" height="3.03" fill="#fff" fill-opacity="0.60"/>
<rect x="316.3" y="109.3" width="1.56" height="0.75" fill="#fff" fill-opacity="0.83"/>
<rect x="316.9" y="111.9" width="3.34" height="0.57" fill="#fff" fill-opacity="0.94"/>
<rect x="317.0" y="113.8" width="2.42" height="0.78" fill="#fff" fill-opacity="0.86"/>
<rect x="316.5" y="121.4" width="3.02" height="0.72" fill="#fff" fill-opacity="0.81"/>
<rect x="314.9" y="118.8" width="0.63" height="4.12" fill="#fff" fill-opacity="0.65"/>
<rect x="317.0" y="123.8" width="2.66" height="0.72" fill="#fff" fill-opacity="0.78"/>
<rect x="313.8" y="37.2" width="2.43" height="0.57" fill="#fff" fill-opacity="0.64"/>
<rect x="316.3" y="40.4" width="0.79" height="4.19" fill="#fff" fill-opacity="0.91"/>
<rect x="316.3" y="44.1" width="0.84" height="3.19" fill="#fff" fill-opacity="0.75"/>
<rect x="319.3" y="40.5" width="0.58" height="4.05" fill="#fff" fill-opacity="0.67"/>
<rect x="315.2" y="50.4" width="2.96" height="0.63" fill="#fff" fill-opacity="0.64"/>
<rect x="317.2" y="46.8" width="2.68" height="0.72" fill="#fff" fill-opacity="0.90"/>
<rect x="316.9" y="49.0" width="0.72" height="1.92" fill="#fff" fill-opacity="0.88"/>
<rect x="316.3" y="53.8" width="0.68" height="1.91" fill="#fff" fill-opacity="0.57"/>
<rect x="320.0" y="54.5" width="2.09" height="0.69" fill="#fff" fill-opacity="0.91"/>
<rect x="321.5" y="58.4" width="0.63" height="4.46" fill="#fff" fill-opacity="0.99"/>
<rect x="316.7" y="59.9" width="0.81" height="3.64" fill="#fff" fill-opacity="0.84"/>
<rect x="314.6" y="67.7" width="3.27" height="0.58" fill="#fff" fill-opacity="0.78"/>
<rect x="318.3" y="68.7" width="1.54" height="0.67" fill="#fff" fill-opacity="0.85"/>
<rect x="316.4" y="68.6" width="0.71" height="3.32" fill="#fff" fill-opacity="0.76"/>
<rect x="320.8" y="68.4" width="0.58" height="4.13" fill="#fff" fill-opacity="0.63"/>
<rect x="320.9" y="69.6" width="0.81" height="4.53" fill="#fff" fill-opacity="0.96"/>
<rect x="321.4" y="74.8" width="0.70" height="1.55" fill="#fff" fill-opacity="0.66"/>
<rect x="315.9" y="78.8" width="1.67" height="0.63" fill="#fff" fill-opacity="0.62"/>
<rect x="315.2" y="78.4" width="0.81" height="1.63" fill="#fff" fill-opacity="0.91"/>
<rect x="320.1" y="85.7" width="0.80" height="1.75" fill="#fff" fill-opacity="0.68"/>
<rect x="314.9" y="88.9" width="0.78" height="1.65" fill="#fff" fill-opacity="0.96"/>
<rect x="315.2" y="89.0" width="0.75" height="2.22" fill="#fff" fill-opacity="0.85"/>
<rect x="316.8" y="89.2" width="2.92" height="0.71" fill="#fff" fill-opacity="0.83"/>
<rect x="314.0" y="96.3" width="2.70" height="0.67" fill="#fff" fill-opacity="0.78"/>
<rect x="319.8" y="95.9" width="0.61" height="1.52" fill="#fff" fill-opacity="0.78"/>
<rect x="317.3" y="101.0" width="2.52" height="0.70" fill="#fff" fill-opacity="0.64"/>
<rect x="318.5" y="99.5" width="0.81" height="3.10" fill="#fff" fill-opacity="0.86"/>
<rect x="320.0" y="103.7" width="0.64" height="2.60" fill="#fff" fill-opacity="0.67"/>
<rect x="317.2" y="104.4" width="2.22" height="0.72" fill="#fff" fill-opacity="0.88"/>
<rect x="321.0" y="104.2" width="0.66" height="4.22" fill="#fff" fill-opacity="0.98"/>
<rect x="320.1" y="108.5" width="0.67" height="2.59" fill="#fff" fill-opacity="0.91"/>
<rect x="316.6" y="114.8" width="3.09" height="0.59" fill="#fff" fill-opacity="0.96"/>
<rect x="317.2" y="111.1" width="0.60" height="2.98" fill="#fff" fill-opacity="0.70"/>
<rect x="315.5" y="118.2" width="0.76" height="2.52" fill="#fff" fill-opacity="0.66"/>
<rect x="314.1" y="122.8" width="2.05" height="0.62" fill="#fff" fill-opacity="0.95"/>
<rect x="318.4" y="120.6" width="2.61" height="0.56" fill="#fff" fill-opacity="0.84"/>
<rect x="318.0" y="37.0" width="2.70" height="0.57" fill="#fff" fill-opacity="0.62"/>
<rect x="323.2" y="41.6" width="1.80" height="0.61" fill="#fff" fill-opacity="0.89"/>
<rect x="317.4" y="40.9" width="0.60" height="4.35" fill="#fff" fill-opacity="0.63"/>
<rect x="322.0" y="43.4" width="1.71" height="0.65" fill="#fff" fill-opacity="0.62"/>
<rect x="321.4" y="44.5" width="3.16" height="0.63" fill="#fff" fill-opacity="0.79"/>
<rect x="316.2" y="47.0" width="3.08" height="0.60" fill="#fff" fill-opacity="0.78"/>
<rect x="318.5" y="50.1" width="1.74" height="0.73" fill="#fff" fill-opacity="0.87"/>
<rect x="317.3" y="52.9" width="0.77" height="3.62" fill="#fff" fill-opacity="0.89"/>
<rect x="318.5" y="52.2" width="0.55" height="4.10" fill="#fff" fill-opacity="0.86"/>
<rect x="323.2" y="57.1" width="0.83" height="3.51" fill="#fff" fill-opacity="0.84"/>
<rect x="320.6" y="62.7" width="0.71" height="2.78" fill="#fff" fill-opacity="0.56"/>
<rect x="319.3" y="61.8" width="0.77" height="4.25" fill="#fff" fill-opacity="0.69"/>
<rect x="320.2" y="67.5" width="0.77" height="3.92" fill="#fff" fill-opacity="0.78"/>
<rect x="318.6" y="67.0" width="2.84" height="0.64" fill="#fff" fill-opacity="0.82"/>
<rect x="317.8" y="70.6" width="0.75" height="3.84" fill="#fff" fill-opacity="0.95"/>
<rect x="321.0" y="74.5" width="0.72" height="3.35" fill="#fff" fill-opacity="1.00"/>
<rect x="317.3" y="73.8" width="2.87" height="0.61" fill="#fff" fill-opacity="0.88"/>
<rect x="320.5" y="79.2" width="0.58" height="3.90" fill="#fff" fill-opacity="0.96"/>
<rect x="317.2" y="80.8" width="0.68" height="3.57" fill="#fff" fill-opacity="0.58"/>
<rect x="323.1" y="79.2" width="0.59" height="4.27" fill="#fff" fill-opacity="0.91"/>
<rect x="323.5" y="84.2" width="0.62" height="2.80" fill="#fff" fill-opacity="0.62"/>
<rect x="321.9" y="90.3" width="0.68" height="3.54" fill="#fff" fill-opacity="0.98"/>
<rect x="317.0" y="90.1" width="0.79" height="1.85" fill="#fff" fill-opacity="0.61"/>
<rect x="319.2" y="92.4" width="0.58" height="3.60" fill="#fff" fill-opacity="0.56"/>
<rect x="319.8" y="92.8" width="0.85" height="1.65" fill="#fff" fill-opacity="0.72"/>
<rect x="318.2" y="95.0" width="0.78" height="1.85" fill="#fff" fill-opacity="0.98"/>
<rect x="319.7" y="100.0" width="2.73" height="0.61" fill="#fff" fill-opacity="0.87"/>
<rect x="320.1" y="102.5" width="0.58" height="2.80" fill="#fff" fill-opacity="0.80"/>
<rect x="323.8" y="103.6" width="0.79" height="3.78" fill="#fff" fill-opacity="0.89"/>
<rect x="319.7" y="109.0" width="0.55" height="2.10" fill="#fff" fill-opacity="0.83"/>
<rect x="316.9" y="109.8" width="3.33" height="0.57" fill="#fff" fill-opacity="0.56"/>
<rect x="323.5" y="115.1" width="0.83" height="2.89" fill="#fff" fill-opacity="0.93"/>
<rect x="321.7" y="112.5" width="3.11" height="0.59" fill="#fff" fill-opacity="0.84"/>
<rect x="317.7" y="116.9" width="0.60" height="3.26" fill="#fff" fill-opacity="0.86"/>
<rect x="322.6" y="118.8" width="2.88" height="0.66" fill="#fff" fill-opacity="0.98"/>
<rect x="320.0" y="122.0" width="0.63" height="2.04" fill="#fff" fill-opacity="0.58"/>
<rect x="324.4" y="36.6" width="3.38" height="0.77" fill="#fff" fill-opacity="0.80"/>
<rect x="324.4" y="37.9" width="0.64" height="4.07" fill="#fff" fill-opacity="0.80"/>
<rect x="319.8" y="41.4" width="0.71" height="4.55" fill="#fff" fill-opacity="0.74"/>
<rect x="325.4" y="43.8" width="2.56" height="0.69" fill="#fff" fill-opacity="0.98"/>
<rect x="320.8" y="47.8" width="0.83" height="3.43" fill="#fff" fill-opacity="0.89"/>
<rect x="324.4" y="49.3" width="0.57" height="2.06" fill="#fff" fill-opacity="0.76"/>
<rect x="326.3" y="50.0" width="0.57" height="3.38" fill="#fff" fill-opacity="0.75"/>
<rect x="321.1" y="51.1" width="0.55" height="3.72" fill="#fff" fill-opacity="0.97"/>
<rect x="323.5" y="55.7" width="0.66" height="3.12" fill="#fff" fill-opacity="0.56"/>
<rect x="321.8" y="61.2" width="0.79" height="3.96" fill="#fff" fill-opacity="0.93"/>
<rect x="322.3" y="62.0" width="1.89" height="0.55" fill="#fff" fill-opacity="0.60"/>
<rect x="322.1" y="64.0" width="2.29" height="0.67" fill="#fff" fill-opacity="0.97"/>
<rect x="320.2" y="68.0" width="0.81" height="1.63" fill="#fff" fill-opacity="0.63"/>
<rect x="320.2" y="69.0" width="1.99" height="0.75" fill="#fff" fill-opacity="0.61"/>
<rect x="321.8" y="72.9" width="0.64" height="4.13" fill="#fff" fill-opacity="0.66"/>
<rect x="319.0" y="75.4" width="3.17" height="0.56" fill="#fff" fill-opacity="0.99"/>
<rect x="322.8" y="73.3" width="0.77" height="3.28" fill="#fff" fill-opacity="0.66"/>
<rect x="320.4" y="76.4" width="0.78" height="2.96" fill="#fff" fill-opacity="0.97"/>
<rect x="326.2" y="83.3" width="0.61" height="3.45" fill="#fff" fill-opacity="0.66"/>
<rect x="322.9" y="84.0" width="2.09" height="0.72" fill="#fff" fill-opacity="0.79"/>
<rect x="326.0" y="82.2" width="0.77" height="2.84" fill="#fff" fill-opacity="0.61"/>
<rect x="324.3" y="89.9" width="2.71" height="0.79" fill="#fff" fill-opacity="0.81"/>
<rect x="325.1" y="88.2" width="0.57" height="4.36" fill="#fff" fill-opacity="0.96"/>
<rect x="324.8" y="94.7" width="3.04" height="0.70" fill="#fff" fill-opacity="0.82"/>
<rect x="320.5" y="93.2" width="1.67" height="0.69" fill="#fff" fill-opacity="0.75"/>
<rect x="320.2" y="96.9" width="3.05" height="0.75" fill="#fff" fill-opacity="0.83"/>
<rect x="322.5" y="98.9" width="0.78" height="4.24" fill="#fff" fill-opacity="0.71"/>
<rect x="321.5" y="103.2" width="0.76" height="3.91" fill="#fff" fill-opacity="0.55"/>
<rect x="320.6" y="109.2" width="3.07" height="0.76" fill="#fff" fill-opacity="0.69"/>
<rect x="320.5" y="109.9" width="0.66" height="3.14" fill="#fff" fill-opacity="0.67"/>
<rect x="323.1" y="107.8" width="0.77" height="3.66" fill="#fff" fill-opacity="0.83"/>
<rect x="322.3" y="114.3" width="0.56" height="3.22" fill="#fff" fill-opacity="0.61"/>
<rect x="323.2" y="111.8" width="0.56" height="4.48" fill="#fff" fill-opacity="0.55"/>
<rect x="325.6" y="113.4" width="0.71" height="4.11" fill="#fff" fill-opacity="0.78"/>
<rect x="323.4" y="123.5" width="1.66" height="0.76" fill="#fff" fill-opacity="0.96"/>
<rect x="320.5" y="123.9" width="3.06" height="0.65" fill="#fff" fill-opacity="0.98"/>
<rect x="325.6" y="37.9" width="0.72" height="3.73" fill="#fff" fill-opacity="0.79"/>
<rect x="323.2" y="40.6" width="2.90" height="0.78" fill="#fff" fill-opacity="0.72"/>
<rect x="324.5" y="41.7" width="0.63" height="2.39" fill="#fff" fill-opacity="0.93"/>
<rect x="324.7" y="44.3" width="0.70" height="3.76" fill="#fff" fill-opacity="0.99"/>
<rect x="324.9" y="42.1" width="0.58" height="4.54" fill="#fff" fill-opacity="0.81"/>
<rect x="326.0" y="48.0" width="0.65" height="3.51" fill="#fff" fill-opacity="0.66"/>
<rect x="323.1" y="50.8" width="0.76" height="3.11" fill="#fff" fill-opacity="0.80"/>
<rect x="327.1" y="53.8" width="0.70" height="3.85" fill="#fff" fill-opacity="0.85"/>
<rect x="327.3" y="56.1" width="2.83" height="0.55" fill="#fff" fill-opacity="0.65"/>
<rect x="327.7" y="58.3" width="0.66" height="2.21" fill="#fff" fill-opacity="0.77"/>
<rect x="326.7" y="61.9" width="0.83" height="2.38" fill="#fff" fill-opacity="0.67"/>
<rect x="323.9" y="64.3" width="0.84" height="1.90" fill="#fff" fill-opacity="0.98"/>
<rect x="323.5" y="62.7" width="0.75" height="4.25" fill="#fff" fill-opacity="0.68"/>
<rect x="322.5" y="64.9" width="0.59" height="2.84" fill="#fff" fill-opacity="0.69"/>
<rect x="323.6" y="73.2" width="2.33" height="0.71" fill="#fff" fill-opacity="0.99"/>
<rect x="322.4" y="74.9" width="1.71" height="0.59" fill="#fff" fill-opacity="0.95"/>
<rect x="327.1" y="78.0" width="2.76" height="0.56" fill="#fff" fill-opacity="0.58"/>
<rect x="327.0" y="79.0" width="0.77" height="4.59" fill="#fff" fill-opacity="0.55"/>
<rect x="326.2" y="79.5" width="0.84" height="2.63" fill="#fff" fill-opacity="0.92"/>
<rect x="323.5" y="85.7" width="0.64" height="3.75" fill="#fff" fill-opacity="0.75"/>
<rect x="327.9" y="86.1" width="2.33" height="0.75" fill="#fff" fill-opacity="0.73"/>
<rect x="327.3" y="90.4" width="3.42" height="0.79" fill="#fff" fill-opacity="0.92"/>
<rect x="325.6" y="90.0" width="0.66" height="1.50" fill="#fff" fill-opacity="0.79"/>
<rect x="328.0" y="92.3" width="2.19" height="0.75" fill="#fff" fill-opacity="0.56"/>
<rect x="326.5" y="95.7" width="0.80" height="3.86" fill="#fff" fill-opacity="0.59"/>
<rect x="324.4" y="99.0" width="2.45" height="0.67" fill="#fff" fill-opacity="0.77"/>
<rect x="327.0" y="101.1" width="0.66" height="3.59" fill="#fff" fill-opacity="0.90"/>
<rect x="323.8" y="106.2" width="2.24" height="0.64" fill="#fff" fill-opacity="0.90"/>
<rect x="324.9" y="106.1" width="0.83" height="1.70" fill="#fff" fill-opacity="0.80"/>
<rect x="326.9" y="108.8" width="2.98" height="0.74" fill="#fff" fill-opacity="0.88"/>
<rect x="323.7" y="108.2" width="2.99" height="0.60" fill="#fff" fill-opacity="0.94"/>
<rect x="325.4" y="111.3" width="0.69" height="4.54" fill="#fff" fill-opacity="0.77"/>
<rect x="325.1" y="118.9" width="3.10" height="0.65" fill="#fff" fill-opacity="0.63"/>
<rect x="325.0" y="118.5" width="2.89" height="0.64" fill="#fff" fill-opacity="0.69"/>
<rect x="327.4" y="120.0" width="0.63" height="1.51" fill="#fff" fill-opacity="1.00"/>
<rect x="328.1" y="121.8" width="0.82" height="2.70" fill="#fff" fill-opacity="0.92"/>
<rect x="330.5" y="36.7" width="2.20" height="0.65" fill="#fff" fill-opacity="0.92"/>
<rect x="327.0" y="36.9" width="0.57" height="4.57" fill="#fff" fill-opacity="0.93"/>
<rect x="329.8" y="41.0" width="0.78" height="4.21" fill="#fff" fill-opacity="0.68"/>
<rect x="327.0" y="43.4" width="0.81" height="3.49" fill="#fff" fill-opacity="0.66"/>
<rect x="327.5" y="46.9" width="0.66" height="3.28" fill="#fff" fill-opacity="0.55"/>
<rect x="325.7" y="49.0" width="0.77" height="2.62" fill="#fff" fill-opacity="0.67"/>
<rect x="329.5" y="52.6" width="0.80" height="3.21" fill="#fff" fill-opacity="0.56"/>
<rect x="328.5" y="53.9" width="0.55" height="4.50" fill="#fff" fill-opacity="0.96"/>
<rect x="327.6" y="56.4" width="2.71" height="0.55" fill="#fff" fill-opacity="0.95"/>
<rect x="328.8" y="57.1" width="0.59" height="4.12" fill="#fff" fill-opacity="0.92"/>
<rect x="326.6" y="59.0" width="0.63" height="3.14" fill="#fff" fill-opacity="0.60"/>
<rect x="330.9" y="61.1" width="0.74" height="2.60" fill="#fff" fill-opacity="0.72"/>
<rect x="329.0" y="63.8" width="0.77" height="1.91" fill="#fff" fill-opacity="0.81"/>
<rect x="324.7" y="69.7" width="0.76" height="2.00" fill="#fff" fill-opacity="0.97"/>
<rect x="327.2" y="66.8" width="0.81" height="4.32" fill="#fff" fill-opacity="0.71"/>
<rect x="329.6" y="73.9" width="0.75" height="3.04" fill="#fff" fill-opacity="0.78"/>
<rect x="327.1" y="76.9" width="0.75" height="4.49" fill="#fff" fill-opacity="0.73"/>
<rect x="326.8" y="76.9" width="0.66" height="3.95" fill="#fff" fill-opacity="0.64"/>
<rect x="325.7" y="80.7" width="0.78" height="1.86" fill="#fff" fill-opacity="0.81"/>
<rect x="327.8" y="81.0" width="0.62" height="2.21" fill="#fff" fill-opacity="0.85"/>
<rect x="325.3" y="85.2" width="3.14" height="0.65" fill="#fff" fill-opacity="0.94"/>
<rect x="327.6" y="85.7" width="0.58" height="2.72" fill="#fff" fill-opacity="0.98"/>
<rect x="325.8" y="92.1" width="0.57" height="3.64" fill="#fff" fill-opacity="0.77"/>
<rect x="327.3" y="95.7" width="1.98" height="0.61" fill="#fff" fill-opacity="0.88"/>
<rect x="327.6" y="93.0" width="2.49" height="0.64" fill="#fff" fill-opacity="0.87"/>
<rect x="324.5" y="98.9" width="1.62" height="0.72" fill="#fff" fill-opacity="0.60"/>
<rect x="327.6" y="102.0" width="0.81" height="2.50" fill="#fff" fill-opacity="0.99"/>
<rect x="328.1" y="102.3" width="0.76" height="4.04" fill="#fff" fill-opacity="0.92"/>
<rect x="326.2" y="104.2" width="0.55" height="4.02" fill="#fff" fill-opacity="0.81"/>
<rect x="326.3" y="105.9" width="3.03" height="0.73" fill="#fff" fill-opacity="0.80"/>
<rect x="328.7" y="112.2" width="0.60" height="3.47" fill="#fff" fill-opacity="0.70"/>
<rect x="325.9" y="108.8" width="0.71" height="2.91" fill="#fff" fill-opacity="0.63"/>
<rect x="327.7" y="111.8" width="0.58" height="1.68" fill="#fff" fill-opacity="0.66"/>
<rect x="325.5" y="115.8" width="0.60" height="3.78" fill="#fff" fill-opacity="0.76"/>
<rect x="330.5" y="117.9" width="0.58" height="3.51" fill="#fff" fill-opacity="0.98"/>
<rect x="328.5" y="122.8" width="2.99" height="0.78" fill="#fff" fill-opacity="0.62"/>
<rect x="333.0" y="38.9" width="0.80" height="2.68" fill="#fff" fill-opacity="0.78"/>
<rect x="328.6" y="36.6" width="0.83" height="2.46" fill="#fff" fill-opacity="0.61"/>
<rect x="328.8" y="45.6" width="1.63" height="0.64" fill="#fff" fill-opacity="0.75"/>
<rect x="328.9" y="47.4" width="0.63" height="1.65" fill="#fff" fill-opacity="0.99"/>
<rect x="332.4" y="44.3" width="2.02" height="0.76" fill="#fff" fill-opacity="0.82"/>
<rect x="329.8" y="52.0" width="0.83" height="2.67" fill="#fff" fill-opacity="0.97"/>
<rect x="331.6" y="52.1" width="0.76" height="3.86" fill="#fff" fill-opacity="0.56"/>
<rect x="328.3" y="50.1" width="0.58" height="4.13" fill="#fff" fill-opacity="0.79"/>
<rect x="329.2" y="60.4" width="1.80" height="0.66" fill="#fff" fill-opacity="0.74"/>
<rect x="330.7" y="61.9" width="1.45" height="0.72" fill="#fff" fill-opacity="0.70"/>
<rect x="330.6" y="62.9" width="2.78" height="0.76" fill="#fff" fill-opacity="0.92"/>
<rect x="327.2" y="67.4" width="1.77" height="0.71" fill="#fff" fill-opacity="0.59"/>
<rect x="329.0" y="67.9" width="0.70" height="4.41" fill="#fff" fill-opacity="0.77"/>
<rect x="327.6" y="71.9" width="3.48" height="0.77" fill="#fff" fill-opacity="0.81"/>
<rect x="332.0" y="71.4" width="0.75" height="1.86" fill="#fff" fill-opacity="0.65"/>
<rect x="331.2" y="71.5" width="0.80" height="3.82" fill="#fff" fill-opacity="0.92"/>
<rect x="328.9" y="76.8" width="2.74" height="0.57" fill="#fff" fill-opacity="0.97"/>
<rect x="333.1" y="74.3" width="0.61" height="3.84" fill="#fff" fill-opacity="0.85"/>
<rect x="330.5" y="79.1" width="2.85" height="0.80" fill="#fff" fill-opacity="1.00"/>
<rect x="331.3" y="83.7" width="2.93" height="0.57" fill="#fff" fill-opacity="0.97"/>
<rect x="329.4" y="87.1" width="0.69" height="1.94" fill="#fff" fill-opacity="0.62"/>
<rect x="328.8" y="86.1" width="3.46" height="0.58" fill="#fff" fill-opacity="0.65"/>
<rect x="331.2" y="90.8" width="0.71" height="3.41" fill="#fff" fill-opacity="0.83"/>
<rect x="327.5" y="93.5" width="1.94" height="0.63" fill="#fff" fill-opacity="0.83"/>
<rect x="332.9" y="92.6" width="0.68" height="1.51" fill="#fff" fill-opacity="0.78"/>
<rect x="327.6" y="100.4" width="0.69" height="1.66" fill="#fff" fill-opacity="0.68"/>
<rect x="326.7" y="103.3" width="2.10" height="0.57" fill="#fff" fill-opacity="0.64"/>
<rect x="327.8" y="103.5" width="3.27" height="0.80" fill="#fff" fill-opacity="0.78"/>
<rect x="330.8" y="100.9" width="0.59" height="4.29" fill="#fff" fill-opacity="0.85"/>
<rect x="326.3" y="105.2" width="2.62" height="0.70" fill="#fff" fill-opacity="0.73"/>
<rect x="327.6" y="108.1" width="0.78" height="3.65" fill="#fff" fill-opacity="0.88"/>
<rect x="327.4" y="112.9" width="2.17" height="0.70" fill="#fff" fill-opacity="0.63"/>
<rect x="332.8" y="112.3" width="2.56" height="0.76" fill="#fff" fill-opacity="0.76"/>
<rect x="327.5" y="117.7" width="0.76" height="2.79" fill="#fff" fill-opacity="0.89"/>
<rect x="326.7" y="122.3" width="3.04" height="0.79" fill="#fff" fill-opacity="0.80"/>
<rect x="327.2" y="123.9" width="3.39" height="0.63" fill="#fff" fill-opacity="0.67"/>
<rect x="333.7" y="38.1" width="3.12" height="0.64" fill="#fff" fill-opacity="0.95"/>
<rect x="331.1" y="40.6" width="3.38" height="0.60" fill="#fff" fill-opacity="0.74"/>
<rect x="333.0" y="38.6" width="0.56" height="3.27" fill="#fff" fill-opacity="0.68"/>
<rect x="332.5" y="44.1" width="2.90" height="0.57" fill="#fff" fill-opacity="0.80"/>
<rect x="331.7" y="42.6" width="0.59" height="3.35" fill="#fff" fill-opacity="0.93"/>
<rect x="330.5" y="50.8" width="3.52" height="0.79" fill="#fff" fill-opacity="0.92"/>
<rect x="331.4" y="55.5" width="2.12" height="0.68" fill="#fff" fill-opacity="0.68"/>
<rect x="334.1" y="51.8" width="2.70" height="0.65" fill="#fff" fill-opacity="0.85"/>
<rect x="330.8" y="56.3" width="2.97" height="0.77" fill="#fff" fill-opacity="0.75"/>
<rect x="328.7" y="56.2" width="3.19" height="0.65" fill="#fff" fill-opacity="0.64"/>
<rect x="330.9" y="58.1" width="0.57" height="1.54" fill="#fff" fill-opacity="0.82"/>
<rect x="330.5" y="67.0" width="2.29" height="0.65" fill="#fff" fill-opacity="0.67"/>
<rect x="334.2" y="64.2" width="0.62" height="2.83" fill="#fff" fill-opacity="0.78"/>
<rect x="334.5" y="68.5" width="0.72" height="2.22" fill="#fff" fill-opacity="0.71"/>
<rect x="331.9" y="71.6" width="0.81" height="1.70" fill="#fff" fill-opacity="0.63"/>
<rect x="335.6" y="70.0" width="0.67" height="3.44" fill="#fff" fill-opacity="0.80"/>
<rect x="335.3" y="74.0" width="0.81" height="3.36" fill="#fff" fill-opacity="0.64"/>
<rect x="334.5" y="76.4" width="0.72" height="4.33" fill="#fff" fill-opacity="0.86"/>
<rect x="329.6" y="80.3" width="2.43" height="0.75" fill="#fff" fill-opacity="0.96"/>
<rect x="330.1" y="84.1" width="0.64" height="2.08" fill="#fff" fill-opacity="0.86"/>
<rect x="330.4" y="87.9" width="2.31" height="0.57" fill="#fff" fill-opacity="0.96"/>
<rect x="334.1" y="87.2" width="2.38" height="0.56" fill="#fff" fill-opacity="0.77"/>
<rect x="330.8" y="91.7" width="0.79" height="3.15" fill="#fff" fill-opacity="0.95"/>
<rect x="336.2" y="88.5" width="0.57" height="4.20" fill="#fff" fill-opacity="0.79"/>
<rect x="330.4" y="95.8" width="0.69" height="2.40" fill="#fff" fill-opacity="0.72"/>
<rect x="330.4" y="99.1" width="0.84" height="1.83" fill="#fff" fill-opacity="0.59"/>
<rect x="330.8" y="98.9" width="0.82" height="1.81" fill="#fff" fill-opacity="0.77"/>
<rect x="333.3" y="102.5" width="0.68" height="4.25" fill="#fff" fill-opacity="0.71"/>
<rect x="334.6" y="104.6" width="0.80" height="2.85" fill="#fff" fill-opacity="0.71"/>
<rect x="332.0" y="108.7" width="0.76" height="1.85" fill="#fff" fill-opacity="0.84"/>
<rect x="332.2" y="111.9" width="0.65" height="3.21" fill="#fff" fill-opacity="0.79"/>
<rect x="330.6" y="112.1" width="3.60" height="0.63" fill="#fff" fill-opacity="0.86"/>
<rect x="331.4" y="114.7" width="2.90" height="0.59" fill="#fff" fill-opacity="0.72"/>
<rect x="331.7" y="116.5" width="3.50" height="0.69" fill="#fff" fill-opacity="0.71"/>
<rect x="330.4" y="120.8" width="3.21" height="0.69" fill="#fff" fill-opacity="0.86"/>
<rect x="332.5" y="120.5" width="2.83" height="0.63" fill="#fff" fill-opacity="0.84"/>
<rect x="336.0" y="36.6" width="0.78" height="3.60" fill="#fff" fill-opacity="1.00"/>
<rect x="336.0" y="39.8" width="0.82" height="3.58" fill="#fff" fill-opacity="0.98"/>
<rect x="334.7" y="41.0" width="0.80" height="3.34" fill="#fff" fill-opacity="0.95"/>
<rect x="335.0" y="45.5" width="0.63" height="3.38" fill="#fff" fill-opacity="0.73"/>
<rect x="333.7" y="48.0" width="1.65" height="0.55" fill="#fff" fill-opacity="0.73"/>
<rect x="336.2" y="49.1" width="0.58" height="1.50" fill="#fff" fill-opacity="0.56"/>
<rect x="336.1" y="48.3" width="0.72" height="2.19" fill="#fff" fill-opacity="0.76"/>
<rect x="334.7" y="55.6" width="2.05" height="0.58" fill="#fff" fill-opacity="0.59"/>
<rect x="333.8" y="53.5" width="0.63" height="3.81" fill="#fff" fill-opacity="0.91"/>
<rect x="336.0" y="60.1" width="0.81" height="3.46" fill="#fff" fill-opacity="0.81"/>
<rect x="334.6" y="61.4" width="2.17" height="0.67" fill="#fff" fill-opacity="0.79"/>
<rect x="334.0" y="62.3" width="2.84" height="0.55" fill="#fff" fill-opacity="0.93"/>
<rect x="334.5" y="67.4" width="0.75" height="3.16" fill="#fff" fill-opacity="0.78"/>
<rect x="333.0" y="65.9" width="2.72" height="0.68" fill="#fff" fill-opacity="0.62"/>
<rect x="333.5" y="69.1" width="3.32" height="0.60" fill="#fff" fill-opacity="0.89"/>
<rect x="334.5" y="73.2" width="2.30" height="0.79" fill="#fff" fill-opacity="0.86"/>
<rect x="333.4" y="76.3" width="3.37" height="0.63" fill="#fff" fill-opacity="0.62"/>
<rect x="336.2" y="75.5" width="0.62" height="2.86" fill="#fff" fill-opacity="0.82"/>
<rect x="332.7" y="83.0" width="1.70" height="0.56" fill="#fff" fill-opacity="0.86"/>
<rect x="333.3" y="81.0" width="3.45" height="0.75" fill="#fff" fill-opacity="0.80"/>
<rect x="336.2" y="87.1" width="0.57" height="3.68" fill="#fff" fill-opacity="0.68"/>
<rect x="336.0" y="88.7" width="0.83" height="2.67" fill="#fff" fill-opacity="0.75"/>
<rect x="331.3" y="94.3" width="3.57" height="0.66" fill="#fff" fill-opacity="0.95"/>
<rect x="332.8" y="92.8" width="0.79" height="2.28" fill="#fff" fill-opacity="0.72"/>
<rect x="336.2" y="92.6" width="0.62" height="3.75" fill="#fff" fill-opacity="0.92"/>
<rect x="333.6" y="96.0" width="0.80" height="4.42" fill="#fff" fill-opacity="0.66"/>
<rect x="336.0" y="97.4" width="0.77" height="3.20" fill="#fff" fill-opacity="0.75"/>
<rect x="334.5" y="106.8" width="2.28" height="0.57" fill="#fff" fill-opacity="0.67"/>
<rect x="334.5" y="105.8" width="0.71" height="4.28" fill="#fff" fill-opacity="0.63"/>
<rect x="336.0" y="104.6" width="0.79" height="2.80" fill="#fff" fill-opacity="0.65"/>
<rect x="334.8" y="112.4" width="0.84" height="2.45" fill="#fff" fill-opacity="0.75"/>
<rect x="335.5" y="112.5" width="0.68" height="4.08" fill="#fff" fill-opacity="0.83"/>
<rect x="335.6" y="116.5" width="0.67" height="1.96" fill="#fff" fill-opacity="0.86"/>
<rect x="334.3" y="115.7" width="0.71" height="2.99" fill="#fff" fill-opacity="0.90"/>
<rect x="336.2" y="115.8" width="0.56" height="4.19" fill="#fff" fill-opacity="0.87"/>
<rect x="334.5" y="123.8" width="2.16" height="0.66" fill="#fff" fill-opacity="0.73"/>
</g>
<text class="b" x="0.5" y="137.5" font-size="10.4" textLength="12.4" lengthAdjust="spacingAndGlyphs">(b)</text>
<text class="b" x="29.8" y="141.8" font-size="10.4" textLength="76.5" lengthAdjust="spacingAndGlyphs">No astigmatism</text>
<text class="b" x="29.8" y="184.6" font-size="10.4" textLength="85.0" lengthAdjust="spacingAndGlyphs">Mild astigmatism</text>
<text class="b" x="29.8" y="227.9" font-size="10.4" textLength="94.5" lengthAdjust="spacingAndGlyphs">Strong astigmatism</text>
<rect x="28.10" y="146.40" width="25.6" height="25.0" rx="1.2" fill="#0072BD"/>
<rect x="30.00" y="148.30" width="21.80" height="21.20" fill="#000"/>
<ellipse cx="40.20" cy="158.90" rx="5.5" ry="5.5" fill="#222" stroke="#a8a8a8" stroke-width="1.1"/>
<rect x="62.60" y="146.40" width="25.6" height="25.0" rx="1.2" fill="#0072BD"/>
<rect x="64.50" y="148.30" width="21.80" height="21.20" fill="#000"/>
<ellipse cx="74.70" cy="158.90" rx="4.1" ry="4.1" fill="#444" stroke="#bbb" stroke-width="1.1"/>
<rect x="97.10" y="146.40" width="25.6" height="25.0" rx="1.2" fill="#0072BD"/>
<rect x="99.00" y="148.30" width="21.80" height="21.20" fill="#000"/>
<ellipse cx="109.20" cy="158.90" rx="2.4" ry="2.4" fill="#555" stroke="#ddd" stroke-width="1.7"/>
<rect x="131.60" y="146.40" width="25.6" height="25.0" rx="1.2" fill="#0072BD"/>
<rect x="133.50" y="148.30" width="21.80" height="21.20" fill="#000"/>
<ellipse cx="143.70" cy="158.90" rx="3.0" ry="3.0" fill="url(#gc)"/>
<rect x="166.10" y="146.40" width="25.6" height="25.0" rx="1.2" fill="#0072BD"/>
<rect x="168.00" y="148.30" width="21.80" height="21.20" fill="#000"/>
<ellipse cx="178.20" cy="158.90" rx="2.0" ry="2.0" fill="url(#gc)"/>
<rect x="200.60" y="146.40" width="25.6" height="25.0" rx="1.2" fill="#0072BD"/>
<rect x="202.50" y="148.30" width="21.80" height="21.20" fill="#000"/>
<ellipse cx="212.70" cy="158.90" rx="2.9" ry="2.9" fill="url(#g6)"/>
<rect x="235.10" y="146.40" width="25.6" height="25.0" rx="1.2" fill="#0072BD"/>
<rect x="237.00" y="148.30" width="21.80" height="21.20" fill="#000"/>
<ellipse cx="247.20" cy="158.90" rx="4.0" ry="4.0" fill="url(#g7)"/>
<rect x="269.60" y="146.40" width="25.6" height="25.0" rx="1.2" fill="#0072BD"/>
<rect x="271.50" y="148.30" width="21.80" height="21.20" fill="#000"/>
<ellipse cx="281.70" cy="158.90" rx="5.0" ry="5.0" fill="url(#g8)"/>
<rect x="304.10" y="146.40" width="25.6" height="25.0" rx="1.2" fill="#0072BD"/>
<rect x="306.00" y="148.30" width="21.80" height="21.20" fill="#000"/>
<ellipse cx="316.20" cy="158.90" rx="6.4" ry="6.4" fill="url(#g9)"/>
<rect x="28.10" y="189.70" width="25.6" height="25.0" rx="1.2" fill="#D95319"/>
<rect x="30.00" y="191.60" width="21.80" height="21.20" fill="#000"/>
<ellipse cx="40.20" cy="202.20" rx="3.9" ry="6.9" fill="#222" stroke="#999" stroke-width="1.0"/>
<rect x="62.60" y="189.70" width="25.6" height="25.0" rx="1.2" fill="#D95319"/>
<rect x="64.50" y="191.60" width="21.80" height="21.20" fill="#000"/>
<ellipse cx="74.70" cy="202.20" rx="2.9" ry="5.6" fill="#444" stroke="#bbb" stroke-width="1.0"/>
<rect x="97.10" y="189.70" width="25.6" height="25.0" rx="1.2" fill="#D95319"/>
<rect x="99.00" y="191.60" width="21.80" height="21.20" fill="#000"/>
<ellipse cx="109.20" cy="202.20" rx="1.8" ry="4.4" fill="#777" stroke="#e4e4e4" stroke-width="1.5"/>
<rect x="131.60" y="189.70" width="25.6" height="25.0" rx="1.2" fill="#D95319"/>
<rect x="133.50" y="191.60" width="21.80" height="21.20" fill="#000"/>
<ellipse cx="143.70" cy="202.20" rx="1.6" ry="4.1" fill="#fff"/>
<rect x="166.10" y="189.70" width="25.6" height="25.0" rx="1.2" fill="#D95319"/>
<rect x="168.00" y="191.60" width="21.80" height="21.20" fill="#000"/>
<polygon points="176.60,202.20 178.20,198.90 179.80,202.20 178.20,205.50" fill="#fff"/>
<rect x="200.60" y="189.70" width="25.6" height="25.0" rx="1.2" fill="#D95319"/>
<rect x="202.50" y="191.60" width="21.80" height="21.20" fill="#000"/>
<polygon points="209.20,202.20 211.80,201.30 212.70,199.20 213.60,201.30 216.20,202.20 213.60,203.10 212.70,205.20 211.80,203.10" fill="#fff"/>
<rect x="235.10" y="189.70" width="25.6" height="25.0" rx="1.2" fill="#D95319"/>
<rect x="237.00" y="191.60" width="21.80" height="21.20" fill="#000"/>
<ellipse cx="247.20" cy="202.20" rx="4.9" ry="2.2" fill="url(#gh)"/>
<ellipse cx="247.20" cy="202.20" rx="3.8" ry="1.25" fill="url(#gc)"/>
<rect x="269.60" y="189.70" width="25.6" height="25.0" rx="1.2" fill="#D95319"/>
<rect x="271.50" y="191.60" width="21.80" height="21.20" fill="#000"/>
<ellipse cx="281.70" cy="202.20" rx="5.4" ry="3.1" fill="url(#gh)"/>
<ellipse cx="281.70" cy="202.20" rx="3.4" ry="0.75" fill="url(#gc)"/>
<rect x="304.10" y="189.70" width="25.6" height="25.0" rx="1.2" fill="#D95319"/>
<rect x="306.00" y="191.60" width="21.80" height="21.20" fill="#000"/>
<ellipse cx="316.20" cy="202.20" rx="6.3" ry="4.0" fill="url(#gh)"/>
<ellipse cx="316.20" cy="202.20" rx="3.3" ry="0.8" fill="url(#gc)"/>
<rect x="28.10" y="232.90" width="25.6" height="25.0" rx="1.2" fill="#EDB120"/>
<rect x="30.00" y="234.80" width="21.80" height="21.20" fill="#000"/>
<ellipse cx="40.20" cy="245.40" rx="2.1" ry="10.0" fill="#333" stroke="#aaa" stroke-width="0.9"/>
<rect x="62.60" y="232.90" width="25.6" height="25.0" rx="1.2" fill="#EDB120"/>
<rect x="64.50" y="234.80" width="21.80" height="21.20" fill="#000"/>
<ellipse cx="74.70" cy="245.40" rx="1.6" ry="8.6" fill="#666" stroke="#ccc" stroke-width="0.8"/>
<rect x="97.10" y="232.90" width="25.6" height="25.0" rx="1.2" fill="#EDB120"/>
<rect x="99.00" y="234.80" width="21.80" height="21.20" fill="#000"/>
<ellipse cx="109.20" cy="245.40" rx="1.4" ry="7.5" fill="#ccc"/>
<rect x="131.60" y="232.90" width="25.6" height="25.0" rx="1.2" fill="#EDB120"/>
<rect x="133.50" y="234.80" width="21.80" height="21.20" fill="#000"/>
<ellipse cx="143.70" cy="245.40" rx="1.2" ry="5.6" fill="#eee"/>
<rect x="166.10" y="232.90" width="25.6" height="25.0" rx="1.2" fill="#EDB120"/>
<rect x="168.00" y="234.80" width="21.80" height="21.20" fill="#000"/>
<path d="M178.20,240.00 Q184.00,245.40 178.20,250.80 Q172.40,245.40 178.20,240.00Z" fill="#686868" stroke="#aaa" stroke-width="0.5"/>
<rect x="177.70" y="240.80" width="1" height="9.20" fill="#fff"/>
<rect x="200.60" y="232.90" width="25.6" height="25.0" rx="1.2" fill="#EDB120"/>
<rect x="202.50" y="234.80" width="21.80" height="21.20" fill="#000"/>
<polygon points="208.40,245.40 212.70,241.00 217.00,245.40 212.70,249.80" fill="#6a6a6a"/>
<rect x="212.25" y="241.90" width="0.9" height="7.00" fill="#fff" fill-opacity="0.85"/>
<rect x="209.30" y="244.95" width="6.80" height="0.9" fill="#fff" fill-opacity="0.85"/>
<circle cx="212.70" cy="245.40" r="0.9" fill="#fff"/>
<rect x="235.10" y="232.90" width="25.6" height="25.0" rx="1.2" fill="#EDB120"/>
<rect x="237.00" y="234.80" width="21.80" height="21.20" fill="#000"/>
<polygon points="242.50,245.40 247.20,242.20 251.90,245.40 247.20,248.60" fill="#6a6a6a"/>
<ellipse cx="247.20" cy="245.40" rx="3.70" ry="0.75" fill="#fff"/>
<rect x="246.80" y="243.00" width="0.8" height="4.80" fill="#fff" fill-opacity="0.5"/>
<rect x="269.60" y="232.90" width="25.6" height="25.0" rx="1.2" fill="#EDB120"/>
<rect x="271.50" y="234.80" width="21.80" height="21.20" fill="#000"/>
<polygon points="275.70,245.40 281.70,243.10 287.70,245.40 281.70,247.70" fill="#6a6a6a"/>
<ellipse cx="281.70" cy="245.40" rx="4.80" ry="0.95" fill="#fff"/>
<rect x="304.10" y="232.90" width="25.6" height="25.0" rx="1.2" fill="#EDB120"/>
<rect x="306.00" y="234.80" width="21.80" height="21.20" fill="#000"/>
<ellipse cx="316.20" cy="245.40" rx="6.8" ry="2.1" fill="url(#gh)"/>
<ellipse cx="316.20" cy="245.40" rx="5.6" ry="0.8" fill="#fff"/>
<text class="b" x="0.4" y="275.9" font-size="10.8" textLength="12.2" lengthAdjust="spacingAndGlyphs">(c)</text>
<rect x="49.6" y="279.5" width="286.2" height="78.8" fill="none" stroke="#262626" stroke-width="0.75"/>
<text class="t" x="49.6" y="370.7" font-size="10" text-anchor="middle">0</text>
<line x1="84.9" y1="358.3" x2="84.9" y2="355.5" stroke="#262626" stroke-width="0.5"/>
<line x1="84.9" y1="279.5" x2="84.9" y2="282.3" stroke="#262626" stroke-width="0.5"/>
<text class="t" x="84.9" y="370.7" font-size="10" text-anchor="middle">10</text>
<line x1="120.2" y1="358.3" x2="120.2" y2="355.5" stroke="#262626" stroke-width="0.5"/>
<line x1="120.2" y1="279.5" x2="120.2" y2="282.3" stroke="#262626" stroke-width="0.5"/>
<text class="t" x="120.2" y="370.7" font-size="10" text-anchor="middle">20</text>
<line x1="155.5" y1="358.3" x2="155.5" y2="355.5" stroke="#262626" stroke-width="0.5"/>
<line x1="155.5" y1="279.5" x2="155.5" y2="282.3" stroke="#262626" stroke-width="0.5"/>
<text class="t" x="155.5" y="370.7" font-size="10" text-anchor="middle">30</text>
<line x1="190.8" y1="358.3" x2="190.8" y2="355.5" stroke="#262626" stroke-width="0.5"/>
<line x1="190.8" y1="279.5" x2="190.8" y2="282.3" stroke="#262626" stroke-width="0.5"/>
<text class="t" x="190.8" y="370.7" font-size="10" text-anchor="middle">40</text>
<line x1="226.1" y1="358.3" x2="226.1" y2="355.5" stroke="#262626" stroke-width="0.5"/>
<line x1="226.1" y1="279.5" x2="226.1" y2="282.3" stroke="#262626" stroke-width="0.5"/>
<text class="t" x="226.1" y="370.7" font-size="10" text-anchor="middle">50</text>
<line x1="261.4" y1="358.3" x2="261.4" y2="355.5" stroke="#262626" stroke-width="0.5"/>
<line x1="261.4" y1="279.5" x2="261.4" y2="282.3" stroke="#262626" stroke-width="0.5"/>
<text class="t" x="261.4" y="370.7" font-size="10" text-anchor="middle">60</text>
<line x1="296.7" y1="358.3" x2="296.7" y2="355.5" stroke="#262626" stroke-width="0.5"/>
<line x1="296.7" y1="279.5" x2="296.7" y2="282.3" stroke="#262626" stroke-width="0.5"/>
<text class="t" x="296.7" y="370.7" font-size="10" text-anchor="middle">70</text>
<line x1="332.0" y1="358.3" x2="332.0" y2="355.5" stroke="#262626" stroke-width="0.5"/>
<line x1="332.0" y1="279.5" x2="332.0" y2="282.3" stroke="#262626" stroke-width="0.5"/>
<text class="t" x="332.0" y="370.7" font-size="10" text-anchor="middle">80</text>
<text class="t" x="46.2" y="362.0" font-size="10" text-anchor="end">500</text>
<line x1="49.6" y1="318.9" x2="52.4" y2="318.9" stroke="#262626" stroke-width="0.5"/>
<line x1="335.8" y1="318.9" x2="333.0" y2="318.9" stroke="#262626" stroke-width="0.5"/>
<text class="t" x="46.2" y="322.6" font-size="10" text-anchor="end">1000</text>
<text class="t" x="46.2" y="283.2" font-size="10" text-anchor="end">1500</text>
<g clip-path="url(#cp)"><polyline points="49.5,350.1 64.0,348.4 78.4,346.9 92.8,344.8 107.3,341.9 121.8,338.1 136.2,332.1 150.6,326.4 165.1,319.0 179.5,307.1 194.0,290.9 208.4,315.1 222.9,329.9 237.3,338.0 251.8,342.9 266.2,346.0 280.7,348.5 295.1,350.2 309.6,351.6 324.1,353.0 335.8,354.1" fill="none" stroke="#0072BD" stroke-width="1.6" stroke-linejoin="round"/></g>
<circle cx="49.5" cy="350.1" r="3.05" fill="#0072BD"/>
<circle cx="64.0" cy="348.4" r="3.05" fill="#0072BD"/>
<circle cx="78.4" cy="346.9" r="3.05" fill="#0072BD"/>
<circle cx="92.8" cy="344.8" r="3.05" fill="#0072BD"/>
<circle cx="107.3" cy="341.9" r="3.05" fill="#0072BD"/>
<circle cx="121.8" cy="338.1" r="3.05" fill="#0072BD"/>
<circle cx="136.2" cy="332.1" r="3.05" fill="#0072BD"/>
<circle cx="150.6" cy="326.4" r="3.05" fill="#0072BD"/>
<circle cx="165.1" cy="319.0" r="3.05" fill="#0072BD"/>
<circle cx="179.5" cy="307.1" r="3.05" fill="#0072BD"/>
<circle cx="194.0" cy="290.9" r="3.05" fill="#0072BD"/>
<circle cx="208.4" cy="315.1" r="3.05" fill="#0072BD"/>
<circle cx="222.9" cy="329.9" r="3.05" fill="#0072BD"/>
<circle cx="237.3" cy="338.0" r="3.05" fill="#0072BD"/>
<circle cx="251.8" cy="342.9" r="3.05" fill="#0072BD"/>
<circle cx="266.2" cy="346.0" r="3.05" fill="#0072BD"/>
<circle cx="280.7" cy="348.5" r="3.05" fill="#0072BD"/>
<circle cx="295.1" cy="350.2" r="3.05" fill="#0072BD"/>
<circle cx="309.6" cy="351.6" r="3.05" fill="#0072BD"/>
<circle cx="324.1" cy="353.0" r="3.05" fill="#0072BD"/>
<g clip-path="url(#cp)"><polyline points="49.5,348.5 64.0,347.1 78.4,345.6 92.8,343.3 107.3,340.4 121.8,336.6 136.2,331.1 150.6,324.3 165.1,315.9 179.5,309.5 194.0,305.3 208.4,301.8 222.9,308.5 237.3,321.1 251.8,332.7 266.2,339.4 280.7,343.6 295.1,346.4 309.6,348.5 324.1,350.2 335.8,351.4" fill="none" stroke="#D95319" stroke-width="1.6" stroke-linejoin="round"/></g>
<circle cx="49.5" cy="348.5" r="3.05" fill="#D95319"/>
<circle cx="64.0" cy="347.1" r="3.05" fill="#D95319"/>
<circle cx="78.4" cy="345.6" r="3.05" fill="#D95319"/>
<circle cx="92.8" cy="343.3" r="3.05" fill="#D95319"/>
<circle cx="107.3" cy="340.4" r="3.05" fill="#D95319"/>
<circle cx="121.8" cy="336.6" r="3.05" fill="#D95319"/>
<circle cx="136.2" cy="331.1" r="3.05" fill="#D95319"/>
<circle cx="150.6" cy="324.3" r="3.05" fill="#D95319"/>
<circle cx="165.1" cy="315.9" r="3.05" fill="#D95319"/>
<circle cx="179.5" cy="309.5" r="3.05" fill="#D95319"/>
<circle cx="194.0" cy="305.3" r="3.05" fill="#D95319"/>
<circle cx="208.4" cy="301.8" r="3.05" fill="#D95319"/>
<circle cx="222.9" cy="308.5" r="3.05" fill="#D95319"/>
<circle cx="237.3" cy="321.1" r="3.05" fill="#D95319"/>
<circle cx="251.8" cy="332.7" r="3.05" fill="#D95319"/>
<circle cx="266.2" cy="339.4" r="3.05" fill="#D95319"/>
<circle cx="280.7" cy="343.6" r="3.05" fill="#D95319"/>
<circle cx="295.1" cy="346.4" r="3.05" fill="#D95319"/>
<circle cx="309.6" cy="348.5" r="3.05" fill="#D95319"/>
<circle cx="324.1" cy="350.2" r="3.05" fill="#D95319"/>
<g clip-path="url(#cp)"><polyline points="49.5,345.0 64.0,343.2 78.4,340.3 92.8,336.9 107.3,332.3 121.8,328.1 136.2,331.0 150.6,333.5 165.1,334.8 179.5,335.8 194.0,336.2 208.4,335.9 222.9,335.1 237.3,333.6 251.8,331.6 266.2,330.6 280.7,329.9 295.1,332.3 309.6,338.7 324.1,343.2 335.8,346.8" fill="none" stroke="#EDB120" stroke-width="1.6" stroke-linejoin="round"/></g>
<circle cx="49.5" cy="345.0" r="3.05" fill="#EDB120"/>
<circle cx="64.0" cy="343.2" r="3.05" fill="#EDB120"/>
<circle cx="78.4" cy="340.3" r="3.05" fill="#EDB120"/>
<circle cx="92.8" cy="336.9" r="3.05" fill="#EDB120"/>
<circle cx="107.3" cy="332.3" r="3.05" fill="#EDB120"/>
<circle cx="121.8" cy="328.1" r="3.05" fill="#EDB120"/>
<circle cx="136.2" cy="331.0" r="3.05" fill="#EDB120"/>
<circle cx="150.6" cy="333.5" r="3.05" fill="#EDB120"/>
<circle cx="165.1" cy="334.8" r="3.05" fill="#EDB120"/>
<circle cx="179.5" cy="335.8" r="3.05" fill="#EDB120"/>
<circle cx="194.0" cy="336.2" r="3.05" fill="#EDB120"/>
<circle cx="208.4" cy="335.9" r="3.05" fill="#EDB120"/>
<circle cx="222.9" cy="335.1" r="3.05" fill="#EDB120"/>
<circle cx="237.3" cy="333.6" r="3.05" fill="#EDB120"/>
<circle cx="251.8" cy="331.6" r="3.05" fill="#EDB120"/>
<circle cx="266.2" cy="330.6" r="3.05" fill="#EDB120"/>
<circle cx="280.7" cy="329.9" r="3.05" fill="#EDB120"/>
<circle cx="295.1" cy="332.3" r="3.05" fill="#EDB120"/>
<circle cx="309.6" cy="338.7" r="3.05" fill="#EDB120"/>
<circle cx="324.1" cy="343.2" r="3.05" fill="#EDB120"/>
<text class="t" x="176.3" y="383.2" font-size="11.8" textLength="32" lengthAdjust="spacingAndGlyphs"><tspan font-style="italic">z</tspan> [<tspan font-style="italic">μ</tspan>m]</text>
<text class="t" transform="translate(20.3,346) rotate(-90)" font-size="12"><tspan font-style="italic">μ</tspan><tspan font-size="8.4" x="6.6" dy="1.9">p</tspan></text>
<text class="t" transform="translate(20.3,330.3) rotate(-90)" font-size="11.8" textLength="37.9" lengthAdjust="spacingAndGlyphs">[counts]</text>
</svg>
</body></html>
